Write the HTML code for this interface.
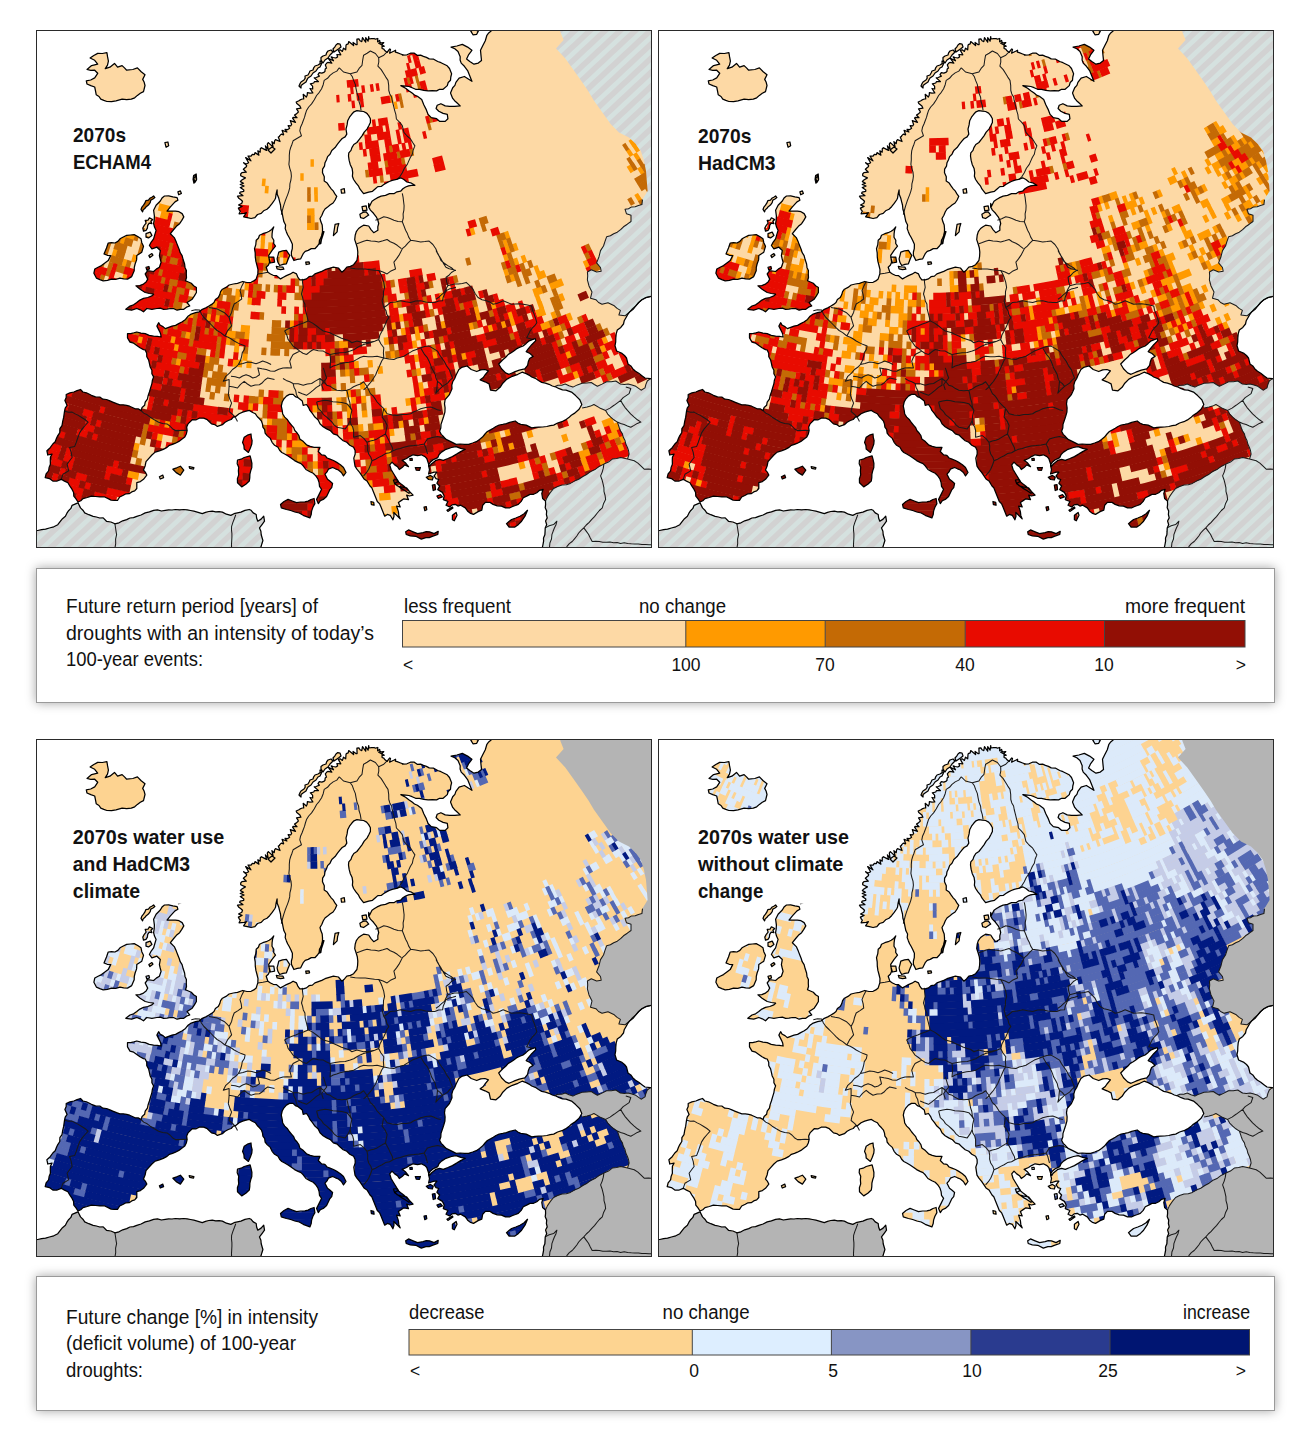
<!DOCTYPE html>
<html><head><meta charset="utf-8"><title>Drought maps</title>
<style>
html,body{margin:0;padding:0;background:#fff}
body{width:1310px;height:1435px;position:relative;overflow:hidden;font-family:"Liberation Sans",sans-serif;color:#111}
.map{position:absolute;display:block}
.lbl{font-family:"Liberation Sans",sans-serif;font-weight:bold;font-size:20.5px;fill:#111}
.legend{position:absolute;left:36px;width:1237px;background:#fff;border:1px solid #9a9a9a;box-shadow:0 0 10px rgba(0,0,0,.36)}
.legend svg{position:absolute;left:-1px;top:-1px;display:block}
.t{font-family:"Liberation Sans",sans-serif;font-size:20px;fill:#111}
.n{font-family:"Liberation Sans",sans-serif;font-size:17.5px;fill:#111}
</style></head><body>
<svg width="0" height="0" style="position:absolute"><defs>
<pattern id="hatch" width="10.3" height="10.3" patternUnits="userSpaceOnUse" patternTransform="rotate(-43)"><rect width="10.3" height="10.3" fill="#d2d2d2"/><rect y="0" width="10.3" height="4.7" fill="#d5e1df"/></pattern><clipPath id="frame"><rect x="0" y="0" width="615" height="517.5"/></clipPath><clipPath id="landclip"><path d="M505.8,519.9 506.5,517.0 507.1,514.0 507.6,511.1 507.5,508.0 508.9,504.8 509.1,501.4 509.2,497.9 510.7,494.7 509.6,491.0 511.2,487.9 510.4,484.5 510.7,481.0 509.2,477.8 509.6,474.4 509.5,471.1 506.6,468.5 505.8,463.5 507.1,459.3 503.6,460.3 500.8,462.7 497.6,464.3 494.0,464.4 490.7,466.1 487.3,467.7 485.2,471.4 482.3,474.4 479.5,475.5 476.6,476.5 473.9,477.8 469.5,477.9 465.5,476.1 461.2,475.8 457.1,474.4 454.0,472.4 449.4,472.4 446.7,475.2 445.8,480.2 442.1,481.6 437.5,484.4 434.6,483.4 432.0,481.6 429.3,477.9 424.7,475.2 421.9,476.1 419.2,474.3 416.1,474.9 413.7,477.0 410.0,475.2 411.9,471.5 407.3,469.7 408.2,466.0 406.4,462.4 401.8,459.6 403.6,456.0 400.9,453.2 402.7,449.5 400.0,448.6 398.1,445.9 400.9,442.2 398.1,442.2 392.6,444.0 393.5,439.5 392.6,435.8 392.6,434.0 390.8,428.5 389.0,426.6 385.3,424.8 381.6,425.7 377.1,424.8 373.4,426.6 370.6,428.5 366.1,430.3 369.7,433.1 372.5,436.7 368.8,434.9 366.1,437.6 363.3,439.5 361.5,436.7 358.7,434.9 356.0,432.1 353.7,434.9 355.1,439.5 357.8,444.0 360.6,448.6 362.4,451.4 358.7,453.2 361.5,456.0 365.1,456.9 370.6,457.8 373.4,461.5 377.1,465.1 373.4,466.0 370.6,465.1 372.5,469.7 367.9,468.8 365.1,470.6 362.4,472.4 364.2,477.0 360.6,476.1 362.4,481.6 362.8,485.4 364.2,488.9 360.6,485.3 357.8,482.5 358.0,486.3 356.9,489.8 354.2,485.3 351.4,484.4 348.7,486.2 346.8,481.6 345.0,477.0 343.7,473.9 341.3,471.5 339.5,466.9 337.7,462.4 335.8,457.8 334.0,456.0 331.0,450.9 328.0,448.9 326.0,445.9 323.6,442.4 320.9,439.2 319.0,436.1 318.4,432.4 317.8,428.1 319.2,424.0 319.1,420.5 317.6,417.3 313.8,415.3 310.8,412.3 307.2,410.7 304.1,408.1 301.3,405.2 297.4,403.9 294.5,400.8 290.7,398.9 287.1,396.7 284.0,393.8 282.2,389.9 278.9,387.1 276.5,383.7 273.9,380.4 272.5,377.3 270.5,374.5 267.2,375.3 266.3,371.1 262.1,367.8 259.3,366.6 257.1,364.4 253.5,364.4 250.4,366.1 248.0,368.8 246.2,372.0 245.3,376.2 246.2,380.4 246.7,384.0 248.7,387.1 251.5,389.8 253.7,393.0 255.7,395.3 257.7,397.6 258.8,400.5 261.1,403.0 262.9,405.7 263.8,408.9 267.4,411.6 270.5,414.8 274.2,416.3 278.1,417.3 284.0,417.3 282.3,421.5 285.6,424.9 288.9,425.4 291.1,428.0 294.0,429.1 297.5,430.5 300.8,432.4 304.4,434.7 307.5,437.5 310.0,442.5 307.5,445.9 305.4,442.5 302.4,440.0 299.5,438.8 296.6,437.5 292.4,439.2 291.0,441.9 289.0,444.2 291.5,449.2 294.1,451.3 296.6,453.4 295.7,457.6 293.7,459.9 292.4,462.7 290.6,466.6 287.3,469.4 284.2,470.8 282.3,473.6 280.6,469.4 283.1,464.4 285.6,459.3 283.5,456.3 283.1,452.6 281.9,449.0 279.8,445.9 277.2,443.2 273.9,441.7 269.9,439.5 267.2,435.8 265.0,433.6 262.1,432.4 258.6,430.6 255.4,428.2 252.1,426.0 248.7,424.0 245.8,422.5 243.6,420.2 242.0,417.3 238.6,415.3 236.1,412.3 234.3,408.4 231.1,405.6 229.1,403.0 228.7,399.7 226.9,397.2 226.5,394.1 225.5,391.2 223.5,388.8 221.2,386.5 219.3,383.7 216.2,382.3 213.4,380.4 210.1,381.2 206.7,382.1 203.1,383.7 200.0,386.3 197.3,387.2 195.2,389.5 192.3,390.5 189.1,392.2 186.4,394.7 181.4,396.4 178.7,394.6 175.5,393.9 171.3,389.7 167.7,388.2 163.7,388.0 160.2,389.8 156.2,389.7 152.0,393.9 150.7,397.1 151.1,400.6 150.3,404.0 148.8,407.0 146.1,409.0 142.9,411.4 139.4,413.2 136.5,414.4 133.4,415.3 131.0,417.4 127.3,419.4 123.4,420.8 119.2,422.1 115.9,425.0 112.9,428.3 110.0,431.7 109.1,436.0 107.5,440.1 109.5,442.4 110.8,445.1 107.5,449.3 104.4,451.6 100.8,452.7 100.8,458.5 98.7,460.9 95.7,461.9 93.2,463.7 90.0,463.8 87.3,465.3 83.7,467.0 81.5,470.3 78.3,470.4 75.1,470.1 72.2,468.6 68.2,466.8 63.8,466.9 59.6,466.5 55.4,466.1 51.3,467.5 47.0,468.6 44.8,470.7 42.0,472.0 40.0,468.9 37.8,466.1 37.6,462.6 36.1,459.4 33.9,456.1 31.9,452.7 28.5,451.1 25.2,449.3 21.2,451.0 16.8,451.0 13.4,448.6 9.2,447.6 10.1,443.9 12.6,440.9 13.1,437.6 14.4,434.3 14.3,430.8 14.4,427.3 16.0,424.1 11.8,425.0 10.9,420.8 14.2,417.7 16.8,414.0 19.2,411.7 20.4,408.6 21.8,405.6 23.8,402.5 23.9,398.6 26.0,395.6 26.7,391.3 27.7,387.2 28.5,381.3 29.2,378.1 31.1,375.4 28.9,370.4 30.2,367.6 30.2,364.5 33.9,362.9 37.8,362.0 41.1,360.6 44.5,359.5 46.9,362.0 50.4,362.8 55.4,365.3 59.5,366.9 63.8,367.0 66.8,369.2 70.5,369.5 73.9,370.9 77.3,372.3 80.6,373.7 83.9,374.8 87.3,374.8 90.7,375.4 93.6,376.2 96.4,377.5 99.1,378.8 102.2,378.9 105.0,380.5 106.1,377.5 108.6,375.3 109.2,372.1 111.4,369.1 112.2,365.4 113.4,362.0 114.6,357.8 115.9,353.6 116.4,350.2 117.6,346.9 115.9,343.7 115.9,340.2 114.2,337.0 113.4,333.4 112.6,329.9 110.8,326.7 110.7,323.2 109.2,320.0 107.5,319.6 104.0,317.8 100.8,315.4 97.7,313.2 94.0,312.1 91.5,307.9 91.5,303.7 94.7,303.6 97.8,302.9 100.8,302.0 104.9,303.1 109.2,303.7 113.2,305.4 117.6,306.2 121.4,306.3 125.1,307.0 124.7,304.0 123.4,301.1 120.9,296.1 122.6,292.7 124.3,295.3 127.0,296.6 129.3,298.6 132.7,297.3 136.0,296.1 139.6,295.4 142.7,293.6 146.3,291.8 149.5,289.4 151.7,286.6 154.5,284.4 159.5,282.7 163.3,281.8 166.3,279.3 169.8,277.9 173.0,276.0 175.6,274.4 178.0,272.6 179.4,269.5 182.2,267.6 183.7,264.8 184.6,261.7 186.4,259.2 190.0,257.4 193.1,255.0 197.3,254.0 201.5,253.3 206.7,251.5 210.9,252.5 215.1,252.3 217.8,250.9 220.2,248.9 221.8,243.9 222.0,239.6 221.0,235.5 219.9,231.4 219.3,227.1 219.2,222.9 218.5,218.7 219.8,214.6 220.2,210.3 222.4,208.2 223.5,205.3 226.8,203.7 230.2,202.7 233.2,201.3 235.7,199.4 237.8,196.9 236.6,200.1 236.1,203.6 236.0,207.2 237.8,210.3 237.7,213.5 239.5,216.2 236.1,220.4 234.4,222.9 232.7,225.4 233.1,228.8 233.6,232.1 232.5,235.0 230.2,237.2 231.9,242.2 234.5,244.0 237.2,245.3 240.3,245.6 244.5,248.9 247.4,247.2 250.4,245.6 253.9,244.2 257.1,242.2 260.5,243.9 261.8,247.1 263.8,249.8 267.2,249.8 270.5,248.9 273.0,246.7 276.4,246.1 278.9,243.9 282.4,242.6 285.8,241.4 289.0,239.7 293.2,238.3 297.4,237.2 302.4,238.0 305.8,242.2 308.5,239.9 310.8,237.2 314.4,236.4 317.6,234.7 320.9,230.5 321.6,226.3 321.8,222.1 321.3,217.8 320.1,213.7 318.7,209.6 319.2,205.3 320.3,201.6 322.6,198.5 325.0,196.8 327.6,195.2 332.7,196.0 335.0,199.6 337.7,202.7 341.9,200.2 341.8,196.8 342.7,193.5 341.8,190.0 340.2,186.8 337.5,183.3 334.4,180.1 332.6,176.9 332.7,173.4 333.5,176.3 336.0,171.3 338.5,169.6 341.1,167.9 345.1,166.2 349.5,165.4 353.5,163.7 357.9,163.7 361.0,161.8 364.6,161.2 366.9,158.8 369.6,157.0 372.6,155.8 375.7,155.3 378.9,155.3 374.7,152.8 370.9,152.0 367.9,149.5 364.6,147.8 360.5,149.3 356.2,150.3 353.3,151.5 350.5,152.9 347.8,154.5 345.2,156.4 341.8,156.6 339.4,158.7 336.5,161.3 332.7,162.1 327.6,163.7 325.8,161.3 323.9,158.9 322.6,156.2 319.9,152.9 317.6,149.5 316.4,146.2 316.7,142.7 316.1,138.4 314.2,134.4 313.1,130.2 312.5,126.0 312.8,122.8 315.0,120.4 315.9,117.6 317.8,114.5 320.9,112.5 323.5,109.2 326.0,105.8 328.2,102.2 331.0,99.1 332.8,95.8 334.4,92.4 334.4,88.8 332.7,85.6 330.6,83.1 327.6,81.5 324.3,81.2 320.9,80.6 318.0,81.8 315.9,84.0 313.5,87.2 311.7,90.7 311.1,94.9 310.0,99.1 310.8,104.1 309.1,106.9 306.2,108.5 304.1,110.8 301.5,114.1 299.1,117.6 295.8,120.4 294.0,124.3 291.6,126.6 290.5,129.8 289.0,132.7 288.5,136.1 286.6,139.2 286.5,142.7 288.3,146.8 288.2,151.1 291.2,153.1 293.2,156.2 295.2,158.8 297.4,161.2 298.9,163.9 300.8,166.3 299.1,170.0 297.1,173.0 294.0,175.0 291.6,177.1 289.0,179.0 287.3,181.8 285.9,185.2 284.0,188.5 284.9,191.8 286.2,195.1 286.5,198.5 286.5,202.8 285.6,206.9 283.5,210.0 283.1,213.7 281.2,216.3 278.9,218.7 275.3,218.6 272.2,220.4 269.2,221.4 267.2,223.7 264.7,228.8 261.3,229.4 257.9,230.5 255.4,225.4 255.4,222.0 256.3,218.7 256.4,214.3 254.6,210.3 253.2,207.5 251.6,204.8 250.4,201.9 249.2,198.6 249.6,195.0 247.9,191.8 247.0,187.6 246.2,183.4 244.9,179.3 244.5,175.0 243.6,171.7 242.8,168.3 241.2,164.3 241.1,159.9 240.1,164.1 239.5,168.3 238.6,170.0 236.2,173.4 233.6,176.7 231.0,179.3 227.6,180.8 225.2,183.4 221.5,184.5 218.9,187.7 215.1,188.5 211.4,187.6 207.6,186.8 210.4,182.7 208.2,183.3 203.1,183.8 204.4,181.1 203.4,180.1 202.4,178.1 206.1,176.4 202.5,175.0 205.8,173.3 206.5,171.3 204.9,169.8 202.5,167.9 201.5,166.2 206.9,165.6 203.6,163.3 204.1,162.2 207.7,161.4 207.8,160.1 204.3,157.6 208.1,156.0 204.2,154.5 207.5,153.2 204.4,151.6 205.5,150.2 209.4,147.9 204.7,145.7 204.7,144.0 205.9,142.7 210.3,142.2 207.4,139.2 209.3,137.5 210.4,136.7 210.7,135.6 207.6,132.7 210.2,134.0 212.6,132.7 209.7,127.6 214.9,130.8 212.0,126.0 215.1,126.0 216.3,124.4 218.4,124.6 219.0,122.6 222.9,125.1 221.8,120.9 224.2,122.1 224.3,118.7 225.4,117.7 228.0,119.1 230.5,120.4 229.4,115.9 232.1,119.1 231.3,114.0 232.3,112.6 237.1,117.0 235.9,111.7 238.2,113.7 238.6,110.8 239.5,109.7 244.0,111.5 242.3,107.1 243.4,106.5 243.8,105.6 245.3,104.1 247.6,104.8 246.1,100.3 250.9,102.0 249.1,99.3 251.4,99.7 253.6,98.2 252.1,95.7 254.7,95.8 255.6,94.5 254.3,90.6 259.5,92.3 256.6,88.2 257.1,87.3 261.0,87.6 258.5,85.1 260.1,84.1 262.2,82.2 262.2,81.3 260.5,78.9 264.9,78.2 263.9,76.1 260.8,73.5 260.2,72.0 263.5,70.5 264.1,69.8 266.4,69.0 267.7,68.9 267.2,64.3 270.3,67.0 271.2,65.2 271.4,62.6 274.0,63.2 276.8,62.9 274.0,58.5 276.7,59.0 276.6,56.2 274.4,53.8 277.7,53.0 278.4,51.7 282.5,51.6 278.2,47.8 280.2,47.5 283.4,46.2 282.0,44.6 283.3,42.7 285.8,43.2 287.8,42.4 288.9,41.6 289.2,39.0 290.5,38.1 289.3,34.8 290.8,33.1 291.8,32.4 295.8,33.1 292.3,28.4 297.5,30.8 295.2,26.9 297.2,27.5 299.8,28.0 301.6,26.9 300.9,24.5 304.8,24.8 302.5,20.6 304.1,19.8 306.4,21.4 307.5,18.2 309.7,19.8 310.0,15.5 310.3,14.6 312.2,13.9 312.7,11.6 317.6,15.6 317.1,12.4 319.9,14.5 321.1,14.5 320.9,9.2 322.9,8.9 324.0,10.8 325.8,11.6 326.5,7.7 329.7,12.2 329.7,7.7 332.1,11.2 332.7,6.7 333.0,9.0 335.3,8.6 338.1,8.5 339.4,9.2 341.8,8.5 341.6,11.8 343.6,10.4 344.2,12.9 345.5,15.0 347.8,12.6 342.7,13.2 348.3,16.2 346.0,16.6 346.1,18.5 347.8,19.1 348.7,20.5 351.2,22.4 353.5,19.0 354.5,19.3 353.6,23.2 357.6,21.3 359.6,20.2 359.4,22.1 361.2,22.7 364.6,24.0 367.9,25.2 366.4,25.1 370.9,24.8 375.0,23.0 378.3,23.2 381.2,25.3 384.6,25.1 387.4,26.4 390.4,27.4 393.2,28.9 397.7,29.2 401.7,31.5 405.0,32.7 408.1,34.2 411.2,35.8 413.5,38.5 415.6,43.8 414.8,47.0 414.5,50.2 412.2,52.5 411.3,55.6 407.1,59.3 403.6,59.3 400.6,60.9 396.4,60.7 392.1,60.9 387.8,60.3 383.5,59.3 379.6,59.3 376.1,57.7 372.9,56.5 369.6,56.1 364.8,55.6 369.6,58.2 372.8,60.7 376.1,63.1 378.5,65.0 381.4,66.3 385.7,69.5 387.8,74.8 390.0,79.1 392.1,84.4 395.3,87.6 400.6,88.7 403.8,91.4 409.2,91.4 411.9,88.7 411.3,84.4 407.1,83.4 402.8,81.2 400.1,78.5 401.2,75.3 404.9,73.7 409.2,75.9 413.5,76.4 418.8,76.4 424.2,75.9 420.9,72.7 418.6,70.7 416.7,68.4 414.5,63.1 416.7,57.7 418.9,55.4 419.9,52.4 423.1,48.1 428.4,46.5 432.7,49.2 435.9,51.3 433.8,46.0 431.6,40.6 428.4,36.3 425.2,33.1 424.1,30.0 424.2,26.7 422.0,21.4 418.8,18.7 415.1,17.1 420.9,16.0 426.3,14.4 431.6,17.1 435.9,20.3 432.7,24.6 430.6,28.9 433.8,31.5 438.0,34.2 442.3,33.1 445.5,30.5 445.0,25.6 444.5,20.3 446.6,16.0 449.3,10.7 450.9,5.3 452.7,2.9 455.1,1.1 456.2,-2.1 459.2,-2.7 462.3,-2.2 465.4,-1.8 468.4,-3.4 471.5,-2.6 474.5,-2.5 477.5,-3.7 480.6,-4.2 483.7,-3.3 486.8,-2.9 489.8,-3.0 492.8,-3.4 495.9,-4.2 498.9,-4.3 502.0,-4.2 505.1,-3.6 508.1,-5.0 511.1,-5.1 514.2,-4.6 517.3,-4.1 520.2,-5.8 523.3,-6.2 526.3,-6.2 529.4,-5.4 532.5,-5.5 535.5,-6.5 538.6,-6.6 541.6,-6.0 544.7,-6.0 547.8,-6.0 550.8,-6.1 553.8,-7.6 556.9,-6.9 560.0,-6.3 563.0,-6.2 566.0,-7.6 569.1,-6.7 572.2,-7.3 575.2,-6.9 578.2,-8.4 581.3,-7.6 584.4,-7.5 587.4,-8.3 590.4,-9.2 593.5,-9.2 596.5,-9.4 599.6,-9.7 602.6,-9.7 605.7,-8.9 608.7,-10.1 611.8,-8.9 614.9,-9.1 617.9,-9.1 621.0,-9.3 624.0,-10.0 624.0,530.0 621.0,529.6 617.9,529.2 614.9,529.1 611.9,529.7 608.8,529.1 605.8,530.8 602.8,530.8 599.8,530.9 596.7,530.6 593.7,530.3 590.7,530.1 587.6,529.6 584.6,529.5 581.6,530.8 578.5,530.2 575.5,529.9 572.5,530.2 569.4,530.8 566.4,529.8 563.4,530.3 560.4,529.6 557.3,530.0 554.3,529.1 551.3,529.1 548.2,530.9 545.2,529.5 542.2,529.6 539.1,530.4 536.1,530.8 533.1,530.0 530.0,530.3 527.0,529.5 524.0,529.2 521.0,530.2 517.9,530.4 514.9,530.0 511.9,529.6 508.8,529.4 505.8,530.0 506.0,526.6 505.4,523.3Z M54.1,28.0 57.8,25.5 61.7,23.4 66.3,23.5 70.9,22.7 71.6,26.9 72.4,31.1 71.5,35.1 69.3,38.7 73.9,37.2 78.5,33.4 81.6,37.2 86.1,35.6 88.5,37.9 90.7,40.2 96.8,39.5 101.4,37.9 105.2,41.8 109.0,44.8 106.7,49.4 108.2,52.3 109.0,55.5 107.5,61.6 104.3,63.3 101.4,65.4 98.7,67.8 95.3,69.2 90.7,69.6 86.1,69.2 80.0,70.8 75.5,71.7 70.9,71.5 67.8,70.4 64.8,69.2 63.0,66.5 60.2,64.7 59.5,60.8 58.7,57.0 54.8,55.6 51.0,54.0 50.3,50.9 54.7,50.0 58.7,47.9 61.7,43.3 58.7,40.2 54.8,40.4 51.0,39.5 55.6,35.6 61.7,34.1 58.7,30.3Z M98.2,204.6 101.7,206.5 105.0,208.8 105.8,212.7 107.5,216.3 105.8,222.2 100.8,225.6 100.6,229.9 99.1,234.0 98.3,237.3 98.2,240.7 95.7,246.6 91.5,249.1 87.7,248.9 84.0,248.2 79.8,249.3 75.6,249.1 71.4,250.3 67.2,250.8 63.8,249.6 60.5,248.2 57.9,243.2 58.8,239.0 62.1,237.2 65.5,235.6 68.9,233.1 72.2,230.6 74.7,225.6 71.2,225.3 68.0,223.9 70.5,218.0 72.2,213.0 75.6,212.6 78.9,213.0 81.9,211.4 84.0,208.8 87.3,207.0 90.7,205.4 94.5,205.0Z M128.5,166.0 132.7,165.9 136.9,166.8 141.1,167.6 141.9,170.2 139.0,171.9 136.7,174.4 134.4,176.9 131.0,181.1 135.2,181.1 139.4,181.1 143.0,181.7 146.1,183.6 147.8,186.9 145.8,190.4 143.6,193.7 140.4,196.3 137.7,199.5 134.4,203.7 138.5,207.9 140.3,212.1 141.9,216.3 143.2,219.5 144.2,222.7 146.1,225.6 147.2,229.8 148.6,234.0 149.0,237.4 150.4,240.6 150.3,244.0 150.5,247.5 149.5,250.8 155.3,253.3 157.6,255.7 160.4,257.5 160.4,262.5 158.4,265.9 156.2,269.2 151.1,272.6 153.7,276.0 150.5,277.2 147.8,279.3 144.4,279.3 141.1,280.2 137.9,278.7 134.4,278.5 131.0,279.1 127.6,279.3 124.4,278.2 120.9,278.5 115.9,279.3 110.8,278.5 107.5,281.8 104.3,279.8 100.8,278.5 95.7,280.2 89.8,279.3 94.0,276.0 97.6,274.8 100.8,272.6 103.9,270.1 107.5,268.4 111.8,267.5 115.9,265.9 117.6,264.2 113.3,263.5 109.2,262.5 104.1,259.2 99.9,255.8 103.8,255.6 107.5,254.1 110.1,252.0 111.7,249.1 109.2,244.0 111.7,240.7 117.6,241.5 120.3,239.1 123.4,237.3 125.1,232.3 124.2,229.0 123.4,225.6 124.3,220.5 120.9,217.2 115.9,218.9 113.4,215.5 115.2,212.0 117.6,208.8 118.8,204.6 120.1,200.4 118.5,197.1 117.6,193.7 118.2,189.9 118.4,186.1 117.6,180.2 120.1,175.2 124.3,171.0 126.0,168.1Z M208.2,407.3 211.4,405.2 215.0,404.0 215.3,407.3 216.1,410.6 215.8,414.0 214.3,418.3 212.4,422.4 208.2,419.1 207.9,415.6 206.6,412.4Z M201.5,430.0 205.1,429.2 208.2,427.5 214.1,425.8 215.1,429.7 215.9,433.5 215.8,437.6 214.7,440.8 213.9,444.2 213.8,447.6 213.3,451.0 209.8,454.3 205.7,456.9 201.5,452.7 201.4,448.7 202.7,444.9 202.4,440.9 202.7,437.2 201.2,433.7Z M244.5,474.4 248.0,471.5 252.1,469.4 256.3,471.0 260.5,472.7 264.6,472.0 268.9,471.9 272.1,471.1 275.0,469.5 278.1,468.5 278.9,473.6 276.9,477.2 275.6,481.1 275.2,484.6 273.9,487.9 270.5,486.6 267.2,485.3 263.2,483.0 258.8,482.0 254.7,480.5 250.4,479.5 245.3,477.8Z M369.7,501.8 372.5,499.9 377.1,501.8 381.6,503.6 387.1,502.7 390.3,501.6 393.5,501.8 398.1,503.6 402.2,501.3 401.8,504.5 396.3,506.3 393.2,507.6 389.9,507.7 385.3,509.1 379.8,506.3 374.3,505.9 370.2,504.5Z M357.4,450.0 360.6,449.5 362.7,452.0 365.1,454.1 368.0,456.3 370.6,458.7 374.3,462.4 372.9,463.3 368.8,460.5 366.0,458.9 363.3,456.9 358.7,453.7Z M373.8,428.5 376.1,428.3 376.3,430.3 374.1,430.5Z M379.3,437.6 384.4,437.5 383.5,440.4 380.3,440.2Z M390.3,447.3 394.5,445.4 397.2,447.3 396.3,450.0 392.6,449.5Z M396.3,455.0 399.0,454.6 399.5,459.6 397.2,460.5Z M400.9,466.0 404.5,464.7 406.4,466.9 402.2,468.3Z M388.0,477.0 390.3,476.6 390.8,479.8 388.8,480.7Z M416.4,485.3 420.1,482.5 421.0,485.3 418.3,490.8 416.4,489.8Z M410.9,480.2 416.4,477.0 416.9,478.1 411.9,481.4Z M334.9,471.5 337.7,472.4 338.1,475.2 335.4,474.7Z M470.5,493.7 473.0,491.6 475.6,489.5 479.8,488.0 484.0,486.2 488.1,483.8 491.5,480.3 489.0,486.2 485.6,491.2 482.5,494.4 478.9,497.1 473.1,497.1Z M136.9,439.2 140.7,437.8 144.4,436.2 147.8,440.1 144.4,445.1 140.2,442.6Z M123.4,446.8 126.8,445.1 127.6,447.6 124.3,449.0Z M153.2,436.7 157.9,437.6 157.5,439.2 153.7,438.4Z M242.8,222.1 246.5,220.9 250.4,220.4 253.7,225.4 252.0,229.6 250.4,233.8 246.9,234.3 243.7,235.5 241.9,232.3 241.1,228.8 242.0,225.4Z M232.7,227.1 237.8,227.1 238.6,232.1 234.4,233.0Z M240.3,236.3 243.6,237.0 247.0,237.2 247.9,239.2 244.5,239.7 241.1,238.9Z M299.1,194.4 302.8,193.5 301.6,197.6 301.1,201.9 297.4,205.6 297.9,201.8 298.5,198.1Z M286.5,201.9 288.0,201.6 286.8,205.6 285.5,209.5 284.8,213.7 283.6,214.0 284.0,209.8 285.5,205.9Z M269.7,232.1 273.1,231.8 273.6,233.8 270.2,234.5Z M323.9,184.3 326.8,182.4 330.2,181.8 332.7,185.1 327.6,188.5 324.6,187.6Z M326.0,176.7 330.2,175.9 331.0,180.1 326.8,180.9Z M434.8,1.1 438.0,-0.5 442.3,1.1 440.7,4.3 437.0,4.8Z M305.0,159.5 308.3,158.7 308.8,162.9 305.5,163.2Z M105.0,179.4 105.9,177.1 107.5,175.2 108.8,173.2 109.8,170.7 112.5,170.2 113.8,168.3 115.8,167.2 117.6,166.0 118.9,167.6 117.0,169.0 114.8,170.1 114.2,172.7 112.4,175.1 110.0,176.9 108.8,178.5 107.2,179.9 106.6,181.9Z M109.2,190.3 112.0,190.2 113.4,187.8 116.7,189.5 114.9,191.3 115.9,193.7 113.2,193.1 111.7,195.3 111.4,198.1 110.0,200.4 107.5,201.2 106.8,198.1 108.3,195.3 110.1,193.1Z M110.0,203.7 114.2,202.1 115.9,205.4 112.5,207.9 110.0,207.1Z M112.9,225.6 115.9,223.6 116.9,225.2 113.9,227.6Z M141.9,161.8 144.4,160.9 145.4,163.4 142.7,164.8Z M157.9,148.3 159.5,145.8 160.5,150.0 158.9,152.5Z M128.9,112.7 131.9,112.0 132.7,115.8 130.1,117.3Z M157.6,145.6 160.2,144.0 160.6,149.4 157.9,153.2 157.1,149.4Z M110.0,237.3 112.9,236.5 113.5,239.0 110.8,240.0Z M263.0,56.0 263.9,53.9 265.0,52.0 268.0,50.0 269.2,48.2 269.0,46.0 272.0,45.0 273.1,43.0 274.0,41.0 277.0,40.0 277.7,37.8 279.0,36.0 282.0,35.0 284.2,33.6 284.0,31.0 286.0,32.0 285.0,35.0 284.0,37.0 282.0,38.0 280.0,41.0 277.0,43.0 275.0,46.0 272.0,48.0 270.9,49.9 270.0,52.0 267.0,54.0 265.1,55.5 265.0,58.0Z M285.0,30.0 285.0,27.5 287.0,26.0 290.0,25.0 290.6,22.8 292.0,21.0 295.0,20.0 297.0,22.0 295.5,23.5 294.0,25.0 292.0,28.0 289.0,30.0 287.0,33.0Z M297.0,19.0 298.7,17.1 300.0,15.0 301.8,13.6 304.0,14.0 305.0,17.0 303.1,18.6 301.0,20.0 298.0,22.0Z M232.0,120.0 236.0,117.0 239.0,119.0 235.0,123.0Z"/></clipPath><path id="coast" d="M505.8,519.9 506.5,517.0 507.1,514.0 507.6,511.1 507.5,508.0 508.9,504.8 509.1,501.4 509.2,497.9 510.7,494.7 509.6,491.0 511.2,487.9 510.4,484.5 510.7,481.0 509.2,477.8 509.6,474.4 509.5,471.1 506.6,468.5 505.8,463.5 507.1,459.3 503.6,460.3 500.8,462.7 497.6,464.3 494.0,464.4 490.7,466.1 487.3,467.7 485.2,471.4 482.3,474.4 479.5,475.5 476.6,476.5 473.9,477.8 469.5,477.9 465.5,476.1 461.2,475.8 457.1,474.4 454.0,472.4 449.4,472.4 446.7,475.2 445.8,480.2 442.1,481.6 437.5,484.4 434.6,483.4 432.0,481.6 429.3,477.9 424.7,475.2 421.9,476.1 419.2,474.3 416.1,474.9 413.7,477.0 410.0,475.2 411.9,471.5 407.3,469.7 408.2,466.0 406.4,462.4 401.8,459.6 403.6,456.0 400.9,453.2 402.7,449.5 400.0,448.6 398.1,445.9 400.9,442.2 398.1,442.2 392.6,444.0 393.5,439.5 392.6,435.8 392.6,434.0 390.8,428.5 389.0,426.6 385.3,424.8 381.6,425.7 377.1,424.8 373.4,426.6 370.6,428.5 366.1,430.3 369.7,433.1 372.5,436.7 368.8,434.9 366.1,437.6 363.3,439.5 361.5,436.7 358.7,434.9 356.0,432.1 353.7,434.9 355.1,439.5 357.8,444.0 360.6,448.6 362.4,451.4 358.7,453.2 361.5,456.0 365.1,456.9 370.6,457.8 373.4,461.5 377.1,465.1 373.4,466.0 370.6,465.1 372.5,469.7 367.9,468.8 365.1,470.6 362.4,472.4 364.2,477.0 360.6,476.1 362.4,481.6 362.8,485.4 364.2,488.9 360.6,485.3 357.8,482.5 358.0,486.3 356.9,489.8 354.2,485.3 351.4,484.4 348.7,486.2 346.8,481.6 345.0,477.0 343.7,473.9 341.3,471.5 339.5,466.9 337.7,462.4 335.8,457.8 334.0,456.0 331.0,450.9 328.0,448.9 326.0,445.9 323.6,442.4 320.9,439.2 319.0,436.1 318.4,432.4 317.8,428.1 319.2,424.0 319.1,420.5 317.6,417.3 313.8,415.3 310.8,412.3 307.2,410.7 304.1,408.1 301.3,405.2 297.4,403.9 294.5,400.8 290.7,398.9 287.1,396.7 284.0,393.8 282.2,389.9 278.9,387.1 276.5,383.7 273.9,380.4 272.5,377.3 270.5,374.5 267.2,375.3 266.3,371.1 262.1,367.8 259.3,366.6 257.1,364.4 253.5,364.4 250.4,366.1 248.0,368.8 246.2,372.0 245.3,376.2 246.2,380.4 246.7,384.0 248.7,387.1 251.5,389.8 253.7,393.0 255.7,395.3 257.7,397.6 258.8,400.5 261.1,403.0 262.9,405.7 263.8,408.9 267.4,411.6 270.5,414.8 274.2,416.3 278.1,417.3 284.0,417.3 282.3,421.5 285.6,424.9 288.9,425.4 291.1,428.0 294.0,429.1 297.5,430.5 300.8,432.4 304.4,434.7 307.5,437.5 310.0,442.5 307.5,445.9 305.4,442.5 302.4,440.0 299.5,438.8 296.6,437.5 292.4,439.2 291.0,441.9 289.0,444.2 291.5,449.2 294.1,451.3 296.6,453.4 295.7,457.6 293.7,459.9 292.4,462.7 290.6,466.6 287.3,469.4 284.2,470.8 282.3,473.6 280.6,469.4 283.1,464.4 285.6,459.3 283.5,456.3 283.1,452.6 281.9,449.0 279.8,445.9 277.2,443.2 273.9,441.7 269.9,439.5 267.2,435.8 265.0,433.6 262.1,432.4 258.6,430.6 255.4,428.2 252.1,426.0 248.7,424.0 245.8,422.5 243.6,420.2 242.0,417.3 238.6,415.3 236.1,412.3 234.3,408.4 231.1,405.6 229.1,403.0 228.7,399.7 226.9,397.2 226.5,394.1 225.5,391.2 223.5,388.8 221.2,386.5 219.3,383.7 216.2,382.3 213.4,380.4 210.1,381.2 206.7,382.1 203.1,383.7 200.0,386.3 197.3,387.2 195.2,389.5 192.3,390.5 189.1,392.2 186.4,394.7 181.4,396.4 178.7,394.6 175.5,393.9 171.3,389.7 167.7,388.2 163.7,388.0 160.2,389.8 156.2,389.7 152.0,393.9 150.7,397.1 151.1,400.6 150.3,404.0 148.8,407.0 146.1,409.0 142.9,411.4 139.4,413.2 136.5,414.4 133.4,415.3 131.0,417.4 127.3,419.4 123.4,420.8 119.2,422.1 115.9,425.0 112.9,428.3 110.0,431.7 109.1,436.0 107.5,440.1 109.5,442.4 110.8,445.1 107.5,449.3 104.4,451.6 100.8,452.7 100.8,458.5 98.7,460.9 95.7,461.9 93.2,463.7 90.0,463.8 87.3,465.3 83.7,467.0 81.5,470.3 78.3,470.4 75.1,470.1 72.2,468.6 68.2,466.8 63.8,466.9 59.6,466.5 55.4,466.1 51.3,467.5 47.0,468.6 44.8,470.7 42.0,472.0 40.0,468.9 37.8,466.1 37.6,462.6 36.1,459.4 33.9,456.1 31.9,452.7 28.5,451.1 25.2,449.3 21.2,451.0 16.8,451.0 13.4,448.6 9.2,447.6 10.1,443.9 12.6,440.9 13.1,437.6 14.4,434.3 14.3,430.8 14.4,427.3 16.0,424.1 11.8,425.0 10.9,420.8 14.2,417.7 16.8,414.0 19.2,411.7 20.4,408.6 21.8,405.6 23.8,402.5 23.9,398.6 26.0,395.6 26.7,391.3 27.7,387.2 28.5,381.3 29.2,378.1 31.1,375.4 28.9,370.4 30.2,367.6 30.2,364.5 33.9,362.9 37.8,362.0 41.1,360.6 44.5,359.5 46.9,362.0 50.4,362.8 55.4,365.3 59.5,366.9 63.8,367.0 66.8,369.2 70.5,369.5 73.9,370.9 77.3,372.3 80.6,373.7 83.9,374.8 87.3,374.8 90.7,375.4 93.6,376.2 96.4,377.5 99.1,378.8 102.2,378.9 105.0,380.5 106.1,377.5 108.6,375.3 109.2,372.1 111.4,369.1 112.2,365.4 113.4,362.0 114.6,357.8 115.9,353.6 116.4,350.2 117.6,346.9 115.9,343.7 115.9,340.2 114.2,337.0 113.4,333.4 112.6,329.9 110.8,326.7 110.7,323.2 109.2,320.0 107.5,319.6 104.0,317.8 100.8,315.4 97.7,313.2 94.0,312.1 91.5,307.9 91.5,303.7 94.7,303.6 97.8,302.9 100.8,302.0 104.9,303.1 109.2,303.7 113.2,305.4 117.6,306.2 121.4,306.3 125.1,307.0 124.7,304.0 123.4,301.1 120.9,296.1 122.6,292.7 124.3,295.3 127.0,296.6 129.3,298.6 132.7,297.3 136.0,296.1 139.6,295.4 142.7,293.6 146.3,291.8 149.5,289.4 151.7,286.6 154.5,284.4 159.5,282.7 163.3,281.8 166.3,279.3 169.8,277.9 173.0,276.0 175.6,274.4 178.0,272.6 179.4,269.5 182.2,267.6 183.7,264.8 184.6,261.7 186.4,259.2 190.0,257.4 193.1,255.0 197.3,254.0 201.5,253.3 206.7,251.5 210.9,252.5 215.1,252.3 217.8,250.9 220.2,248.9 221.8,243.9 222.0,239.6 221.0,235.5 219.9,231.4 219.3,227.1 219.2,222.9 218.5,218.7 219.8,214.6 220.2,210.3 222.4,208.2 223.5,205.3 226.8,203.7 230.2,202.7 233.2,201.3 235.7,199.4 237.8,196.9 236.6,200.1 236.1,203.6 236.0,207.2 237.8,210.3 237.7,213.5 239.5,216.2 236.1,220.4 234.4,222.9 232.7,225.4 233.1,228.8 233.6,232.1 232.5,235.0 230.2,237.2 231.9,242.2 234.5,244.0 237.2,245.3 240.3,245.6 244.5,248.9 247.4,247.2 250.4,245.6 253.9,244.2 257.1,242.2 260.5,243.9 261.8,247.1 263.8,249.8 267.2,249.8 270.5,248.9 273.0,246.7 276.4,246.1 278.9,243.9 282.4,242.6 285.8,241.4 289.0,239.7 293.2,238.3 297.4,237.2 302.4,238.0 305.8,242.2 308.5,239.9 310.8,237.2 314.4,236.4 317.6,234.7 320.9,230.5 321.6,226.3 321.8,222.1 321.3,217.8 320.1,213.7 318.7,209.6 319.2,205.3 320.3,201.6 322.6,198.5 325.0,196.8 327.6,195.2 332.7,196.0 335.0,199.6 337.7,202.7 341.9,200.2 341.8,196.8 342.7,193.5 341.8,190.0 340.2,186.8 337.5,183.3 334.4,180.1 332.6,176.9 332.7,173.4 333.5,176.3 336.0,171.3 338.5,169.6 341.1,167.9 345.1,166.2 349.5,165.4 353.5,163.7 357.9,163.7 361.0,161.8 364.6,161.2 366.9,158.8 369.6,157.0 372.6,155.8 375.7,155.3 378.9,155.3 374.7,152.8 370.9,152.0 367.9,149.5 364.6,147.8 360.5,149.3 356.2,150.3 353.3,151.5 350.5,152.9 347.8,154.5 345.2,156.4 341.8,156.6 339.4,158.7 336.5,161.3 332.7,162.1 327.6,163.7 325.8,161.3 323.9,158.9 322.6,156.2 319.9,152.9 317.6,149.5 316.4,146.2 316.7,142.7 316.1,138.4 314.2,134.4 313.1,130.2 312.5,126.0 312.8,122.8 315.0,120.4 315.9,117.6 317.8,114.5 320.9,112.5 323.5,109.2 326.0,105.8 328.2,102.2 331.0,99.1 332.8,95.8 334.4,92.4 334.4,88.8 332.7,85.6 330.6,83.1 327.6,81.5 324.3,81.2 320.9,80.6 318.0,81.8 315.9,84.0 313.5,87.2 311.7,90.7 311.1,94.9 310.0,99.1 310.8,104.1 309.1,106.9 306.2,108.5 304.1,110.8 301.5,114.1 299.1,117.6 295.8,120.4 294.0,124.3 291.6,126.6 290.5,129.8 289.0,132.7 288.5,136.1 286.6,139.2 286.5,142.7 288.3,146.8 288.2,151.1 291.2,153.1 293.2,156.2 295.2,158.8 297.4,161.2 298.9,163.9 300.8,166.3 299.1,170.0 297.1,173.0 294.0,175.0 291.6,177.1 289.0,179.0 287.3,181.8 285.9,185.2 284.0,188.5 284.9,191.8 286.2,195.1 286.5,198.5 286.5,202.8 285.6,206.9 283.5,210.0 283.1,213.7 281.2,216.3 278.9,218.7 275.3,218.6 272.2,220.4 269.2,221.4 267.2,223.7 264.7,228.8 261.3,229.4 257.9,230.5 255.4,225.4 255.4,222.0 256.3,218.7 256.4,214.3 254.6,210.3 253.2,207.5 251.6,204.8 250.4,201.9 249.2,198.6 249.6,195.0 247.9,191.8 247.0,187.6 246.2,183.4 244.9,179.3 244.5,175.0 243.6,171.7 242.8,168.3 241.2,164.3 241.1,159.9 240.1,164.1 239.5,168.3 238.6,170.0 236.2,173.4 233.6,176.7 231.0,179.3 227.6,180.8 225.2,183.4 221.5,184.5 218.9,187.7 215.1,188.5 211.4,187.6 207.6,186.8 210.4,182.7 208.2,183.3 203.1,183.8 204.4,181.1 203.4,180.1 202.4,178.1 206.1,176.4 202.5,175.0 205.8,173.3 206.5,171.3 204.9,169.8 202.5,167.9 201.5,166.2 206.9,165.6 203.6,163.3 204.1,162.2 207.7,161.4 207.8,160.1 204.3,157.6 208.1,156.0 204.2,154.5 207.5,153.2 204.4,151.6 205.5,150.2 209.4,147.9 204.7,145.7 204.7,144.0 205.9,142.7 210.3,142.2 207.4,139.2 209.3,137.5 210.4,136.7 210.7,135.6 207.6,132.7 210.2,134.0 212.6,132.7 209.7,127.6 214.9,130.8 212.0,126.0 215.1,126.0 216.3,124.4 218.4,124.6 219.0,122.6 222.9,125.1 221.8,120.9 224.2,122.1 224.3,118.7 225.4,117.7 228.0,119.1 230.5,120.4 229.4,115.9 232.1,119.1 231.3,114.0 232.3,112.6 237.1,117.0 235.9,111.7 238.2,113.7 238.6,110.8 239.5,109.7 244.0,111.5 242.3,107.1 243.4,106.5 243.8,105.6 245.3,104.1 247.6,104.8 246.1,100.3 250.9,102.0 249.1,99.3 251.4,99.7 253.6,98.2 252.1,95.7 254.7,95.8 255.6,94.5 254.3,90.6 259.5,92.3 256.6,88.2 257.1,87.3 261.0,87.6 258.5,85.1 260.1,84.1 262.2,82.2 262.2,81.3 260.5,78.9 264.9,78.2 263.9,76.1 260.8,73.5 260.2,72.0 263.5,70.5 264.1,69.8 266.4,69.0 267.7,68.9 267.2,64.3 270.3,67.0 271.2,65.2 271.4,62.6 274.0,63.2 276.8,62.9 274.0,58.5 276.7,59.0 276.6,56.2 274.4,53.8 277.7,53.0 278.4,51.7 282.5,51.6 278.2,47.8 280.2,47.5 283.4,46.2 282.0,44.6 283.3,42.7 285.8,43.2 287.8,42.4 288.9,41.6 289.2,39.0 290.5,38.1 289.3,34.8 290.8,33.1 291.8,32.4 295.8,33.1 292.3,28.4 297.5,30.8 295.2,26.9 297.2,27.5 299.8,28.0 301.6,26.9 300.9,24.5 304.8,24.8 302.5,20.6 304.1,19.8 306.4,21.4 307.5,18.2 309.7,19.8 310.0,15.5 310.3,14.6 312.2,13.9 312.7,11.6 317.6,15.6 317.1,12.4 319.9,14.5 321.1,14.5 320.9,9.2 322.9,8.9 324.0,10.8 325.8,11.6 326.5,7.7 329.7,12.2 329.7,7.7 332.1,11.2 332.7,6.7 333.0,9.0 335.3,8.6 338.1,8.5 339.4,9.2 341.8,8.5 341.6,11.8 343.6,10.4 344.2,12.9 345.5,15.0 347.8,12.6 342.7,13.2 348.3,16.2 346.0,16.6 346.1,18.5 347.8,19.1 348.7,20.5 351.2,22.4 353.5,19.0 354.5,19.3 353.6,23.2 357.6,21.3 359.6,20.2 359.4,22.1 361.2,22.7 364.6,24.0 367.9,25.2 366.4,25.1 370.9,24.8 375.0,23.0 378.3,23.2 381.2,25.3 384.6,25.1 387.4,26.4 390.4,27.4 393.2,28.9 397.7,29.2 401.7,31.5 405.0,32.7 408.1,34.2 411.2,35.8 413.5,38.5 415.6,43.8 414.8,47.0 414.5,50.2 412.2,52.5 411.3,55.6 407.1,59.3 403.6,59.3 400.6,60.9 396.4,60.7 392.1,60.9 387.8,60.3 383.5,59.3 379.6,59.3 376.1,57.7 372.9,56.5 369.6,56.1 364.8,55.6 369.6,58.2 372.8,60.7 376.1,63.1 378.5,65.0 381.4,66.3 385.7,69.5 387.8,74.8 390.0,79.1 392.1,84.4 395.3,87.6 400.6,88.7 403.8,91.4 409.2,91.4 411.9,88.7 411.3,84.4 407.1,83.4 402.8,81.2 400.1,78.5 401.2,75.3 404.9,73.7 409.2,75.9 413.5,76.4 418.8,76.4 424.2,75.9 420.9,72.7 418.6,70.7 416.7,68.4 414.5,63.1 416.7,57.7 418.9,55.4 419.9,52.4 423.1,48.1 428.4,46.5 432.7,49.2 435.9,51.3 433.8,46.0 431.6,40.6 428.4,36.3 425.2,33.1 424.1,30.0 424.2,26.7 422.0,21.4 418.8,18.7 415.1,17.1 420.9,16.0 426.3,14.4 431.6,17.1 435.9,20.3 432.7,24.6 430.6,28.9 433.8,31.5 438.0,34.2 442.3,33.1 445.5,30.5 445.0,25.6 444.5,20.3 446.6,16.0 449.3,10.7 450.9,5.3 452.7,2.9 455.1,1.1 456.2,-2.1 459.2,-2.7 462.3,-2.2 465.4,-1.8 468.4,-3.4 471.5,-2.6 474.5,-2.5 477.5,-3.7 480.6,-4.2 483.7,-3.3 486.8,-2.9 489.8,-3.0 492.8,-3.4 495.9,-4.2 498.9,-4.3 502.0,-4.2 505.1,-3.6 508.1,-5.0 511.1,-5.1 514.2,-4.6 517.3,-4.1 520.2,-5.8 523.3,-6.2 526.3,-6.2 529.4,-5.4 532.5,-5.5 535.5,-6.5 538.6,-6.6 541.6,-6.0 544.7,-6.0 547.8,-6.0 550.8,-6.1 553.8,-7.6 556.9,-6.9 560.0,-6.3 563.0,-6.2 566.0,-7.6 569.1,-6.7 572.2,-7.3 575.2,-6.9 578.2,-8.4 581.3,-7.6 584.4,-7.5 587.4,-8.3 590.4,-9.2 593.5,-9.2 596.5,-9.4 599.6,-9.7 602.6,-9.7 605.7,-8.9 608.7,-10.1 611.8,-8.9 614.9,-9.1 617.9,-9.1 621.0,-9.3 624.0,-10.0 624.0,530.0 621.0,529.6 617.9,529.2 614.9,529.1 611.9,529.7 608.8,529.1 605.8,530.8 602.8,530.8 599.8,530.9 596.7,530.6 593.7,530.3 590.7,530.1 587.6,529.6 584.6,529.5 581.6,530.8 578.5,530.2 575.5,529.9 572.5,530.2 569.4,530.8 566.4,529.8 563.4,530.3 560.4,529.6 557.3,530.0 554.3,529.1 551.3,529.1 548.2,530.9 545.2,529.5 542.2,529.6 539.1,530.4 536.1,530.8 533.1,530.0 530.0,530.3 527.0,529.5 524.0,529.2 521.0,530.2 517.9,530.4 514.9,530.0 511.9,529.6 508.8,529.4 505.8,530.0 506.0,526.6 505.4,523.3Z M54.1,28.0 57.8,25.5 61.7,23.4 66.3,23.5 70.9,22.7 71.6,26.9 72.4,31.1 71.5,35.1 69.3,38.7 73.9,37.2 78.5,33.4 81.6,37.2 86.1,35.6 88.5,37.9 90.7,40.2 96.8,39.5 101.4,37.9 105.2,41.8 109.0,44.8 106.7,49.4 108.2,52.3 109.0,55.5 107.5,61.6 104.3,63.3 101.4,65.4 98.7,67.8 95.3,69.2 90.7,69.6 86.1,69.2 80.0,70.8 75.5,71.7 70.9,71.5 67.8,70.4 64.8,69.2 63.0,66.5 60.2,64.7 59.5,60.8 58.7,57.0 54.8,55.6 51.0,54.0 50.3,50.9 54.7,50.0 58.7,47.9 61.7,43.3 58.7,40.2 54.8,40.4 51.0,39.5 55.6,35.6 61.7,34.1 58.7,30.3Z M98.2,204.6 101.7,206.5 105.0,208.8 105.8,212.7 107.5,216.3 105.8,222.2 100.8,225.6 100.6,229.9 99.1,234.0 98.3,237.3 98.2,240.7 95.7,246.6 91.5,249.1 87.7,248.9 84.0,248.2 79.8,249.3 75.6,249.1 71.4,250.3 67.2,250.8 63.8,249.6 60.5,248.2 57.9,243.2 58.8,239.0 62.1,237.2 65.5,235.6 68.9,233.1 72.2,230.6 74.7,225.6 71.2,225.3 68.0,223.9 70.5,218.0 72.2,213.0 75.6,212.6 78.9,213.0 81.9,211.4 84.0,208.8 87.3,207.0 90.7,205.4 94.5,205.0Z M128.5,166.0 132.7,165.9 136.9,166.8 141.1,167.6 141.9,170.2 139.0,171.9 136.7,174.4 134.4,176.9 131.0,181.1 135.2,181.1 139.4,181.1 143.0,181.7 146.1,183.6 147.8,186.9 145.8,190.4 143.6,193.7 140.4,196.3 137.7,199.5 134.4,203.7 138.5,207.9 140.3,212.1 141.9,216.3 143.2,219.5 144.2,222.7 146.1,225.6 147.2,229.8 148.6,234.0 149.0,237.4 150.4,240.6 150.3,244.0 150.5,247.5 149.5,250.8 155.3,253.3 157.6,255.7 160.4,257.5 160.4,262.5 158.4,265.9 156.2,269.2 151.1,272.6 153.7,276.0 150.5,277.2 147.8,279.3 144.4,279.3 141.1,280.2 137.9,278.7 134.4,278.5 131.0,279.1 127.6,279.3 124.4,278.2 120.9,278.5 115.9,279.3 110.8,278.5 107.5,281.8 104.3,279.8 100.8,278.5 95.7,280.2 89.8,279.3 94.0,276.0 97.6,274.8 100.8,272.6 103.9,270.1 107.5,268.4 111.8,267.5 115.9,265.9 117.6,264.2 113.3,263.5 109.2,262.5 104.1,259.2 99.9,255.8 103.8,255.6 107.5,254.1 110.1,252.0 111.7,249.1 109.2,244.0 111.7,240.7 117.6,241.5 120.3,239.1 123.4,237.3 125.1,232.3 124.2,229.0 123.4,225.6 124.3,220.5 120.9,217.2 115.9,218.9 113.4,215.5 115.2,212.0 117.6,208.8 118.8,204.6 120.1,200.4 118.5,197.1 117.6,193.7 118.2,189.9 118.4,186.1 117.6,180.2 120.1,175.2 124.3,171.0 126.0,168.1Z M208.2,407.3 211.4,405.2 215.0,404.0 215.3,407.3 216.1,410.6 215.8,414.0 214.3,418.3 212.4,422.4 208.2,419.1 207.9,415.6 206.6,412.4Z M201.5,430.0 205.1,429.2 208.2,427.5 214.1,425.8 215.1,429.7 215.9,433.5 215.8,437.6 214.7,440.8 213.9,444.2 213.8,447.6 213.3,451.0 209.8,454.3 205.7,456.9 201.5,452.7 201.4,448.7 202.7,444.9 202.4,440.9 202.7,437.2 201.2,433.7Z M244.5,474.4 248.0,471.5 252.1,469.4 256.3,471.0 260.5,472.7 264.6,472.0 268.9,471.9 272.1,471.1 275.0,469.5 278.1,468.5 278.9,473.6 276.9,477.2 275.6,481.1 275.2,484.6 273.9,487.9 270.5,486.6 267.2,485.3 263.2,483.0 258.8,482.0 254.7,480.5 250.4,479.5 245.3,477.8Z M369.7,501.8 372.5,499.9 377.1,501.8 381.6,503.6 387.1,502.7 390.3,501.6 393.5,501.8 398.1,503.6 402.2,501.3 401.8,504.5 396.3,506.3 393.2,507.6 389.9,507.7 385.3,509.1 379.8,506.3 374.3,505.9 370.2,504.5Z M357.4,450.0 360.6,449.5 362.7,452.0 365.1,454.1 368.0,456.3 370.6,458.7 374.3,462.4 372.9,463.3 368.8,460.5 366.0,458.9 363.3,456.9 358.7,453.7Z M373.8,428.5 376.1,428.3 376.3,430.3 374.1,430.5Z M379.3,437.6 384.4,437.5 383.5,440.4 380.3,440.2Z M390.3,447.3 394.5,445.4 397.2,447.3 396.3,450.0 392.6,449.5Z M396.3,455.0 399.0,454.6 399.5,459.6 397.2,460.5Z M400.9,466.0 404.5,464.7 406.4,466.9 402.2,468.3Z M388.0,477.0 390.3,476.6 390.8,479.8 388.8,480.7Z M416.4,485.3 420.1,482.5 421.0,485.3 418.3,490.8 416.4,489.8Z M410.9,480.2 416.4,477.0 416.9,478.1 411.9,481.4Z M334.9,471.5 337.7,472.4 338.1,475.2 335.4,474.7Z M470.5,493.7 473.0,491.6 475.6,489.5 479.8,488.0 484.0,486.2 488.1,483.8 491.5,480.3 489.0,486.2 485.6,491.2 482.5,494.4 478.9,497.1 473.1,497.1Z M136.9,439.2 140.7,437.8 144.4,436.2 147.8,440.1 144.4,445.1 140.2,442.6Z M123.4,446.8 126.8,445.1 127.6,447.6 124.3,449.0Z M153.2,436.7 157.9,437.6 157.5,439.2 153.7,438.4Z M242.8,222.1 246.5,220.9 250.4,220.4 253.7,225.4 252.0,229.6 250.4,233.8 246.9,234.3 243.7,235.5 241.9,232.3 241.1,228.8 242.0,225.4Z M232.7,227.1 237.8,227.1 238.6,232.1 234.4,233.0Z M240.3,236.3 243.6,237.0 247.0,237.2 247.9,239.2 244.5,239.7 241.1,238.9Z M299.1,194.4 302.8,193.5 301.6,197.6 301.1,201.9 297.4,205.6 297.9,201.8 298.5,198.1Z M286.5,201.9 288.0,201.6 286.8,205.6 285.5,209.5 284.8,213.7 283.6,214.0 284.0,209.8 285.5,205.9Z M269.7,232.1 273.1,231.8 273.6,233.8 270.2,234.5Z M323.9,184.3 326.8,182.4 330.2,181.8 332.7,185.1 327.6,188.5 324.6,187.6Z M326.0,176.7 330.2,175.9 331.0,180.1 326.8,180.9Z M434.8,1.1 438.0,-0.5 442.3,1.1 440.7,4.3 437.0,4.8Z M305.0,159.5 308.3,158.7 308.8,162.9 305.5,163.2Z M105.0,179.4 105.9,177.1 107.5,175.2 108.8,173.2 109.8,170.7 112.5,170.2 113.8,168.3 115.8,167.2 117.6,166.0 118.9,167.6 117.0,169.0 114.8,170.1 114.2,172.7 112.4,175.1 110.0,176.9 108.8,178.5 107.2,179.9 106.6,181.9Z M109.2,190.3 112.0,190.2 113.4,187.8 116.7,189.5 114.9,191.3 115.9,193.7 113.2,193.1 111.7,195.3 111.4,198.1 110.0,200.4 107.5,201.2 106.8,198.1 108.3,195.3 110.1,193.1Z M110.0,203.7 114.2,202.1 115.9,205.4 112.5,207.9 110.0,207.1Z M112.9,225.6 115.9,223.6 116.9,225.2 113.9,227.6Z M141.9,161.8 144.4,160.9 145.4,163.4 142.7,164.8Z M157.9,148.3 159.5,145.8 160.5,150.0 158.9,152.5Z M128.9,112.7 131.9,112.0 132.7,115.8 130.1,117.3Z M157.6,145.6 160.2,144.0 160.6,149.4 157.9,153.2 157.1,149.4Z M110.0,237.3 112.9,236.5 113.5,239.0 110.8,240.0Z M263.0,56.0 263.9,53.9 265.0,52.0 268.0,50.0 269.2,48.2 269.0,46.0 272.0,45.0 273.1,43.0 274.0,41.0 277.0,40.0 277.7,37.8 279.0,36.0 282.0,35.0 284.2,33.6 284.0,31.0 286.0,32.0 285.0,35.0 284.0,37.0 282.0,38.0 280.0,41.0 277.0,43.0 275.0,46.0 272.0,48.0 270.9,49.9 270.0,52.0 267.0,54.0 265.1,55.5 265.0,58.0Z M285.0,30.0 285.0,27.5 287.0,26.0 290.0,25.0 290.6,22.8 292.0,21.0 295.0,20.0 297.0,22.0 295.5,23.5 294.0,25.0 292.0,28.0 289.0,30.0 287.0,33.0Z M297.0,19.0 298.7,17.1 300.0,15.0 301.8,13.6 304.0,14.0 305.0,17.0 303.1,18.6 301.0,20.0 298.0,22.0Z M232.0,120.0 236.0,117.0 239.0,119.0 235.0,123.0Z M-3.4,501.0 1.7,500.5 5.6,499.6 9.6,499.2 13.4,498.0 17.8,496.8 21.8,494.7 24.1,491.7 26.5,488.7 29.4,486.3 30.8,483.4 32.6,480.7 34.9,478.4 36.1,475.3 42.0,472.8 44.5,477.9 46.9,480.2 48.7,482.9 52.8,484.7 57.1,486.3 60.4,487.0 63.7,488.0 67.2,487.9 70.5,491.3 74.9,492.0 78.9,493.8 83.0,492.8 86.7,490.8 90.7,489.6 93.9,488.0 97.5,487.6 100.8,486.3 105.1,485.0 109.2,482.9 113.4,481.8 117.6,480.4 121.5,479.8 125.4,481.0 129.3,480.4 132.7,479.9 136.0,480.0 139.4,479.5 143.6,479.9 147.8,479.5 151.2,479.8 154.5,480.5 157.9,481.2 162.1,482.3 166.3,483.7 169.5,482.4 172.8,481.5 176.3,481.2 179.7,481.8 183.1,481.7 186.4,482.1 190.4,484.2 194.8,485.4 198.0,483.7 201.4,482.9 204.9,482.1 209.0,480.4 213.3,479.5 215.1,480.3 217.2,482.9 220.2,484.5 220.6,488.0 221.8,491.2 225.1,489.1 227.7,486.2 228.5,491.2 226.0,494.6 223.5,497.9 224.9,501.2 225.2,504.7 226.9,510.5 225.9,513.7 225.0,516.9 223.5,519.9 224.2,523.8 223.4,527.7 223.5,531.5 -16.0,540.0 -15.2,536.7 -14.4,533.3 -12.8,530.3 -11.2,527.2 -10.1,524.0 -9.7,520.5 -9.2,517.1 -7.2,514.1 -7.0,510.6 -5.4,507.5 -5.0,504.1Z"/><path id="seas" d="M425.6,337.4 431.1,336.0 435.2,339.5 440.7,341.5 444.7,339.9 449.0,339.5 452.4,340.8 449.0,345.0 447.0,347.8 444.2,349.8 449.0,351.8 453.1,353.9 454.5,360.1 460.0,360.8 464.1,357.3 466.8,353.2 470.9,349.1 476.4,346.3 481.9,344.3 486.1,342.2 490.2,343.6 493.0,345.1 495.7,347.0 499.3,348.3 502.5,350.5 505.7,352.4 509.4,353.2 513.0,354.3 516.3,356.0 519.8,357.0 523.2,358.7 526.5,359.8 530.0,360.1 535.5,362.1 539.6,365.6 543.8,369.7 545.8,374.5 543.1,379.3 538.3,383.4 535.3,385.2 532.8,387.6 529.5,389.9 525.9,391.7 521.6,393.0 517.7,395.1 514.2,395.6 510.8,396.5 506.7,397.0 502.5,397.2 499.1,397.3 495.7,397.9 490.2,395.1 484.7,394.4 481.8,393.0 479.2,391.0 473.7,392.4 470.4,393.7 466.8,394.4 463.2,395.0 460.0,396.5 457.3,398.3 454.5,399.9 451.4,401.5 449.0,404.0 446.5,407.1 443.5,409.5 440.3,411.7 436.6,413.0 432.6,414.3 428.4,414.4 424.2,414.0 420.1,414.4 416.7,412.6 413.2,410.9 410.1,409.4 407.7,406.8 405.2,404.4 403.6,401.3 404.8,398.0 405.0,394.4 406.4,390.3 407.7,386.2 408.9,382.1 409.1,377.9 408.5,373.8 409.1,369.7 413.2,364.9 414.7,361.8 416.0,358.7 415.8,355.2 416.7,351.8 418.7,348.5 420.1,345.0 422.9,339.5Z M462.7,334.0 466.8,329.8 469.7,327.2 472.3,324.4 475.2,322.8 477.8,320.9 480.4,318.9 483.3,317.5 487.1,316.0 490.2,313.4 492.6,311.2 495.7,309.9 499.1,308.5 499.8,310.6 495.7,314.7 492.2,318.9 490.2,321.6 494.0,323.5 497.1,326.4 493.6,328.5 492.3,331.8 491.6,335.3 488.8,338.8 483.3,340.2 477.8,342.2 473.0,344.3 469.6,342.9 465.5,338.8Z M392.6,434.9 394.5,432.0 397.2,429.8 401.8,427.6 403.1,424.5 405.5,422.1 410.0,419.3 415.5,417.5 420.1,416.6 424.7,418.4 429.3,419.3 424.7,421.6 421.0,423.9 416.4,426.6 411.9,428.5 407.3,430.3 403.6,429.4 400.0,430.3 395.4,434.0 393.5,436.3Z M626.0,264.0 622.1,264.9 618.2,265.5 614.3,266.6 609.9,267.6 605.9,269.7 602.6,272.5 599.8,275.8 597.1,279.3 593.6,282.0 591.5,284.9 589.8,288.0 588.2,290.8 587.5,294.0 584.8,297.4 581.3,300.0 580.2,303.9 579.8,308.0 579.7,311.9 579.0,315.7 580.6,321.0 586.0,323.4 588.5,325.5 590.5,328.0 592.0,334.0 594.8,335.9 596.7,338.7 599.5,341.3 602.8,343.3 605.9,345.7 609.0,348.0 614.3,348.7 618.2,349.4 622.1,348.9 626.0,349.0 625.5,345.7 625.6,342.5 625.7,339.2 626.6,335.9 625.6,332.7 625.4,329.4 625.8,326.1 625.4,322.8 625.9,319.6 626.2,316.3 626.2,313.0 625.5,309.8 625.5,306.5 626.0,303.2 626.3,300.0 625.9,296.7 626.1,293.4 626.6,290.2 625.5,286.9 625.7,283.6 626.0,280.3 626.1,277.1 626.6,273.8 626.1,270.5 626.2,267.3Z"/><path id="grayp" d="M524.3,-5.0 524.3,1.7 527.6,10.0 520.0,18.5 529.3,28.5 537.7,40.3 546.0,52.0 552.8,62.0 557.8,70.5 566.0,82.0 574.6,94.0 583.0,102.4 593.0,107.5 599.8,114.0 604.9,121.0 608.0,131.0 610.0,141.0 611.6,161.0 606.5,169.6 605.9,174.6 589.0,179.2 590.5,183.8 595.0,185.3 595.0,191.5 587.5,196.8 581.3,202.2 570.6,206.8 569.0,211.4 567.5,216.0 564.5,220.6 563.0,226.7 560.6,232.9 564.5,237.5 565.2,241.3 560.6,242.0 555.3,239.8 551.4,242.0 551.4,249.8 553.0,255.9 556.0,262.0 554.5,268.2 559.9,269.7 566.0,274.3 572.0,272.8 578.3,275.8 584.4,280.4 582.9,285.0 589.0,285.8 593.6,282.0 599.8,275.8 605.9,269.7 614.3,266.6 626.0,264.0 626.0,-5.0Z M518.5,356.8 529.2,354.0 536.9,357.1 546.1,353.3 555.3,352.5 561.4,356.3 570.6,351.7 579.8,351.0 584.4,354.0 592.1,354.0 599.8,356.3 605.1,360.2 609.0,357.9 611.3,351.0 614.3,348.7 627.4,348.7 626.0,530.0 505.8,531.5 505.8,519.9 507.5,508.0 509.2,497.9 511.2,487.9 509.2,477.8 509.5,471.1 514.2,462.7 517.6,458.5 526.0,455.1 534.4,453.4 542.7,449.2 551.1,444.2 559.5,439.2 567.9,434.1 576.3,429.1 584.7,427.4 591.5,429.1 593.1,424.0 589.8,414.0 586.4,403.9 583.1,397.2 581.4,392.1 574.7,387.1 569.6,380.4 563.7,377.9 557.9,374.5 551.1,377.0 546.1,377.9 544.4,371.1 539.4,366.1 532.7,361.9 524.3,357.7Z M-3.4,501.0 1.7,500.5 13.4,498.0 21.8,494.7 29.4,486.3 36.1,475.3 42.0,472.8 44.5,477.9 48.7,482.9 57.1,486.3 67.2,487.9 70.5,491.3 78.9,493.8 90.7,489.6 100.8,486.3 109.2,482.9 117.6,480.4 129.3,480.4 139.4,479.5 147.8,479.5 157.9,481.2 166.3,483.7 176.3,481.2 186.4,482.1 194.8,485.4 204.9,482.1 213.3,479.5 215.1,480.3 220.2,484.5 221.8,491.2 227.7,486.2 228.5,491.2 223.5,497.9 225.2,504.7 226.9,510.5 223.5,519.9 223.5,531.5 -16.0,540.0Z"/><path id="borders" d="M28.9,381.3 32.4,382.3 36.1,382.1 39.2,383.9 42.3,385.4 45.3,387.2 48.9,389.5 52.1,392.2 49.1,395.5 46.2,398.9 43.6,402.9 42.0,407.3 40.4,412.0 38.6,416.6 33.6,417.4 35.2,422.4 36.1,427.5 33.6,430.8 31.1,434.2 32.7,440.9 26.9,444.3 25.2,449.3 M105.0,380.5 107.7,383.1 111.2,384.8 114.2,387.2 118.3,389.8 122.6,392.2 126.7,393.5 131.0,393.9 133.9,396.0 136.4,398.7 139.4,400.6 143.3,400.6 147.2,400.2 151.1,400.6 M155.3,280.8 159.5,279.8 163.7,279.9 165.4,284.0 167.9,287.5 170.5,290.0 173.0,292.5 175.5,295.0 178.0,297.6 181.1,300.5 184.7,302.6 188.9,306.0 M173.0,277.4 177.2,278.3 181.4,279.1 184.7,280.8 188.1,282.4 190.8,284.8 193.1,287.5 M208.2,251.4 205.9,255.9 204.0,260.6 205.2,264.8 205.7,269.0 202.0,271.6 198.2,274.0 196.6,278.2 195.6,282.4 193.1,287.5 194.3,291.7 195.6,295.9 191.5,300.9 188.9,306.0 M188.9,306.0 192.2,307.2 195.3,309.0 198.2,311.0 201.7,312.9 205.3,314.6 209.1,316.0 208.4,319.5 206.3,322.6 205.7,326.1 204.5,330.5 202.4,334.5 199.7,337.3 196.5,339.5 193.5,343.2 189.8,346.3 187.3,351.3 193.1,349.6 193.1,356.3 192.8,360.5 192.3,364.7 193.8,369.0 195.6,373.1 194.0,377.2 193.1,381.5 196.8,384.6 199.8,388.2 201.5,391.6 M202.4,334.5 207.0,333.5 211.6,332.0 215.9,332.4 220.0,333.7 223.4,332.5 226.7,331.1 231.0,332.5 235.1,334.5 M193.1,356.3 197.4,357.0 201.5,358.0 204.5,354.3 208.2,351.3 211.4,354.0 215.0,356.3 219.1,355.1 223.4,354.7 226.4,352.7 228.8,350.0 231.8,347.9 238.5,349.6 M221.8,243.9 226.9,243.2 231.9,242.2 M266.3,248.9 266.6,253.1 267.2,257.3 265.5,264.0 266.6,267.4 267.3,270.9 268.9,274.1 269.2,279.2 270.5,284.2 272.2,290.9 268.1,292.8 263.8,294.3 259.7,296.1 255.4,297.6 251.9,298.9 248.7,301.0 250.8,305.0 252.1,309.4 254.7,312.7 257.1,316.1 260.5,318.5 263.8,321.1 266.9,323.3 270.5,324.5 M272.2,290.9 276.6,293.1 280.6,296.0 283.9,298.6 287.3,301.0 294.0,302.7 297.3,304.6 300.8,306.0 304.9,308.0 309.2,309.4 312.8,310.5 315.9,312.7 320.9,311.1 327.6,312.7 334.4,311.9 338.7,311.2 342.7,309.4 M270.5,324.5 273.8,321.8 277.3,319.5 282.2,320.7 287.3,321.1 290.6,323.0 294.0,324.5 299.1,323.6 304.1,322.8 309.2,322.4 314.2,321.1 317.7,319.7 320.9,317.8 324.2,315.9 327.6,314.4 334.4,312.7 338.7,311.3 342.7,309.4 M263.8,321.1 260.5,322.8 257.1,324.5 255.2,327.7 253.7,331.2 255.4,337.9 251.2,337.8 247.0,337.9 242.7,339.3 238.6,341.3 234.3,340.9 230.2,339.6 226.0,338.8 221.8,337.9 223.5,344.7 220.4,346.9 216.8,348.0 213.6,346.0 210.1,344.7 206.6,346.0 203.4,348.0 199.2,346.8 195.0,346.3 M342.7,309.4 343.9,305.0 346.1,301.0 347.8,297.7 349.4,294.3 350.7,290.7 352.8,287.6 350.8,284.4 350.0,280.6 347.8,277.5 346.1,270.8 347.4,266.4 347.5,261.7 348.6,257.3 347.7,252.2 346.1,247.3 344.6,243.8 342.7,240.5 338.5,240.3 334.4,239.7 329.3,239.1 324.3,238.9 319.2,238.8 314.2,238.0 M342.7,240.5 347.0,242.0 351.1,243.9 355.0,240.9 359.5,238.9 357.9,232.1 360.5,228.9 362.9,225.4 364.7,222.1 366.3,218.7 369.3,216.1 371.9,213.1 374.7,210.3 M320.9,213.7 324.3,212.5 327.6,211.2 331.0,210.3 334.9,211.1 338.9,211.3 342.7,212.0 347.0,210.8 351.1,209.5 354.3,211.7 357.9,213.3 361.2,215.3 365.4,218.7 M339.4,190.2 343.7,188.7 347.8,186.8 351.3,187.4 354.6,188.8 357.9,190.2 362.0,191.4 366.3,191.8 M366.3,163.3 367.1,167.4 367.6,171.6 368.1,175.8 367.9,180.1 367.1,183.9 367.3,188.0 366.3,191.8 368.0,196.0 369.6,200.2 371.4,203.6 372.7,207.1 374.7,210.3 379.7,211.1 384.7,212.0 388.9,211.6 393.1,211.1 396.9,214.5 399.8,218.7 401.2,222.2 402.9,225.6 404.9,228.8 407.3,233.1 409.9,237.2 413.2,238.7 416.6,239.5 420.0,240.5 M347.8,277.5 351.3,275.2 354.5,272.4 359.6,272.0 364.6,270.8 369.6,271.7 374.7,272.4 379.6,271.0 384.7,270.8 389.7,272.1 394.8,272.4 398.8,272.5 402.6,271.0 406.6,270.8 407.2,267.2 408.6,264.0 409.9,260.7 413.1,259.1 416.6,258.3 420.0,257.3 M294.0,324.5 294.5,329.0 294.4,333.5 294.0,337.9 297.2,336.0 300.7,335.1 304.1,333.7 308.6,332.7 313.1,332.3 317.6,331.2 320.9,329.4 324.1,327.5 327.6,326.2 332.1,326.7 336.6,326.7 341.1,326.2 347.8,327.9 352.8,328.9 357.9,329.5 361.1,328.1 364.5,327.2 367.9,326.2 372.1,323.6 376.3,321.1 380.5,319.4 384.7,317.8 388.8,316.4 393.1,316.1 397.4,318.6 401.5,321.1 403.5,324.7 405.8,328.0 408.2,331.2 410.4,335.6 413.3,339.6 414.8,343.9 416.6,348.0 413.9,350.3 411.6,353.1 406.6,356.4 404.4,353.6 401.5,351.4 M342.7,309.4 344.8,313.8 347.8,317.8 347.4,322.8 347.8,327.9 M287.3,337.9 288.5,341.3 289.4,344.7 290.7,348.0 288.0,351.3 285.6,354.7 287.3,359.8 M347.8,327.9 345.7,331.0 344.2,334.5 342.7,337.9 341.1,341.3 339.7,344.8 337.7,348.0 335.4,351.5 332.7,354.7 330.4,357.5 327.6,359.8 M384.7,317.8 386.6,321.3 388.7,324.7 391.3,327.7 393.1,331.2 394.5,334.6 395.6,338.1 397.5,341.2 399.2,344.5 400.0,348.1 401.5,351.4 401.1,355.3 400.8,359.3 399.8,363.1 403.0,359.6 406.6,356.4 M257.1,353.5 262.2,353.8 267.2,355.2 271.3,353.9 275.6,353.5 279.7,350.9 284.0,348.5 287.7,351.5 290.7,355.2 294.3,356.3 297.4,358.6 300.8,360.2 305.8,360.8 310.8,360.2 314.4,358.9 317.5,356.7 320.9,355.2 324.5,354.0 327.6,351.8 330.3,355.5 332.5,359.5 334.4,363.6 337.1,366.0 339.2,368.9 341.1,372.0 344.3,375.4 347.8,378.7 M247.0,348.5 250.2,350.4 253.8,351.8 257.1,353.5 258.0,357.2 259.7,360.6 260.4,364.4 262.1,367.8 M262.1,361.9 266.3,363.7 270.5,365.3 273.9,362.8 277.3,360.2 280.4,357.4 284.0,355.2 284.0,348.5 M280.6,372.0 284.8,371.1 289.0,370.3 292.9,370.8 296.8,371.8 300.8,372.0 305.9,372.5 310.8,373.7 313.6,376.9 315.9,380.4 314.7,385.4 314.2,390.5 312.1,394.9 309.2,398.9 305.0,398.0 300.8,397.2 298.0,394.9 295.9,392.0 293.3,389.5 290.7,387.1 287.5,384.6 285.3,381.3 282.3,378.7 280.6,372.0 M310.8,360.2 311.8,364.4 312.5,368.6 313.8,372.5 314.3,376.6 315.9,380.4 M347.8,378.7 351.1,383.7 356.1,384.9 361.2,385.4 365.7,384.6 370.2,384.5 374.7,383.7 377.8,381.7 381.4,380.4 384.7,378.7 389.7,377.4 394.8,377.0 398.1,378.3 401.4,379.7 404.9,380.4 M347.8,378.7 346.8,382.9 346.1,387.1 349.1,391.0 351.1,395.5 350.3,399.7 349.5,403.9 351.2,407.2 352.9,410.6 354.5,414.0 356.2,417.2 357.0,420.7 360.6,419.3 364.3,418.4 367.9,417.3 372.9,416.0 378.0,415.6 383.1,415.0 388.1,414.0 391.5,408.9 396.4,407.4 401.5,406.4 405.8,407.4 409.9,408.9 M388.1,414.0 389.7,417.2 390.6,420.6 391.5,424.0 M314.2,390.5 314.8,394.0 316.7,397.1 317.6,400.5 317.6,407.3 324.3,405.6 328.0,408.6 331.0,412.3 331.7,416.2 331.6,420.2 332.7,424.0 334.8,427.2 336.0,430.8 334.5,435.0 332.7,439.2 330.4,442.7 327.6,445.9 M336.0,430.8 339.5,429.3 342.7,427.4 346.1,425.7 349.5,423.6 353.6,422.8 357.0,420.7 M331.0,412.3 334.3,411.0 337.8,410.3 341.1,408.9 345.2,406.4 349.5,403.9 M303.3,37.8 300.8,41.1 297.2,42.9 294.0,45.3 291.5,48.3 288.2,50.4 287.2,54.7 285.6,58.8 283.3,62.3 280.6,65.5 278.3,69.8 275.6,73.9 272.7,77.0 270.5,80.6 269.4,84.0 268.5,87.4 267.2,90.7 266.0,94.0 264.5,97.3 263.8,100.8 265.5,105.8 261.3,108.2 257.1,110.8 256.0,114.2 254.7,117.5 253.7,120.9 253.3,125.4 253.3,129.9 252.9,134.4 253.8,138.3 255.0,142.1 255.4,146.1 254.9,150.0 253.9,153.9 253.7,157.9 252.8,161.3 251.7,164.6 250.4,167.9 249.1,171.3 248.0,174.6 247.0,178.0 245.3,184.7 M303.3,37.8 307.5,42.0 314.2,43.7 320.9,42.0 323.1,38.4 326.0,35.3 326.7,30.2 327.6,25.2 331.1,23.3 334.4,21.0 339.4,23.5 342.7,27.7 347.8,25.2 352.0,21.0 M314.2,43.7 316.4,46.8 317.6,50.4 319.3,54.4 320.1,58.8 321.0,63.1 322.6,67.2 323.0,71.5 324.3,75.6 325.1,80.6 M342.7,27.7 342.8,32.0 341.9,36.1 345.2,39.6 347.8,43.7 349.8,47.1 352.0,50.4 352.7,55.4 352.8,60.5 353.8,63.9 355.6,67.0 356.2,70.5 357.5,75.6 358.7,80.6 359.9,84.7 360.4,89.0 363.5,92.2 366.3,95.7 367.9,102.4 371.1,106.0 374.7,109.2 376.7,112.5 378.9,115.9 377.2,120.0 376.3,124.3 374.3,127.5 372.8,130.9 371.3,134.4 368.4,138.3 366.3,142.7 364.1,146.3 361.2,149.5 M400.0,220.5 401.7,223.8 403.6,227.1 405.0,230.5 408.3,233.2 411.8,235.6 415.4,237.7 418.5,240.6 415.4,242.5 413.0,245.2 410.1,247.3 410.6,251.6 411.8,255.7 418.5,254.0 422.5,254.0 426.4,253.4 430.2,252.4 433.7,255.6 436.9,259.1 439.1,263.5 442.0,267.5 446.0,269.7 450.4,270.8 453.9,272.1 457.1,274.2 460.6,273.4 463.9,272.2 467.2,270.8 471.4,272.5 475.6,274.2 479.5,273.9 483.4,273.8 487.3,274.2 491.5,274.9 495.7,275.9 496.5,280.2 498.2,284.3 499.6,288.4 500.8,292.7 498.8,295.7 496.2,298.2 494.0,301.1 492.4,304.5 490.7,307.8 497.4,309.5 M411.8,255.7 410.0,259.0 408.4,262.4 405.6,264.7 403.0,267.1 400.0,269.2 M518.5,356.8 521.9,355.3 525.7,355.3 529.2,354.0 533.0,355.8 536.9,357.1 541.4,354.9 546.1,353.3 550.7,352.9 555.3,352.5 558.3,354.5 561.4,356.3 566.0,354.1 570.6,351.7 575.3,351.8 579.8,351.0 584.4,354.0 588.3,354.4 592.1,354.0 596.0,355.0 599.8,356.3 605.1,360.2 609.0,357.9 609.9,354.4 611.3,351.0 614.3,348.7 M606.5,169.6 605.9,174.6 602.5,175.4 599.2,176.8 595.6,176.9 592.5,178.8 589.0,179.2 590.5,183.8 595.0,185.3 595.0,191.5 591.3,194.2 587.5,196.8 584.6,199.7 581.3,202.2 577.7,203.7 574.4,205.8 570.6,206.8 569.0,211.4 567.5,216.0 564.5,220.6 563.0,226.7 560.6,232.9 564.5,237.5 565.2,241.3 560.6,242.0 555.3,239.8 551.4,242.0 551.7,245.9 551.4,249.8 553.0,255.9 556.0,262.0 554.5,268.2 559.9,269.7 562.6,272.5 566.0,274.3 572.0,272.8 578.3,275.8 581.1,278.4 584.4,280.4 582.9,285.0 589.0,285.8 593.6,282.0 596.5,278.7 599.8,275.8 602.8,272.7 605.9,269.7 609.9,267.6 614.3,266.6 M509.5,471.1 511.5,466.6 514.2,462.7 517.6,458.5 521.6,456.5 526.0,455.1 530.3,454.8 534.4,453.4 538.4,451.1 542.7,449.2 546.8,446.5 551.1,444.2 555.1,441.2 559.5,439.2 563.5,436.2 567.9,434.1 572.4,432.1 576.3,429.1 580.6,428.5 584.7,427.4 591.5,429.1 593.1,424.0 592.5,420.5 591.3,417.2 589.8,414.0 589.0,410.5 587.3,407.3 586.4,403.9 584.4,400.7 583.1,397.2 581.4,392.1 577.8,389.8 574.7,387.1 571.7,384.1 569.6,380.4 563.7,377.9 557.9,374.5 554.6,376.1 551.1,377.0 546.1,377.9 M569.6,380.4 574.0,378.1 578.0,375.3 581.4,372.8 584.7,370.3 587.2,367.6 590.2,365.6 593.1,363.6 594.8,358.5 589.8,356.9 M584.7,370.3 586.6,373.9 588.9,377.3 591.5,380.4 594.6,383.9 598.2,387.1 601.4,389.8 604.9,392.1 601.3,393.4 598.1,395.4 594.8,397.2 591.4,396.0 588.1,394.6 584.6,393.6 581.4,392.1 M591.5,429.1 598.2,430.8 601.9,433.1 605.1,436.1 608.2,439.2 612.4,439.1 616.6,439.2 M567.9,434.1 567.3,438.2 566.2,442.1 564.6,445.9 566.0,449.7 567.0,453.7 567.9,457.6 568.0,461.6 569.1,465.5 569.6,469.4 567.6,473.4 566.3,477.8 563.4,480.5 560.9,483.5 558.5,486.6 555.8,489.4 553.2,492.3 550.3,495.0 547.8,497.9 545.1,500.3 542.7,503.0 540.8,506.0 538.5,508.8 536.2,511.5 533.3,513.7 531.0,516.4 529.3,521.5 M547.8,497.9 550.2,501.1 552.5,504.3 554.3,507.9 556.2,511.4 559.8,511.2 563.3,511.4 566.8,512.2 570.4,512.3 574.0,512.1 577.5,512.8 581.1,512.4 584.6,513.5 588.2,512.7 591.7,513.5 595.3,513.8 598.8,514.0 602.4,513.9 605.9,514.6 609.5,514.5 613.1,514.8 616.6,514.7 M509.2,497.9 513.2,495.8 517.6,494.6 520.9,491.2 520.0,494.7 518.4,498.0 517.1,501.3 515.9,504.7 515.5,509.0 513.9,513.0 513.5,517.3 512.5,521.5 M78.9,493.8 79.5,497.5 80.0,501.1 80.6,504.7 79.6,509.2 79.7,513.7 78.9,518.2 M199.8,484.6 198.4,488.5 196.9,492.4 195.6,496.3 195.5,500.0 195.9,503.6 195.9,507.3 195.7,510.9 195.5,514.5 195.6,518.2"/>
</defs></svg>
<svg class="map" style="left:36px;top:30px" width="616" height="518" viewBox="0 0 616 518"><g clip-path="url(#frame)"><rect width="616" height="518" fill="#fff"/><use href="#coast" fill="#fdd9a5"/><g clip-path="url(#landclip)"><g fill="none" stroke-width="7.52"><g stroke="#ff9a00"><path d="M345.0,488.0A872.9,872.9 0 0 0 350.7,487.5" stroke-dasharray="5.9 999"/><path d="M355.6,480.0A865.9,865.9 0 0 0 568.9,431.2" stroke-dasharray="5.8 22.1 6 162.7 6.1 10.8 6 999"/><path d="M332.7,474.9A858.9,858.9 0 0 0 587.3,416.7" stroke-dasharray="5.8 33 6 172.6 5.9 33.1 6 999"/><path d="M343.2,467.0A851.8,851.8 0 0 0 589.9,408.1" stroke-dasharray="11.3 193.2 11.5 32.8 5.9 999"/><path d="M91.7,443.9A844.8,844.8 0 0 0 582.1,403.6" stroke-dasharray="11.2 383.7 5.9 87.4 11.3 999"/><path d="M135.9,445.1A837.8,837.8 0 0 0 584.6,395.1" stroke-dasharray="11.1 184.6 5.8 244.5 11.3 999"/><path d="M526.2,408.8A830.8,830.8 0 0 0 577.0,390.6" stroke-dasharray="5.6 37.4 11.2 999"/><path d="M462.2,419.5A823.8,823.8 0 0 0 477.8,415.6" stroke-dasharray="5.6 4.9 5.8 999"/><path d="M97.6,416.4A816.7,816.7 0 0 0 496.5,403.2" stroke-dasharray="5.5 174.7 5.7 169.3 5.7 4.9 5.7 26.1 5.8 999"/><path d="M260.8,427.9A809.7,809.7 0 0 0 474.3,402.0" stroke-dasharray="5.5 83.7 5.7 104.7 5.7 4.9 5.6 999"/><path d="M121.1,406.8A802.7,802.7 0 0 0 452.3,400.2" stroke-dasharray="5.4 114.3 5.6 4.8 5.6 192.5 5.7 999"/><path d="M255.9,413.8A795.7,795.7 0 0 0 348.7,410.1" stroke-dasharray="15.7 61.6 5.6 4.8 5.5 999"/><path d="M113.6,391.1A788.6,788.6 0 0 0 358.2,402.0" stroke-dasharray="5.3 9.9 5.5 91.8 5.5 20.1 5.5 96.9 5.6 999"/><path d="M311.9,398.8A781.6,781.6 0 0 0 392.7,390.3" stroke-dasharray="5.3 4.7 5.4 9.8 10.5 14.9 5.4 19.9 5.5 999"/><path d="M231.1,391.8A774.6,774.6 0 0 0 542.2,343.8" stroke-dasharray="5.2 65 5.5 236 5.5 999"/><path d="M246.4,385.4A767.6,767.6 0 0 0 351.0,381.6" stroke-dasharray="5.2 59.4 5.4 9.6 5.4 14.5 5.4 999"/><path d="M212.1,376.5A760.5,760.5 0 0 0 569.3,317.8" stroke-dasharray="5.1 58.9 5.4 29.2 5.3 54 5.3 4.6 5.3 24.3 5.3 157.7 5.3 999"/><path d="M222.4,370.2A753.5,753.5 0 0 0 571.1,309.4" stroke-dasharray="5.1 73 5.3 9.4 5.3 4.5 5.3 53.4 5.3 146.4 5.3 33.9 5.3 999"/><path d="M310.1,363.7A746.5,746.5 0 0 0 387.2,355.6" stroke-dasharray="5 67.5 5.3 999"/><path d="M324.1,355.8A739.5,739.5 0 0 0 328.9,355.4" stroke-dasharray="5 999"/><path d="M380.3,342.5A732.5,732.5 0 0 0 385.0,341.8" stroke-dasharray="5 999"/><path d="M140.1,331.8A725.4,725.4 0 0 0 524.9,297.7" stroke-dasharray="4.9 164.5 5.1 27.9 5.1 79.7 5.1 89.1 9.9 999"/><path d="M169.0,329.4A718.4,718.4 0 0 0 535.6,286.1" stroke-dasharray="4.9 22.9 9.7 4.3 5.1 102.2 5.1 8.9 5.1 41.6 5 13.6 5.1 13.6 5.1 88.2 9.8 18.2 5.1 999"/><path d="M102.0,309.3A711.4,711.4 0 0 0 520.0,284.6" stroke-dasharray="4.8 32 5 64.3 5 92 5 45.8 5 161.4 5 999"/><path d="M94.8,300.3A704.4,704.4 0 0 0 509.0,281.1" stroke-dasharray="4.8 36.2 4.9 59.1 5 173.4 5 72.8 5 8.7 5 4.2 5 22.4 9.6 999"/><path d="M149.6,305.0A697.3,697.3 0 0 0 527.8,266.5" stroke-dasharray="4.7 35.9 4.9 4.1 5 99.2 9.5 35.8 4.9 26.8 4.9 49.4 5 35.8 4.9 26.8 4.9 17.8 4.9 999"/><path d="M190.8,303.9A690.3,690.3 0 0 0 504.2,267.9" stroke-dasharray="9.2 8.5 4.9 152.1 4.8 8.6 4.9 22 4.9 31 4.9 57.9 4.8 999"/><path d="M204.8,298.4A683.3,683.3 0 0 0 526.7,251.8" stroke-dasharray="9.1 141.6 4.8 79.5 4.9 12.9 4.8 39.5 9.3 8.5 13.7 999"/><path d="M153.3,284.2A676.3,676.3 0 0 0 552.3,233.2" stroke-dasharray="4.6 12.8 4.8 4 4.7 69.9 4.8 105 4.8 188.5 4.8 999"/><path d="M501.2,246.6A669.3,669.3 0 0 0 509.3,243.6" stroke-dasharray="8.9 999"/><path d="M177.0,273.8A662.2,662.2 0 0 0 502.8,238.5" stroke-dasharray="4.5 175.9 4.8 42.6 4.7 68.4 4.7 21.1 4.7 999"/><path d="M86.5,247.0A655.2,655.2 0 0 0 472.2,241.7" stroke-dasharray="4.5 110.2 4.7 8.1 4.6 255 4.6 999"/><path d="M183.1,260.5A648.2,648.2 0 0 0 490.0,228.3" stroke-dasharray="4.4 12.2 4.6 277.5 4.6 3.8 4.6 999"/><path d="M86.5,232.3A641.2,641.2 0 0 0 603.9,166.1" stroke-dasharray="4.4 120.3 4.6 257.8 4.5 141.2 4.6 999"/><path d="M76.7,221.9A634.1,634.1 0 0 0 481.4,216.4" stroke-dasharray="4.3 16.1 4.5 114.9 4.6 254.9 4.5 3.8 4.5 999"/><path d="M467.5,213.7A627.1,627.1 0 0 0 471.3,212.5" stroke-dasharray="4.3 999"/><path d="M84.9,209.8A620.1,620.1 0 0 0 606.6,139.6" stroke-dasharray="4.2 144.6 4.4 237.3 4.4 144.6 4.4 999"/><path d="M90.8,204.3A613.1,613.1 0 0 0 596.1,137.9" stroke-dasharray="8.2 119 4.4 3.6 12.3 11.6 4.4 357.9 4.4 999"/><path d="M231.9,223.0A606.0,606.0 0 0 0 615.4,116.8" stroke-dasharray="4.1 7.5 4.3 3.6 4.3 180.7 4.3 176.8 4.3 7.5 8.2 999"/><path d="M224.6,215.5A599.0,599.0 0 0 0 614.6,108.8" stroke-dasharray="4.1 3.5 4.3 373.1 4.3 3.5 4.2 11.3 4.3 999"/><path d="M217.5,207.8A592.0,592.0 0 0 0 601.0,109.6" stroke-dasharray="4 3.5 4.2 384.1 8.1 999"/><path d="M124.6,184.7A585.0,585.0 0 0 0 290.2,202.9" stroke-dasharray="7.8 155.4 4.2 999"/><path d="M122.7,176.9A578.0,578.0 0 0 0 278.7,196.2" stroke-dasharray="15.2 134.8 7.9 999"/><path d="M121.0,169.2A570.9,570.9 0 0 0 278.6,189.1" stroke-dasharray="3.9 14.4 4.1 133.1 4.2 999"/><path d="M271.2,182.2A563.9,563.9 0 0 0 278.5,182.1" stroke-dasharray="7.5 999"/><path d="M278.3,168.1A549.9,549.9 0 0 0 281.9,168.0" stroke-dasharray="3.8 999"/><path d="M228.9,159.5A542.8,542.8 0 0 0 281.8,161.0" stroke-dasharray="3.7 45.5 3.9 999"/><path d="M226.0,152.2A535.8,535.8 0 0 0 229.5,152.5" stroke-dasharray="3.7 999"/><path d="M264.3,147.0A528.8,528.8 0 0 0 267.7,147.0" stroke-dasharray="3.6 999"/><path d="M274.5,133.0A514.8,514.8 0 0 0 277.9,133.0" stroke-dasharray="3.5 999"/><path d="M358.3,75.6A465.6,465.6 0 0 0 361.3,75.0" stroke-dasharray="3.2 999"/><path d="M354.1,69.2A458.6,458.6 0 0 0 357.0,68.7" stroke-dasharray="3.2 999"/></g><g stroke="#c46a05"><path d="M362.0,486.4A872.9,872.9 0 0 0 484.7,464.6" stroke-dasharray="5.9 107.3 11.7 999"/><path d="M450.1,465.4A865.9,865.9 0 0 0 531.6,443.9" stroke-dasharray="5.8 27.7 6.1 38.9 6.1 999"/><path d="M508.1,443.7A858.9,858.9 0 0 0 566.5,424.6" stroke-dasharray="5.8 49.8 6 999"/><path d="M506.2,436.9A851.8,851.8 0 0 0 584.7,410.2" stroke-dasharray="5.7 60.5 5.9 5.2 5.9 999"/><path d="M499.0,431.7A844.8,844.8 0 0 0 551.3,415.2" stroke-dasharray="5.7 10.6 5.8 27.1 5.9 999"/><path d="M352.9,452.0A837.8,837.8 0 0 0 396.1,446.6" stroke-dasharray="5.6 32.3 5.8 999"/><path d="M99.9,431.3A830.8,830.8 0 0 0 357.6,444.5" stroke-dasharray="5.6 32 11.2 177.6 5.8 15.8 11.2 999"/><path d="M96.2,423.3A823.8,823.8 0 0 0 462.2,419.5" stroke-dasharray="5.6 170.8 5.7 5 5.7 15.7 5.7 21 11.1 117.3 5.8 999"/><path d="M260.8,434.9A816.7,816.7 0 0 0 356.1,430.5" stroke-dasharray="5.5 4.9 5.7 26.1 5.7 20.9 5.7 15.5 5.7 999"/><path d="M104.3,410.6A809.7,809.7 0 0 0 459.0,405.8" stroke-dasharray="5.5 94.2 5.7 46.9 5.7 4.8 5.7 173.1 16.2 999"/><path d="M105.7,403.8A802.7,802.7 0 0 0 447.2,401.3" stroke-dasharray="5.4 25.7 5.6 114.3 10.8 67.4 5.6 103.9 5.6 999"/><path d="M107.2,396.9A795.7,795.7 0 0 0 379.5,406.5" stroke-dasharray="5.4 30.6 5.5 82.3 5.6 77.1 5.6 56.4 5.6 999"/><path d="M118.6,392.1A788.6,788.6 0 0 0 575.7,345.6" stroke-dasharray="5.3 117.4 10.7 9.8 5.5 56 10.6 245.5 5.5 999"/><path d="M140.0,388.8A781.6,781.6 0 0 0 568.3,341.1" stroke-dasharray="5.3 80.8 5.5 9.7 10.6 65.6 5.5 9.7 5.5 233.1 5.5 999"/><path d="M221.1,391.2A774.6,774.6 0 0 0 301.5,392.2" stroke-dasharray="5.2 9.7 15.5 44.9 5.4 999"/><path d="M226.5,384.5A767.6,767.6 0 0 0 567.5,326.2" stroke-dasharray="5.2 64.4 5.4 233.9 5.4 24.5 10.4 999"/><path d="M226.9,377.5A760.5,760.5 0 0 0 330.5,376.5" stroke-dasharray="5.1 49 5.4 19.3 5.4 14.4 5.3 999"/><path d="M173.7,365.5A753.5,753.5 0 0 0 557.6,315.1" stroke-dasharray="5.1 9.4 5.3 19.2 10.1 14.3 15.1 53.4 5.3 249.2 5.3 999"/><path d="M169.8,357.9A746.5,746.5 0 0 0 572.7,301.0" stroke-dasharray="5 4.5 5.2 38.4 5.3 14.1 5.3 72.3 5.3 4.4 10.1 208.1 5.2 23.9 5.2 999"/><path d="M170.8,350.9A739.5,739.5 0 0 0 565.5,296.5" stroke-dasharray="19.4 105.3 5.2 4.4 5.2 215.7 5.2 38 5.2 999"/><path d="M143.5,339.6A732.5,732.5 0 0 0 527.4,304.3" stroke-dasharray="5 18.6 5.1 4.4 14.7 123.3 5.1 13.9 5.1 37.7 5.2 147 5.2 999"/><path d="M135.5,330.9A725.4,725.4 0 0 0 546.9,289.1" stroke-dasharray="4.9 27.9 9.8 4.3 5.1 117.4 5.1 4.3 5.2 4.3 9.8 197.5 5.1 13.7 5.1 999"/><path d="M95.8,315.0A718.4,718.4 0 0 0 518.1,292.8" stroke-dasharray="4.9 41.6 9.7 22.9 9.8 116.2 5.1 4.2 5.1 162.9 5.1 36.9 5.1 999"/><path d="M160.9,321.1A711.4,711.4 0 0 0 524.4,282.9" stroke-dasharray="9.4 8.9 5 115.1 5 45.8 5.1 4.2 5 31.9 5.1 124.3 5 999"/><path d="M99.2,301.4A704.4,704.4 0 0 0 526.1,274.7" stroke-dasharray="4.8 49.9 5 22.4 5 22.5 5 13.3 5 4.1 9.6 4.2 4.9 40.8 5 54.5 5 45.3 5 114 9.5 999"/><path d="M127.4,300.7A697.3,697.3 0 0 0 523.6,268.2" stroke-dasharray="4.7 13.2 4.9 4.2 4.9 22.3 4.9 8.6 5 35.8 23 40.4 4.9 135.5 4.9 76.6 9.5 999"/><path d="M137.6,295.6A690.3,690.3 0 0 0 521.0,261.6" stroke-dasharray="4.7 13 4.9 8.6 4.9 4.1 4.8 17.6 9.3 22.1 18.3 138.6 4.9 62.3 4.9 62.4 4.9 999"/><path d="M108.6,282.0A683.3,683.3 0 0 0 563.3,235.8" stroke-dasharray="4.6 35.1 4.9 4 4.9 12.9 4.8 12.9 4.9 39.5 18.2 114.9 4.9 137.2 4.8 48.4 9.3 999"/><path d="M131.7,280.1A676.3,676.3 0 0 0 520.0,246.9" stroke-dasharray="13.4 12.8 4.7 74.3 9.2 21.6 4.8 122.5 4.8 26 4.8 8.4 4.8 61.1 4.7 8.4 9.2 999"/><path d="M137.4,274.1A669.3,669.3 0 0 0 553.4,224.9" stroke-dasharray="8.9 25.7 4.7 4 9.1 3.9 4.8 25.6 4.8 30 4.8 3.9 4.8 212.5 4.8 3.9 4.8 60.4 4.8 999"/><path d="M64.0,247.4A662.2,662.2 0 0 0 554.3,216.8" stroke-dasharray="4.5 72.7 4.7 8.2 9 12.5 4.7 16.8 9 158.8 4.7 21.1 4.7 81.3 4.7 3.9 4.7 3.9 9 59.8 4.7 999"/><path d="M70.3,242.0A655.2,655.2 0 0 0 496.4,233.4" stroke-dasharray="4.5 59.1 4.7 3.8 9 33.6 4.7 3.8 8.9 148.6 4.6 16.6 4.7 101.7 8.9 3.9 4.7 3.8 4.7 999"/><path d="M64.4,232.7A648.2,648.2 0 0 0 614.7,167.7" stroke-dasharray="4.4 3.8 4.6 3.8 8.9 37.4 4.7 3.8 8.8 8 8.8 29.1 8.8 8 4.6 8.1 4.6 37.5 8.8 125.9 4.6 20.6 4.7 45.9 4.6 3.8 4.6 138.5 4.6 3.8 4.7 999"/><path d="M66.7,226.0A641.2,641.2 0 0 0 614.5,159.5" stroke-dasharray="4.4 3.7 12.9 3.8 4.6 28.7 4.6 91.2 8.7 3.8 4.5 3.8 4.6 3.7 4.6 12.1 4.6 78.7 4.5 3.8 4.6 116.2 4.5 128.7 4.6 16.2 4.6 999"/><path d="M68.9,219.4A634.1,634.1 0 0 0 614.2,151.4" stroke-dasharray="4.3 7.9 8.6 172.6 4.5 168.5 4.5 40.8 4.5 139.6 12.8 999"/><path d="M71.1,212.7A627.1,627.1 0 0 0 613.8,143.3" stroke-dasharray="4.3 3.6 12.7 11.8 4.5 19.9 4.5 3.7 8.5 81.1 4.5 239.9 4.4 3.7 4.5 138.1 16.7 999"/><path d="M81.0,208.6A620.1,620.1 0 0 0 613.4,135.2" stroke-dasharray="4.2 3.7 8.4 7.7 4.4 23.8 4.4 92.2 4.4 233.2 8.5 152.6 8.5 999"/><path d="M98.4,206.6A613.1,613.1 0 0 0 606.2,131.5" stroke-dasharray="4.2 3.6 8.3 19.5 4.4 83.2 4.4 15.5 4.4 369.9 4.4 3.6 4.4 999"/><path d="M104.2,200.9A606.0,606.0 0 0 0 595.7,129.9" stroke-dasharray="4.1 342.1 4.3 157.1 4.3 999"/><path d="M113.6,196.3A599.0,599.0 0 0 0 611.4,111.1" stroke-dasharray="4.1 330.3 8.2 174.7 4.2 999"/><path d="M108.0,187.4A592.0,592.0 0 0 0 591.4,116.0" stroke-dasharray="4 3.5 4.2 18.9 8.1 461 4.2 999"/><path d="M102.7,178.5A585.0,585.0 0 0 0 109.9,180.7" stroke-dasharray="7.8 999"/><path d="M108.3,172.9A578.0,578.0 0 0 0 282.5,196.1" stroke-dasharray="7.7 164.8 4.1 999"/><path d="M113.8,167.2A570.9,570.9 0 0 0 274.9,189.2" stroke-dasharray="3.9 155.4 4.1 999"/><path d="M271.2,168.1A549.9,549.9 0 0 0 274.8,168.1" stroke-dasharray="3.8 999"/><path d="M271.2,161.1A542.8,542.8 0 0 0 274.7,161.1" stroke-dasharray="3.7 999"/><path d="M344.0,149.0A535.8,535.8 0 0 0 347.5,148.6" stroke-dasharray="3.7 999"/><path d="M329.4,143.8A528.8,528.8 0 0 0 332.9,143.4" stroke-dasharray="3.6 999"/><path d="M348.8,134.2A521.8,521.8 0 0 0 368.9,130.7" stroke-dasharray="3.6 13.1 3.8 999"/><path d="M361.0,125.1A514.8,514.8 0 0 0 377.4,121.9" stroke-dasharray="3.5 9.7 3.7 999"/><path d="M353.2,119.2A507.7,507.7 0 0 0 356.5,118.7" stroke-dasharray="3.5 999"/><path d="M391.8,96.9A493.7,493.7 0 0 0 394.9,96.1" stroke-dasharray="3.4 999"/><path d="M324.8,101.9A486.7,486.7 0 0 0 396.2,88.5" stroke-dasharray="3.4 65.9 3.6 999"/><path d="M364.2,74.4A465.6,465.6 0 0 0 367.2,73.8" stroke-dasharray="3.2 999"/><path d="M362.8,67.5A458.6,458.6 0 0 0 365.8,66.9" stroke-dasharray="3.2 999"/><path d="M381.4,56.0A451.5,451.5 0 0 0 384.3,55.3" stroke-dasharray="3.1 999"/><path d="M371.3,51.3A444.5,444.5 0 0 0 382.5,48.5" stroke-dasharray="3.1 5.4 3.2 999"/></g><g stroke="#e80b00"><path d="M474.5,495.9A901.0,901.0 0 0 0 480.2,494.6" stroke-dasharray="6.1 999"/><path d="M478.5,487.8A894.0,894.0 0 0 0 512.3,479.0" stroke-dasharray="6 22.8 6.2 999"/><path d="M369.1,499.7A887.0,887.0 0 0 0 420.5,492.5" stroke-dasharray="6 39.9 6.1 999"/><path d="M39.8,467.3A879.9,879.9 0 0 0 491.9,470.0" stroke-dasharray="5.9 371.1 6.1 51.1 6.1 5.3 11.8 999"/><path d="M14.4,452.7A872.9,872.9 0 0 0 571.3,437.8" stroke-dasharray="5.9 10.9 17.4 11 23 373.8 6.1 62 11.7 5.3 6 5.3 6.1 5.2 17.5 999"/><path d="M16.5,445.9A865.9,865.9 0 0 0 595.1,421.1" stroke-dasharray="5.8 10.9 11.6 5.2 6.1 16.4 22.9 174 6 140.2 11.6 33.4 11.6 55.9 6 16.5 6 5.2 11.7 5.2 28.5 999"/><path d="M23.9,440.9A858.9,858.9 0 0 0 592.5,414.6" stroke-dasharray="5.8 10.7 11.6 222.7 6 122.3 17.2 38.6 6 5.2 17.1 16.3 6 10.8 5.9 10.8 6 16.3 11.6 5.2 17.1 5.2 5.9 999"/><path d="M15.4,430.9A851.8,851.8 0 0 0 579.6,412.2" stroke-dasharray="11.3 5.1 5.9 32.8 6 16.2 5.9 182.2 5.9 126.9 5.9 82.6 11.4 16.2 6 38.3 5.9 5.2 5.9 999"/><path d="M12.2,422.5A844.8,844.8 0 0 0 587.2,401.6" stroke-dasharray="11.2 5.1 11.3 32.6 16.8 197.2 11.3 54.5 11.4 10.5 5.9 16.1 5.9 49 5.9 43.5 5.8 5.1 5.9 10.6 11.4 21.5 5.9 10.6 5.9 10.5 5.9 999"/><path d="M14.4,415.8A837.8,837.8 0 0 0 574.5,399.1" stroke-dasharray="11.1 5 5.9 43.1 5.8 124.8 5.8 70.4 16.7 37.7 16.7 130.2 11.3 70.3 5.9 5 5.9 999"/><path d="M201.3,446.1A830.8,830.8 0 0 0 458.6,427.5" stroke-dasharray="5.6 69.7 22 32 16.6 10.4 5.8 37.3 5.8 42.8 11.2 999"/><path d="M23.8,404.1A823.8,823.8 0 0 0 559.4,389.8" stroke-dasharray="5.6 176.1 16.5 69.1 5.8 4.9 5.8 21 5.7 10.3 11.1 37.1 5.7 5 11.1 4.9 5.8 21 5.7 5 5.7 95.9 11.1 999"/><path d="M41.1,402.0A816.7,816.7 0 0 0 531.9,392.1" stroke-dasharray="10.8 4.9 5.7 142.8 5.7 58 5.7 10.2 5.7 4.9 11 15.5 5.8 10.2 16.3 4.9 5.7 20.8 21.6 126.9 5.7 999"/><path d="M48.1,396.7A809.7,809.7 0 0 0 438.4,410.4" stroke-dasharray="10.7 62.7 5.7 4.8 5.7 73.2 10.9 31.2 5.7 15.3 5.7 4.9 16.1 25.9 26.7 47 10.9 25.9 5.6 999"/><path d="M50.1,390.0A802.7,802.7 0 0 0 390.8,411.9" stroke-dasharray="5.4 4.8 5.6 51.8 5.6 20.4 5.7 56.9 16 46.6 5.6 10 5.6 25.7 16 10.1 10.8 30.9 10.8 999"/><path d="M27.3,375.7A795.7,795.7 0 0 0 405.1,402.5" stroke-dasharray="5.4 15.1 10.7 56.5 26.2 9.9 5.6 51.3 15.9 20.2 5.6 4.8 5.6 15.1 5.5 30.6 5.6 4.8 15.9 4.7 5.6 4.8 5.5 30.6 10.8 4.8 5.5 999"/><path d="M63.8,379.2A788.6,788.6 0 0 0 599.1,335.3" stroke-dasharray="5.3 56 5.5 4.7 15.8 55.9 10.7 14.9 10.7 14.9 5.6 35.4 5.5 4.8 10.6 15 20.9 219.8 5.5 4.8 15.7 4.8 5.5 999"/><path d="M31.6,362.3A781.6,781.6 0 0 0 591.6,331.0" stroke-dasharray="5.3 101.1 5.5 9.7 10.6 14.8 5.5 4.7 5.5 40.2 10.5 9.8 5.4 40.3 5.4 4.7 5.5 40.2 5.5 25 5.4 177.3 5.5 4.7 10.5 9.8 5.5 999"/><path d="M111.5,376.3A774.6,774.6 0 0 0 588.7,324.6" stroke-dasharray="5.2 24.8 5.4 4.6 5.5 4.6 40.7 49.9 5.4 29.8 10.4 39.9 10.5 4.6 5.4 9.7 10.4 9.7 5.4 135.5 15.5 4.6 5.4 4.7 5.4 4.6 10.5 14.7 5.4 999"/><path d="M112.9,369.4A767.6,767.6 0 0 0 581.2,320.3" stroke-dasharray="5.2 9.6 5.3 24.6 25.3 9.6 5.4 9.5 10.4 14.5 10.4 44.5 5.4 9.5 5.4 9.6 5.4 34.5 5.4 14.5 5.4 9.6 5.4 109.2 5.4 14.6 5.4 9.5 10.4 24.5 5.4 4.6 5.4 999"/><path d="M143.5,368.1A760.5,760.5 0 0 0 582.9,311.8" stroke-dasharray="5.1 54 10.3 4.5 5.3 9.5 15.2 24.3 5.4 14.4 5.3 19.4 5.3 14.5 10.2 29.3 5.3 4.5 5.4 4.5 15.2 4.6 5.3 83.6 5.3 19.4 10.3 24.3 5.3 9.5 15.2 999"/><path d="M111.0,354.6A753.5,753.5 0 0 0 580.0,305.4" stroke-dasharray="14.9 19.2 5.3 48.5 5.3 4.5 5.3 14.3 10.1 33.9 15.1 33.8 5.3 9.4 10.2 33.9 5.3 4.5 10.2 4.4 5.3 4.5 10.2 38.8 5.3 4.5 5.3 48.5 10.2 4.5 5.3 24 5.3 9.4 5.3 999"/><path d="M126.8,350.7A746.5,746.5 0 0 0 550.4,310.4" stroke-dasharray="5 4.5 10.1 86.9 10.1 72.3 5.2 57.8 5.3 9.3 14.9 4.5 10.1 23.8 5.3 72.3 5.2 4.5 10.1 9.3 5.2 999"/><path d="M114.0,340.9A739.5,739.5 0 0 0 552.2,302.1" stroke-dasharray="14.6 4.4 10 143.7 10 81.3 5.2 14 5.2 9.2 5.2 105.2 5.3 9.2 10 4.4 10 999"/><path d="M110.9,333.0A732.5,732.5 0 0 0 549.5,295.6" stroke-dasharray="5 4.3 24.2 4.4 5.1 137.6 9.9 28.1 5.2 37.7 5.1 13.9 5.1 4.4 19.4 13.9 5.2 70.9 5.2 9.1 5.1 13.9 14.7 999"/><path d="M107.8,325.1A725.4,725.4 0 0 0 551.2,287.3" stroke-dasharray="14.3 4.3 9.9 9 19.2 155.1 5.1 51.5 5.1 4.3 14.5 9 5.2 4.3 5.1 9 9.8 42 5.1 27.9 5.1 13.8 5.1 13.7 5.1 999"/><path d="M100.3,316.1A718.4,718.4 0 0 0 531.2,287.8" stroke-dasharray="9.5 4.3 5.1 4.2 19.1 8.9 9.8 32.2 5.1 97.6 5 13.6 5.1 50.9 9.8 4.2 14.4 4.3 5.1 41.6 14.4 18.2 5.1 13.6 9.7 18.3 9.7 999"/><path d="M88.5,305.9A711.4,711.4 0 0 0 507.0,289.3" stroke-dasharray="14.1 4.2 5 4.2 23.5 4.2 18.9 13.5 5 4.2 5.1 8.8 5 105.9 9.6 45.8 9.7 8.8 14.3 4.2 5 8.9 5 22.7 9.6 22.7 5 13.5 18.9 999"/><path d="M103.6,302.5A704.4,704.4 0 0 0 500.3,284.2" stroke-dasharray="32.2 4.2 14.1 4.2 23.3 4.1 5 100.3 4.9 8.8 5 8.7 14.1 36.2 9.6 8.7 5 17.9 5 36.2 5 4.1 5 17.9 9.6 8.7 5 999"/><path d="M118.5,298.8A697.3,697.3 0 0 0 493.8,279.0" stroke-dasharray="9.3 4.1 14 17.7 18.5 4.1 5 13.2 9.4 54 4.9 4.1 5 4.1 14 58.4 5 8.6 5 17.7 4.9 13.2 4.9 26.8 4.9 13.2 5 4.1 4.9 4.1 5 8.6 5 999"/><path d="M120.1,291.9A690.3,690.3 0 0 0 487.3,273.8" stroke-dasharray="9.2 4.1 4.8 4.1 13.9 8.5 4.9 4.1 4.9 4.1 9.3 66.9 4.9 8.5 4.9 4.1 9.4 62.3 4.9 13.1 4.9 8.5 4.9 71.4 4.8 8.6 9.4 4.1 4.8 999"/><path d="M95.7,278.7A683.3,683.3 0 0 0 555.3,239.5" stroke-dasharray="13.5 35.1 4.9 4 4.8 4.1 9.2 8.5 13.7 66.2 4.8 8.5 9.3 8.5 4.8 79.5 4.8 52.9 4.8 26.3 9.2 88.4 4.8 999"/><path d="M97.5,271.9A676.3,676.3 0 0 0 560.3,229.4" stroke-dasharray="35.3 30.4 4.8 8.4 4.8 3.9 13.6 61.1 4.8 91.9 9.1 4 9.2 12.8 4.8 8.4 4.8 12.7 4.8 4 9.2 21.6 4.8 96.2 9.2 999"/><path d="M103.5,266.3A669.3,669.3 0 0 0 557.3,223.1" stroke-dasharray="26.3 3.9 4.8 25.7 9 4 4.7 8.3 4.8 21.3 9.1 38.7 4.8 86.5 9.1 17 4.7 4 4.7 4 13.4 8.3 4.8 21.3 4.7 112.7 4.7 999"/><path d="M55.9,244.6A662.2,662.2 0 0 0 550.4,218.6" stroke-dasharray="8.8 8.2 9 16.8 4.7 3.9 4.7 8.2 21.9 3.9 9 29.7 13.3 51.3 4.7 8.2 4.7 3.9 4.7 81.3 4.7 8.2 9 8.2 4.7 3.9 4.7 3.9 4.7 3.9 9 8.2 4.7 124.3 4.7 999"/><path d="M58.2,238.0A655.2,655.2 0 0 0 484.3,237.7" stroke-dasharray="13 3.8 4.7 12.3 4.7 8.1 25.9 8.2 4.6 8.1 4.7 25.1 4.7 33.6 8.9 16.6 4.7 106 8.9 20.9 4.6 29.4 4.7 63.4 4.7 999"/><path d="M76.4,236.6A648.2,648.2 0 0 0 474.1,233.8" stroke-dasharray="4.4 8 13.1 12.2 13 3.8 4.6 8.1 8.8 8 4.6 50.1 4.6 3.8 8.9 12.2 8.8 16.5 8.8 71.1 8.9 8 8.8 8 8.8 24.9 4.6 54.3 4.7 999"/><path d="M118.6,241.1A641.2,641.2 0 0 0 399.5,246.4" stroke-dasharray="4.4 3.7 17.1 45.4 4.6 20.4 4.5 24.6 4.6 3.8 8.7 7.9 17.1 66.2 4.6 7.9 8.7 8 4.5 7.9 8.8 999"/><path d="M120.3,234.3A634.1,634.1 0 0 0 469.7,220.4" stroke-dasharray="29 61.4 4.5 3.7 4.6 32.5 4.5 7.9 8.6 3.7 8.7 57.2 4.5 24.4 12.7 82 4.5 999"/><path d="M129.9,229.3A627.1,627.1 0 0 0 344.4,241.0" stroke-dasharray="4.3 7.7 4.5 72.9 4.5 15.9 4.4 28.2 4.4 3.7 12.6 36.3 4.5 7.7 4.5 999"/><path d="M111.9,217.6A620.1,620.1 0 0 0 343.6,234.1" stroke-dasharray="8.3 3.6 8.4 3.7 12.4 72.1 8.5 56 8.4 35.9 16.5 999"/><path d="M113.7,210.9A613.1,613.1 0 0 0 463.1,200.4" stroke-dasharray="20.1 3.6 8.4 91.1 4.4 11.6 8.3 59.4 4.3 135 8.4 999"/><path d="M115.5,204.1A606.0,606.0 0 0 0 434.5,201.8" stroke-dasharray="27.8 74.3 16.2 15.3 4.4 180.6 4.4 999"/><path d="M117.3,197.3A599.0,599.0 0 0 0 440.1,192.9" stroke-dasharray="19.7 100.7 4.3 194.1 8.2 999"/><path d="M119.1,190.5A592.0,592.0 0 0 0 134.1,194.2" stroke-dasharray="15.6 999"/><path d="M132.0,186.5A585.0,585.0 0 0 0 229.5,201.8" stroke-dasharray="4 90.8 4.2 999"/><path d="M204.6,185.3A570.9,570.9 0 0 0 212.0,186.1" stroke-dasharray="7.6 999"/><path d="M201.8,177.9A563.9,563.9 0 0 0 212.7,179.2" stroke-dasharray="11.2 999"/><path d="M199.1,170.5A556.9,556.9 0 0 0 202.7,170.9" stroke-dasharray="3.8 999"/><path d="M348.5,155.5A542.8,542.8 0 0 0 372.8,151.4" stroke-dasharray="7.3 10.1 7.5 999"/><path d="M337.1,150.0A535.8,535.8 0 0 0 408.8,136.0" stroke-dasharray="3.7 13.5 28.2 17 10.9 999"/><path d="M332.9,143.4A528.8,528.8 0 0 0 407.0,129.2" stroke-dasharray="13.9 3.1 21 27.1 10.7 999"/><path d="M332.0,136.4A521.8,521.8 0 0 0 365.5,131.4" stroke-dasharray="10.4 9.7 14 999"/><path d="M334.5,129.0A514.8,514.8 0 0 0 374.1,122.5" stroke-dasharray="10.2 3 13.7 3 10.4 999"/><path d="M327.1,122.9A507.7,507.7 0 0 0 375.9,115.0" stroke-dasharray="3.5 2.9 10.3 6.2 3.7 2.9 7 2.9 3.7 2.9 3.7 999"/><path d="M323.1,116.2A500.7,500.7 0 0 0 390.3,104.5" stroke-dasharray="3.5 2.8 13.4 6.1 6.9 6.1 3.7 2.8 6.9 12.6 3.7 999"/><path d="M328.7,108.5A493.7,493.7 0 0 0 373.0,101.2" stroke-dasharray="6.6 6 13.3 6 3.6 2.8 6.8 999"/><path d="M331.1,101.2A486.7,486.7 0 0 0 402.3,86.8" stroke-dasharray="16 2.8 3.5 9.1 3.6 24.9 3.5 2.8 6.7 999"/><path d="M302.3,96.9A479.6,479.6 0 0 0 394.4,81.7" stroke-dasharray="6.4 27.7 3.5 2.7 9.7 40.1 3.6 999"/><path d="M329.3,87.2A472.6,472.6 0 0 0 332.4,86.8" stroke-dasharray="3.3 999"/><path d="M315.7,74.6A458.6,458.6 0 0 0 391.8,60.6" stroke-dasharray="3.2 5.5 3.4 17.5 9.3 5.6 3.4 14.4 3.4 2.6 9.3 999"/><path d="M300.4,68.8A451.5,451.5 0 0 0 390.0,53.8" stroke-dasharray="3.1 8.4 3.4 5.4 6.3 43.6 6.3 8.4 6.2 999"/><path d="M314.4,60.6A444.5,444.5 0 0 0 376.9,49.9" stroke-dasharray="3.1 8.2 3.3 5.4 3.3 2.5 3.3 25.6 3.2 2.5 3.3 999"/><path d="M310.9,53.9A437.5,437.5 0 0 0 389.0,39.5" stroke-dasharray="11.6 47.9 11.7 2.5 6.1 999"/><path d="M370.9,37.0A430.5,430.5 0 0 0 384.4,33.5" stroke-dasharray="3 5.2 6 999"/><path d="M371.9,29.5A423.5,423.5 0 0 0 382.5,26.7" stroke-dasharray="3 2.3 5.9 999"/><path d="M372.8,22.0A416.4,416.4 0 0 0 378.1,20.6" stroke-dasharray="5.6 999"/></g><g stroke="#920f05"><path d="M382.3,512.3A901.0,901.0 0 0 0 491.5,491.8" stroke-dasharray="6.1 81.5 6.2 5.5 12.1 999"/><path d="M369.9,506.7A894.0,894.0 0 0 0 495.4,483.6" stroke-dasharray="35 63.5 12 5.4 12 999"/><path d="M374.9,499.1A887.0,887.0 0 0 0 510.4,472.3" stroke-dasharray="6 126.3 6.2 999"/><path d="M34.3,465.8A879.9,879.9 0 0 0 514.0,463.9" stroke-dasharray="5.9 5.3 6.1 382.6 6.1 5.3 6.1 11 11.9 5.3 6.1 22.5 11.8 999"/><path d="M9.0,451.0A872.9,872.9 0 0 0 555.3,443.5" stroke-dasharray="5.9 33.6 11.7 356.8 40.1 5.3 17.4 10.9 34.4 11 6 5.3 6.1 5.2 6.1 999"/><path d="M5.8,442.6A865.9,865.9 0 0 0 542.3,440.5" stroke-dasharray="11.4 5.3 11.6 10.9 6 5.2 17.3 185.2 11.6 5.2 6.1 112.1 6 10.8 6 10.9 28.5 16.5 17.3 5.2 34.1 10.9 11.6 999"/><path d="M13.2,437.6A858.9,858.9 0 0 0 545.4,432.0" stroke-dasharray="11.4 5.1 11.6 10.7 45.1 150.2 28.3 5.2 5.9 133.5 39.5 5.1 6 38.7 5.9 16.4 6 5.1 11.6 999"/><path d="M10.1,429.2A851.8,851.8 0 0 0 564.0,418.0" stroke-dasharray="5.7 10.7 5.9 5.2 33.6 5.1 17 154.5 33.6 5.1 11.5 99.2 17 5.1 50.2 66 17 10.7 11.4 999"/><path d="M7.0,420.8A844.8,844.8 0 0 0 566.8,409.5" stroke-dasharray="5.7 10.6 5.8 10.6 33.3 16.1 5.9 202.6 5.9 65.4 5.9 27.1 49.8 5 11.4 70.9 5.9 21.6 11.4 999"/><path d="M24.8,419.1A837.8,837.8 0 0 0 559.2,404.9" stroke-dasharray="5.6 5.1 43.9 5.1 33 86.7 5.8 5.1 5.8 141.1 11.3 32.2 82 10.5 11.3 54 5.8 999"/><path d="M16.5,409.1A830.8,830.8 0 0 0 556.8,398.3" stroke-dasharray="81.1 113 11.1 161.5 5.8 5 5.8 10.4 43.6 10.4 32.7 5 5.8 53.6 5.8 999"/><path d="M18.7,402.5A823.8,823.8 0 0 0 549.3,393.5" stroke-dasharray="5.6 4.9 70 256.4 21.8 4.9 5.8 10.3 5.7 10.3 5.8 4.9 21.8 5 5.7 15.7 5.7 5 11.1 58.4 5.8 999"/><path d="M20.8,395.8A816.7,816.7 0 0 0 526.9,393.8" stroke-dasharray="21.4 10.2 5.7 4.9 37.6 20.8 11 79.2 11 68.5 5.7 68.6 21.6 20.8 42.9 10.2 5.7 4.9 21.6 36.7 5.8 999"/><path d="M23.0,389.1A809.7,809.7 0 0 0 504.6,393.5" stroke-dasharray="26.5 10.1 42.5 15.4 5.6 15.4 5.7 215.2 42.5 10.1 26.7 4.8 5.7 31.1 32 999"/><path d="M25.1,382.4A802.7,802.7 0 0 0 609.7,345.9" stroke-dasharray="26.3 4.8 5.6 4.8 42.1 4.8 5.6 213.4 5.6 15.2 31.7 10.1 52.5 10 36.9 119.5 10.8 999"/><path d="M32.2,377.3A795.7,795.7 0 0 0 602.0,341.7" stroke-dasharray="15.7 9.9 52.1 30.6 5.6 227 5.5 4.8 5.6 9.9 5.6 190.8 21.1 999"/><path d="M29.4,369.0A788.6,788.6 0 0 0 594.4,337.4" stroke-dasharray="36.1 4.7 46.5 35.4 5.6 163.5 5.5 45.7 15.8 4.7 15.7 194.3 5.5 999"/><path d="M26.7,360.8A781.6,781.6 0 0 0 558.8,344.9" stroke-dasharray="5.3 4.7 101.9 9.7 5.5 19.9 5.5 111.3 10.5 50.4 5.5 4.7 5.4 4.7 5.5 4.7 5.4 9.8 10.5 146.9 15.6 999"/><path d="M38.5,357.2A774.6,774.6 0 0 0 560.9,336.5" stroke-dasharray="35.4 44.9 25.6 4.6 5.4 4.6 5.5 150.5 10.5 24.7 5.5 4.6 10.4 9.7 10.5 4.6 15.5 145.5 5.4 4.7 5.4 999"/><path d="M117.8,370.4A767.6,767.6 0 0 0 558.3,330.0" stroke-dasharray="10.2 4.6 25.3 24.5 10.4 89.3 5.4 4.6 5.4 39.5 10.3 49.5 10.4 59.4 5.4 39.4 15.4 24.5 15.4 999"/><path d="M109.6,361.5A760.5,760.5 0 0 0 564.8,319.7" stroke-dasharray="34.8 4.5 20.2 118.1 5.4 98.4 5.3 53.9 25.1 14.5 15.2 4.5 20.2 9.5 25.1 4.5 5.3 999"/><path d="M125.4,357.6A753.5,753.5 0 0 0 562.1,313.2" stroke-dasharray="19.8 4.5 15.1 121.9 10.2 102.4 5.3 4.5 5.3 33.8 15.1 4.5 5.3 4.5 5.3 9.4 34.6 19.2 15.1 4.5 5.3 999"/><path d="M112.5,347.8A746.5,746.5 0 0 0 568.3,302.9" stroke-dasharray="14.7 4.5 5.2 9.3 19.8 242.1 5.2 38.4 19.8 23.8 29.5 4.5 5.2 9.3 5.3 9.3 19.8 999"/><path d="M128.1,343.8A739.5,739.5 0 0 0 561.1,298.4" stroke-dasharray="5 9.2 24.4 220.6 10 4.4 10 4.4 5.2 23.6 10 4.4 10 23.6 29.2 38.1 10 999"/><path d="M115.5,334.0A732.5,732.5 0 0 0 558.3,291.9" stroke-dasharray="5 32.9 14.6 118.6 5.1 104.3 5.1 23.4 9.9 4.4 14.7 13.8 5.2 4.4 14.6 4.4 14.7 4.3 9.9 13.9 5.2 13.8 9.9 999"/><path d="M121.6,328.2A725.4,725.4 0 0 0 511.7,302.5" stroke-dasharray="4.9 37.3 5.1 117.4 14.5 98.6 9.8 4.3 5.1 4.3 5.2 13.7 9.8 4.3 28.7 4.3 19.3 4.3 5.1 999"/><path d="M91.3,313.9A718.4,718.4 0 0 0 522.5,291.1" stroke-dasharray="4.9 13.6 5 4.3 5.1 36.9 9.7 116.3 9.7 8.9 5.1 97.6 9.7 4.3 28.4 13.6 14.4 8.9 14.4 22.9 5.1 999"/><path d="M111.0,311.4A711.4,711.4 0 0 0 489.5,295.2" stroke-dasharray="4.8 179.8 5 110.5 5.1 4.2 23.5 8.8 23.5 8.9 9.6 999"/><path d="M298.7,322.1A704.4,704.4 0 0 0 551.5,264.3" stroke-dasharray="4.8 4.1 5 49.9 5 31.6 5 8.8 23.2 27.1 5 4.1 5 13.3 5 54.5 9.6 999"/><path d="M158.6,306.5A697.3,697.3 0 0 0 498.1,277.5" stroke-dasharray="4.7 94.7 9.5 4.1 5 4.1 4.9 26.8 14 4.1 4.9 17.8 4.9 4.1 9.5 17.7 4.9 4.1 14 4.2 18.5 17.7 9.5 4.1 4.9 13.2 9.5 4.1 4.9 999"/><path d="M159.7,299.6A690.3,690.3 0 0 0 470.2,279.2" stroke-dasharray="4.7 89.3 4.8 4.1 9.4 4.1 4.9 8.5 9.4 8.6 36.2 13.1 4.9 13 4.9 22 4.9 4.1 31.8 4.1 9.3 8.6 9.4 999"/><path d="M91.5,277.6A683.3,683.3 0 0 0 455.4,276.2" stroke-dasharray="4.6 75.1 4.8 79.5 4.8 4.1 9.3 8.4 9.3 4 53.7 4 4.9 4 4.9 12.9 9.2 13 4.8 4 22.6 4.1 4.8 12.9 4.9 999"/><path d="M166.3,286.4A676.3,676.3 0 0 0 457.7,268.2" stroke-dasharray="4.6 78.7 4.7 8.4 4.8 4 83.9 21.5 13.6 17.2 13.6 30.3 9.2 999"/><path d="M128.9,272.3A669.3,669.3 0 0 0 451.6,262.6" stroke-dasharray="4.5 138.7 78.7 21.3 9.1 30 9.1 4 17.8 8.3 4.7 999"/><path d="M101.1,258.4A662.2,662.2 0 0 0 437.2,259.2" stroke-dasharray="4.5 3.9 9 154.4 77.9 25.4 9 34 9 3.9 9 999"/><path d="M127.7,257.6A655.2,655.2 0 0 0 410.6,258.4" stroke-dasharray="4.5 135.7 81.3 25.1 8.9 3.9 4.6 16.7 4.6 999"/><path d="M108.8,245.9A648.2,648.2 0 0 0 413.2,250.6" stroke-dasharray="4.4 163.8 72 24.8 8.8 8.1 4.6 12.2 8.8 999"/><path d="M110.6,239.1A641.2,641.2 0 0 0 387.2,248.8" stroke-dasharray="8.5 24.6 8.7 132.9 62.9 24.6 8.7 3.7 4.6 999"/><path d="M148.5,240.5A634.1,634.1 0 0 0 345.2,248.0" stroke-dasharray="4.3 123.2 4.5 7.8 58.1 999"/><path d="M122.0,227.4A627.1,627.1 0 0 0 340.3,241.5" stroke-dasharray="4.3 19.9 4.5 125.9 4.5 11.8 37 3.7 8.5 999"/><path d="M119.7,219.7A620.1,620.1 0 0 0 327.5,235.7" stroke-dasharray="4.2 168.8 4.4 3.6 28.6 999"/></g></g></g><use href="#grayp" fill="url(#hatch)"/><use href="#seas" fill="#fff"/><use href="#borders" fill="none" stroke="#1a1a1a" stroke-width="1.05" stroke-linejoin="round"/><use href="#coast" fill="none" stroke="#000" stroke-width="1.25" stroke-linejoin="round"/><use href="#seas" fill="none" stroke="#000" stroke-width="1.25" stroke-linejoin="round"/></g><rect x="0.5" y="0.5" width="615" height="517" fill="none" stroke="#2a2a2a" stroke-width="1"/><rect x="35" y="95" width="82" height="50.4" fill="#fff"/><text class="lbl" x="37" y="112" textLength="53" lengthAdjust="spacingAndGlyphs">2070s</text><text class="lbl" x="37" y="139.4" textLength="78" lengthAdjust="spacingAndGlyphs">ECHAM4</text></svg>
<svg class="map" style="left:658px;top:30px" width="616" height="518" viewBox="0 0 616 518"><g clip-path="url(#frame)"><rect width="616" height="518" fill="#fff"/><use href="#coast" fill="#fdd9a5"/><g clip-path="url(#landclip)"><g fill="none" stroke-width="7.52"><g stroke="#ff9a00"><path d="M38.1,452.3A865.9,865.9 0 0 0 43.5,453.8" stroke-dasharray="5.8 999"/><path d="M25.9,434.1A851.8,851.8 0 0 0 511.5,435.4" stroke-dasharray="5.7 481 5.9 999"/><path d="M502.3,423.4A837.8,837.8 0 0 0 543.8,410.3" stroke-dasharray="5.6 32.3 5.8 999"/><path d="M515.9,412.1A830.8,830.8 0 0 0 531.3,407.1" stroke-dasharray="5.6 5 5.8 999"/><path d="M455.4,413.8A816.7,816.7 0 0 0 542.0,388.7" stroke-dasharray="5.5 36.7 5.7 36.8 5.7 999"/><path d="M443.6,409.3A809.7,809.7 0 0 0 459.0,405.8" stroke-dasharray="5.5 4.8 5.7 999"/><path d="M317.0,398.5A781.6,781.6 0 0 0 327.1,397.8" stroke-dasharray="10.4 999"/><path d="M162.0,378.1A767.6,767.6 0 0 0 167.0,378.8" stroke-dasharray="5.2 999"/><path d="M178.6,366.1A753.5,753.5 0 0 0 183.4,366.7" stroke-dasharray="5.1 999"/><path d="M189.1,360.3A746.5,746.5 0 0 0 358.4,359.6" stroke-dasharray="5 159.6 5.3 999"/><path d="M170.8,350.9A739.5,739.5 0 0 0 569.9,294.6" stroke-dasharray="14.6 23.6 5.2 14 5.2 340.6 5.2 999"/><path d="M195.3,346.8A732.5,732.5 0 0 0 571.4,286.2" stroke-dasharray="5 4.3 9.9 4.4 9.9 337.4 5.1 4.4 5.1 999"/><path d="M186.7,338.8A725.4,725.4 0 0 0 529.4,296.1" stroke-dasharray="9.6 4.3 5.1 70.3 5.1 239.9 5.1 4.4 5.1 999"/><path d="M215.4,334.5A718.4,718.4 0 0 0 569.9,271.5" stroke-dasharray="4.9 27.6 9.7 13.6 5.1 237.5 5.1 4.3 5 9 5 18.3 5.1 8.9 5.1 999"/><path d="M183.7,324.3A711.4,711.4 0 0 0 545.8,274.4" stroke-dasharray="9.4 18.1 5 8.9 5 318.4 5 999"/><path d="M189.1,317.9A704.4,704.4 0 0 0 538.9,269.6" stroke-dasharray="9.3 178.1 4.9 4.2 5 4.2 4.9 104.9 4.9 8.8 9.5 4.2 5 4.2 4.9 999"/><path d="M172.0,308.6A697.3,697.3 0 0 0 557.0,254.2" stroke-dasharray="4.7 8.7 18.5 176.2 5 13.2 4.9 117.4 4.9 4.1 4.9 4.2 4.9 8.7 4.9 4.1 4.9 999"/><path d="M195.2,304.4A690.3,690.3 0 0 0 562.3,244.0" stroke-dasharray="9.2 17.5 9.4 71.3 4.9 71.3 4.9 71.4 4.8 13.1 9.4 4 4.9 13.1 9.3 17.6 9.3 22.1 9.3 999"/><path d="M200.4,297.9A683.3,683.3 0 0 0 563.3,235.8" stroke-dasharray="4.6 26.3 9.2 21.8 4.9 123.8 4.9 66.1 4.9 4 4.9 21.7 4.9 12.9 4.8 39.6 13.7 999"/><path d="M179.3,288.3A676.3,676.3 0 0 0 552.3,233.2" stroke-dasharray="9 21.5 9.2 8.4 4.8 8.4 4.8 127 4.8 21.5 9.2 4 13.6 4 4.8 8.3 4.8 39.2 4.8 17.1 13.6 4 13.6 17.1 4.8 999"/><path d="M201.8,283.9A669.3,669.3 0 0 0 565.1,219.3" stroke-dasharray="8.9 3.9 4.8 21.3 9.1 121.3 4.8 51.7 4.8 8.3 4.7 30 4.8 8.3 4.7 25.7 4.8 25.6 4.8 8.3 4.7 4 4.7 999"/><path d="M185.5,275.0A662.2,662.2 0 0 0 611.2,186.3" stroke-dasharray="4.5 8.2 4.7 3.9 9 16.8 13.3 133 4.7 29.7 4.7 51.2 4.7 16.8 4.7 21.1 4.7 16.8 4.7 8.2 4.7 16.8 9 42.6 4.7 999"/><path d="M78.4,244.6A655.2,655.2 0 0 0 607.6,180.3" stroke-dasharray="4.5 8.1 4.6 89 4.6 12.4 4.7 8.1 8.9 16.6 8.9 3.9 8.9 3.8 4.7 246.4 8.9 16.7 4.6 63.4 9 3.8 4.7 999"/><path d="M88.5,240.3A648.2,648.2 0 0 0 607.6,172.1" stroke-dasharray="4.4 92.2 4.6 20.7 4.6 8 4.6 3.8 4.6 3.9 4.6 3.8 4.6 193.2 4.7 20.6 4.6 8 4.6 20.7 4.6 16.4 4.7 16.4 13 3.8 4.6 20.7 4.6 3.8 4.6 3.8 8.9 3.8 4.6 999"/><path d="M66.7,226.0A641.2,641.2 0 0 0 611.0,161.7" stroke-dasharray="8.5 3.8 8.7 3.8 4.6 3.7 4.6 12.1 4.5 16.3 4.6 3.7 4.6 53.7 4.6 28.7 4.6 7.9 12.9 32.9 8.8 7.9 4.6 99.5 8.7 78.8 4.5 28.8 8.7 37.1 4.5 16.3 8.7 16.3 4.5 999"/><path d="M132.3,237.1A634.1,634.1 0 0 0 593.2,164.3" stroke-dasharray="12.6 3.7 4.5 139.6 4.5 119.1 4.5 57.3 4.5 3.7 8.6 36.7 4.5 20.2 4.5 3.8 4.5 11.9 4.6 20.2 4.5 999"/><path d="M75.0,214.0A627.1,627.1 0 0 0 610.4,145.5" stroke-dasharray="4.3 11.8 4.5 48.4 4.5 146.2 4.5 11.8 4.5 3.7 4.5 125.8 8.6 60.7 4.4 40.4 4.4 11.9 8.5 15.9 4.5 11.8 4.5 3.6 4.5 999"/><path d="M92.6,212.2A620.1,620.1 0 0 0 613.4,135.2" stroke-dasharray="4.2 15.7 4.5 19.7 4.4 176.8 4.5 132.5 4.4 35.9 4.4 56 8.4 27.8 4.4 31.9 8.4 999"/><path d="M87.0,203.1A613.1,613.1 0 0 0 602.8,133.7" stroke-dasharray="4.2 3.6 4.3 23.5 4.4 7.6 4.4 3.5 4.4 75.3 4.4 27.4 4.4 222.6 8.4 7.5 4.4 11.6 4.3 7.6 8.4 47.4 4.3 3.6 8.4 3.6 4.3 15.6 4.4 999"/><path d="M107.9,202.0A606.0,606.0 0 0 0 608.9,121.3" stroke-dasharray="4.1 3.6 4.3 7.5 4.3 3.6 8.2 78.4 4.3 23.2 8.3 235.8 4.3 3.5 4.4 42.9 4.3 3.5 4.4 19.3 4.3 7.5 4.3 3.5 8.3 3.5 4.4 11.4 4.3 999"/><path d="M128.6,200.2A599.0,599.0 0 0 0 605.0,115.4" stroke-dasharray="4.1 96.9 4.2 221.4 4.3 19.1 4.3 89 4.3 3.5 4.3 7.4 8.2 22.9 4.3 999"/><path d="M229.0,208.8A592.0,592.0 0 0 0 607.4,105.3" stroke-dasharray="4 238 12 3.4 4.3 14.9 4.3 22.7 4.2 22.7 4.2 3.5 8.1 34.2 4.2 3.5 4.2 3.4 4.3 999"/><path d="M132.0,186.5A585.0,585.0 0 0 0 606.5,97.3" stroke-dasharray="4 90.8 4.2 212.4 4.2 3.4 4.2 14.8 4.1 3.4 4.2 37.6 8 7.2 4.2 22.4 4.2 7.2 8 3.4 4.2 3.4 8 3.4 4.2 7.2 4.2 7.2 4.2 999"/><path d="M122.7,176.9A578.0,578.0 0 0 0 599.4,93.7" stroke-dasharray="11.5 311.1 4.2 7.1 7.9 59.7 4.1 63.4 4.2 10.8 4.2 7.1 4.2 999"/><path d="M121.0,169.2A570.9,570.9 0 0 0 561.1,109.9" stroke-dasharray="3.9 444.6 7.8 999"/><path d="M560.6,102.0A563.9,563.9 0 0 0 566.9,98.2" stroke-dasharray="7.5 999"/><path d="M547.7,101.5A556.9,556.9 0 0 0 560.1,94.1" stroke-dasharray="3.8 6.9 4 999"/><path d="M267.6,168.1A549.9,549.9 0 0 0 271.2,168.1" stroke-dasharray="3.8 999"/><path d="M267.7,161.1A542.8,542.8 0 0 0 271.2,161.1" stroke-dasharray="3.7 999"/></g><g stroke="#c46a05"><path d="M480.2,494.6A901.0,901.0 0 0 0 485.9,493.2" stroke-dasharray="6.1 999"/><path d="M478.5,487.8A894.0,894.0 0 0 0 495.4,483.6" stroke-dasharray="6 5.4 6.2 999"/><path d="M502.8,445.2A858.9,858.9 0 0 0 508.1,443.7" stroke-dasharray="5.8 999"/><path d="M504.3,430.2A844.8,844.8 0 0 0 509.5,428.7" stroke-dasharray="5.7 999"/><path d="M561.8,396.4A830.8,830.8 0 0 0 566.9,394.5" stroke-dasharray="5.6 999"/><path d="M445.1,416.2A816.7,816.7 0 0 0 450.3,415.0" stroke-dasharray="5.5 999"/><path d="M572.9,339.1A781.6,781.6 0 0 0 577.6,337.1" stroke-dasharray="5.3 999"/><path d="M166.0,385.7A774.6,774.6 0 0 0 326.6,390.8" stroke-dasharray="5.2 150.6 5.4 999"/><path d="M142.3,375.0A767.6,767.6 0 0 0 157.1,377.3" stroke-dasharray="5.2 4.6 5.4 999"/><path d="M133.8,366.3A760.5,760.5 0 0 0 167.9,371.8" stroke-dasharray="5.1 24.3 5.4 999"/><path d="M120.6,356.7A753.5,753.5 0 0 0 571.1,309.4" stroke-dasharray="5.1 63.2 5.3 156.2 5.3 175.8 5.3 33.9 10.1 999"/><path d="M122.0,349.8A746.5,746.5 0 0 0 189.1,360.3" stroke-dasharray="5 43.3 5.2 9.3 5.3 999"/><path d="M114.0,340.9A739.5,739.5 0 0 0 507.2,318.9" stroke-dasharray="5 4.4 14.8 47.6 10 4.5 5.2 14 5.2 23.6 5.2 239.7 10 4.4 5.2 999"/><path d="M167.0,343.3A732.5,732.5 0 0 0 531.9,302.6" stroke-dasharray="5 9.1 5.1 13.9 5.2 37.6 5.2 99.5 5.1 71 5.2 4.3 5.2 4.3 5.2 66.2 5.1 13.9 5.2 999"/><path d="M112.4,326.2A725.4,725.4 0 0 0 538.1,292.6" stroke-dasharray="4.9 122.1 5.1 4.3 9.9 178.6 5.1 37.3 5.1 23.2 5.1 4.3 5.1 18.5 5.1 999"/><path d="M100.3,316.1A718.4,718.4 0 0 0 509.3,295.9" stroke-dasharray="4.9 139.5 5.1 13.6 5.1 69.6 5 9 5 32.3 5.1 4.2 5.1 106.9 5.1 999"/><path d="M97.5,308.2A711.4,711.4 0 0 0 541.5,276.1" stroke-dasharray="14.1 8.8 9.6 13.5 5 13.5 5 32 5 41.2 5 68.9 5 73.5 5.1 119.7 5 4.2 5 4.3 9.6 999"/><path d="M112.5,304.6A704.4,704.4 0 0 0 547.3,266.1" stroke-dasharray="4.8 8.7 23.3 27 5 27.1 9.5 27.1 4.9 40.8 5 4.2 9.5 22.5 5 95.6 14.2 63.6 9.6 8.7 5 13.3 9.6 999"/><path d="M167.5,307.9A697.3,697.3 0 0 0 540.4,261.4" stroke-dasharray="4.7 4.2 4.9 40.4 4.9 4.1 14 4.1 5 35.8 4.9 90.2 9.5 76.6 13.9 17.8 4.9 8.7 4.9 4.1 4.9 13.2 5 999"/><path d="M124.4,292.9A690.3,690.3 0 0 0 525.2,260.0" stroke-dasharray="4.7 102.7 4.9 4.1 4.9 66.8 4.9 66.9 4.8 8.6 4.9 35.5 4.8 40 4.9 4.1 4.8 17.6 4.9 8.5 4.9 999"/><path d="M104.3,281.0A683.3,683.3 0 0 0 522.6,253.5" stroke-dasharray="4.6 39.6 4.8 4.1 9.2 4.1 9.2 26.3 9.3 30.6 4.9 172.6 9.3 8.5 4.8 12.9 4.9 12.9 4.8 26.3 4.8 12.9 4.8 999"/><path d="M123.1,278.2A676.3,676.3 0 0 0 564.3,227.6" stroke-dasharray="13.4 30.3 4.8 34.8 4.7 34.8 4.8 144.5 4.8 26 4.8 91.8 4.8 26 4.7 12.8 4.8 999"/><path d="M128.9,272.3A669.3,669.3 0 0 0 553.4,224.9" stroke-dasharray="4.5 43.1 4.8 38.7 4.7 4 4.7 17 4.8 8.3 4.7 86.5 9.1 60.5 4.7 21.4 4.7 4 9 17 4.8 21.3 4.8 43 4.8 999"/><path d="M126.2,264.5A662.2,662.2 0 0 0 614.8,184.1" stroke-dasharray="4.5 3.9 4.7 16.8 4.7 34 4.7 25.4 9 16.8 4.7 55.6 4.7 16.8 4.7 29.7 4.7 34 4.7 34 4.7 46.9 4.7 12.5 4.7 25.4 4.7 12.5 4.7 55.5 4.7 3.9 4.7 999"/><path d="M62.2,239.3A655.2,655.2 0 0 0 603.9,182.5" stroke-dasharray="4.5 3.8 8.9 8.1 4.7 12.4 4.6 33.7 13.1 3.9 4.6 33.7 4.6 3.9 4.6 20.9 4.7 25.1 4.7 135.7 9 42.1 8.9 8.1 8.9 20.9 4.7 3.8 8.9 42.2 4.7 3.8 4.7 3.8 4.7 25.1 4.7 8.1 4.6 999"/><path d="M92.6,241.4A648.2,648.2 0 0 0 593.0,180.7" stroke-dasharray="8.6 29.1 21.4 8.1 4.6 33.2 4.7 3.8 4.6 50.1 4.6 92.2 4.6 75.4 8.8 3.8 4.7 37.4 8.9 33.2 4.7 3.8 4.6 24.8 4.6 29.1 4.6 999"/><path d="M86.5,232.3A641.2,641.2 0 0 0 614.5,159.5" stroke-dasharray="4.4 3.7 4.6 32.9 4.6 3.7 4.6 3.8 4.5 53.8 4.5 112.1 4.5 95.4 4.6 28.7 4.6 12.1 8.7 12.1 8.7 8 4.5 74.6 4.5 3.8 4.6 12.1 4.5 12.1 4.6 999"/><path d="M96.4,227.9A634.1,634.1 0 0 0 610.8,153.6" stroke-dasharray="4.3 28.4 4.6 73.7 4.5 69.6 4.6 119 4.5 3.7 4.6 3.7 4.5 24.3 4.5 20.2 4.5 3.8 4.5 16.1 4.5 90.2 4.5 24.3 4.5 999"/><path d="M71.1,212.7A627.1,627.1 0 0 0 607.0,147.7" stroke-dasharray="4.3 3.6 4.5 44.4 8.6 162.5 4.5 158.4 4.5 15.9 4.5 3.6 4.5 3.7 4.5 11.8 4.4 15.9 4.5 48.5 16.7 3.7 4.4 11.8 4.5 999"/><path d="M81.0,208.6A620.1,620.1 0 0 0 603.2,141.7" stroke-dasharray="4.2 11.7 4.4 3.7 4.4 7.6 12.5 3.7 4.4 184.9 4.4 132.5 4.4 11.7 4.4 7.7 4.4 23.8 4.4 3.6 4.5 3.6 4.4 52 4.4 3.6 4.4 19.8 4.4 999"/><path d="M102.2,207.7A613.1,613.1 0 0 0 612.8,127.1" stroke-dasharray="4.2 3.6 12.3 3.6 4.4 7.5 4.4 95.2 4.4 206.6 8.4 31.4 8.4 19.5 4.4 27.5 4.4 43.4 4.3 3.6 8.4 3.6 4.3 3.6 12.4 999"/><path d="M123.2,206.0A606.0,606.0 0 0 0 615.4,116.8" stroke-dasharray="4.1 314.5 4.4 11.4 4.3 7.5 4.3 35.1 4.3 23.2 4.3 3.6 4.3 3.6 4.3 27.1 4.4 19.3 4.3 3.5 8.3 7.5 8.3 999"/><path d="M220.7,215.2A599.0,599.0 0 0 0 614.6,108.8" stroke-dasharray="8 236.9 8.2 11.3 4.3 50.1 8.2 34.6 4.3 19.1 15.9 7.4 8.2 999"/><path d="M438.1,186.1A592.0,592.0 0 0 0 613.7,100.9" stroke-dasharray="4 57.3 4.3 22.6 4.3 3.4 4.3 34.2 15.8 7.2 12 3.4 4.3 3.4 4.3 7.3 4.2 999"/><path d="M457.9,172.5A585.0,585.0 0 0 0 609.6,95.1" stroke-dasharray="4 14.8 4.2 56.6 4.2 33.8 4.2 14.8 4.2 3.4 8 3.4 8 3.4 4.2 999"/><path d="M444.9,169.4A578.0,578.0 0 0 0 596.3,95.9" stroke-dasharray="7.7 104.7 15.4 7.1 7.9 10.9 4.2 3.3 7.9 999"/><path d="M204.6,185.3A570.9,570.9 0 0 0 567.4,106.1" stroke-dasharray="7.6 366.7 4.1 999"/><path d="M212.7,179.2A563.9,563.9 0 0 0 560.6,102.0" stroke-dasharray="3.9 347.5 11.4 999"/><path d="M550.8,99.7A556.9,556.9 0 0 0 557.0,96.0" stroke-dasharray="7.4 999"/><path d="M264.1,168.1A549.9,549.9 0 0 0 267.6,168.1" stroke-dasharray="3.8 999"/><path d="M391.9,140.2A535.8,535.8 0 0 0 408.8,136.0" stroke-dasharray="3.7 10 3.9 999"/><path d="M388.8,112.1A507.7,507.7 0 0 0 411.1,106.2" stroke-dasharray="3.5 16.1 3.7 999"/><path d="M361.3,75.0A465.6,465.6 0 0 0 364.2,74.4" stroke-dasharray="3.2 999"/><path d="M345.3,70.7A458.6,458.6 0 0 0 442.6,43.5" stroke-dasharray="3.2 29.4 3.3 53.3 3.3 5.6 3.4 999"/><path d="M429.0,41.2A451.5,451.5 0 0 0 434.5,39.1" stroke-dasharray="6.1 999"/><path d="M429.3,33.6A444.5,444.5 0 0 0 437.3,30.4" stroke-dasharray="3.1 2.5 3.3 999"/><path d="M429.4,26.0A437.5,437.5 0 0 0 445.2,19.5" stroke-dasharray="3 11 3.2 999"/><path d="M384.4,33.5A430.5,430.5 0 0 0 432.1,17.4" stroke-dasharray="3 38.7 8.8 999"/><path d="M421.7,13.9A423.5,423.5 0 0 0 426.9,11.9" stroke-dasharray="5.7 999"/><path d="M370.2,22.7A416.4,416.4 0 0 0 372.8,22.0" stroke-dasharray="2.9 999"/></g><g stroke="#e80b00"><path d="M430.5,483.6A879.9,879.9 0 0 0 491.9,470.0" stroke-dasharray="5.9 51.1 6.1 999"/><path d="M74.7,468.8A872.9,872.9 0 0 0 517.5,455.6" stroke-dasharray="5.9 334.1 11.7 56.3 11.7 22.3 6.1 999"/><path d="M21.9,447.6A865.9,865.9 0 0 0 595.1,421.1" stroke-dasharray="5.8 5.2 6.1 5.2 6 359.6 6 10.8 6 89.6 6.1 72.7 6 999"/><path d="M13.2,437.6A858.9,858.9 0 0 0 556.0,428.4" stroke-dasharray="5.8 5.2 11.5 5.2 6 356.6 6 5.1 17.2 10.7 6 72.1 17.2 21.9 6 999"/><path d="M10.1,429.2A851.8,851.8 0 0 0 579.6,412.2" stroke-dasharray="16.8 10.7 11.4 32.8 6 414.5 5.9 43.9 5.9 10.7 11.5 5.1 5.9 999"/><path d="M12.2,422.5A844.8,844.8 0 0 0 571.9,407.6" stroke-dasharray="33.1 389.2 5.9 65.4 5.9 43.5 5.9 16.1 5.9 999"/><path d="M19.6,417.5A837.8,837.8 0 0 0 569.4,401.0" stroke-dasharray="27.4 37.7 5.8 16 11.2 315.3 5.8 81.2 5.9 48.5 5.9 999"/><path d="M21.7,410.8A830.8,830.8 0 0 0 561.8,396.4" stroke-dasharray="5.6 5 16.6 280.2 5.8 183 5.8 42.8 5.8 999"/><path d="M23.8,404.1A823.8,823.8 0 0 0 569.4,386.0" stroke-dasharray="5.6 4.9 11.1 42.4 5.8 15.6 5.8 342 5.7 101.3 5.7 5 5.7 999"/><path d="M30.9,399.0A816.7,816.7 0 0 0 610.8,360.9" stroke-dasharray="10.8 58 5.7 349.7 5.7 15.5 5.7 84.5 5.7 4.9 5.7 36.7 5.7 999"/><path d="M38.0,393.8A809.7,809.7 0 0 0 554.5,376.7" stroke-dasharray="5.5 25.9 5.6 10.1 5.7 15.4 5.6 362.5 5.7 78.4 5.7 999"/><path d="M50.1,390.0A802.7,802.7 0 0 0 614.4,343.7" stroke-dasharray="10.6 10.1 5.6 10 10.8 41.3 5.6 312.4 10.9 145.5 5.7 4.8 5.6 999"/><path d="M71.9,388.7A795.7,795.7 0 0 0 611.4,337.3" stroke-dasharray="5.4 61.6 10.7 165 10.7 30.6 5.6 216.6 5.6 30.6 10.8 999"/><path d="M133.8,394.9A788.6,788.6 0 0 0 613.0,328.8" stroke-dasharray="5.3 4.7 10.7 76.4 5.5 86.7 5.5 225 10.7 4.7 5.5 9.9 5.5 30.3 5.5 999"/><path d="M130.0,387.1A781.6,781.6 0 0 0 591.6,331.0" stroke-dasharray="15.4 4.7 5.5 14.8 5.5 60.5 5.5 101.1 5.5 197.6 5.5 4.6 5.5 14.8 5.5 4.7 5.5 4.6 5.5 999"/><path d="M126.3,379.2A774.6,774.6 0 0 0 556.3,338.3" stroke-dasharray="30.4 14.7 10.4 110.3 5.5 44.8 5.5 190.7 5.5 14.7 5.4 999"/><path d="M112.9,369.4A767.6,767.6 0 0 0 576.7,322.3" stroke-dasharray="20.1 4.6 5.4 4.6 5.4 4.6 5.4 9.5 5.4 54.4 10.4 69.4 5.4 24.5 5.4 44.5 5.4 104.3 5.3 49.5 5.4 4.6 5.4 9.5 5.4 999"/><path d="M124.1,364.5A760.5,760.5 0 0 0 573.9,315.8" stroke-dasharray="10.1 4.5 5.4 4.5 15.2 73.7 5.4 29.2 5.3 58.9 5.3 152.8 20.1 19.4 20.2 24.3 5.3 999"/><path d="M115.8,355.7A753.5,753.5 0 0 0 575.6,307.4" stroke-dasharray="5.1 9.4 10.2 9.4 19.9 146.5 5.3 38.7 10.2 19.2 5.3 97.4 5.3 9.4 5.3 14.3 5.3 29 10.2 9.3 5.3 999"/><path d="M117.3,348.8A746.5,746.5 0 0 0 563.8,304.9" stroke-dasharray="5 9.3 5.3 4.4 5.3 4.4 5.3 4.4 10.1 4.5 5.2 19 10.1 140.2 5.3 33.5 5.3 96.5 5.3 9.3 5.2 4.5 14.9 9.3 5.3 4.4 5.3 14.1 5.3 999"/><path d="M137.6,345.6A739.5,739.5 0 0 0 565.5,296.5" stroke-dasharray="5 4.4 10 4.4 5.2 57.3 5.2 9.2 5.2 9.2 5.2 52.4 5.2 33.2 19.6 18.9 10 105.2 5.2 9.2 19.6 9.2 5.3 4.4 10 4.4 5.2 999"/><path d="M110.9,333.0A732.5,732.5 0 0 0 549.5,295.6" stroke-dasharray="43 4.4 9.9 9.1 5.2 47.1 9.9 9.2 14.6 42.4 5.2 4.4 5.1 32.9 5.2 28.1 5.2 47.2 5.1 4.4 5.1 4.4 9.9 9.1 9.9 4.4 5.1 4.4 5.2 18.6 5.1 13.9 5.2 4.3 5.2 999"/><path d="M107.8,325.1A725.4,725.4 0 0 0 551.2,287.3" stroke-dasharray="4.9 4.3 33.4 13.7 5.2 4.3 5.1 46.7 5.1 4.3 5.1 32.6 5.1 4.3 5.1 27.9 9.8 13.8 5.1 4.3 5.1 4.3 9.8 32.6 5.1 18.5 5.1 4.3 5.1 32.6 9.8 13.8 9.8 23.1 5.2 4.3 5.1 4.3 14.5 999"/><path d="M91.3,313.9A718.4,718.4 0 0 0 544.2,282.6" stroke-dasharray="9.5 4.3 9.7 4.3 51.7 9 5 50.9 5.1 18.3 5 4.3 5.1 36.9 14.4 46.3 19 37 5 4.3 9.7 4.3 5.1 8.9 9.7 4.3 9.7 4.3 9.7 18.3 5 4.3 5.1 8.9 9.7 999"/><path d="M88.5,305.9A711.4,711.4 0 0 0 533.0,279.6" stroke-dasharray="4.8 18.1 9.6 8.9 9.6 18.1 5 4.2 9.7 27.3 5 22.7 5.1 13.4 5 4.3 14.2 13.5 9.6 27.3 5.1 18 28.2 4.2 9.6 59.7 5 8.9 5 8.8 9.7 8.8 9.6 4.3 5 13.4 5.1 4.2 5 999"/><path d="M94.8,300.3A704.4,704.4 0 0 0 534.6,271.4" stroke-dasharray="18.5 4.2 4.9 40.8 5 54.5 5 8.7 9.6 8.7 5 8.7 5 8.8 9.5 4.2 5 17.9 14.1 13.3 9.6 8.7 9.6 8.7 5 4.2 4.9 50 9.5 22.5 9.5 13.4 4.9 31.7 4.9 999"/><path d="M118.5,298.8A697.3,697.3 0 0 0 532.0,264.8" stroke-dasharray="9.3 4.1 9.4 17.8 9.4 90.2 4.9 8.7 4.9 8.7 4.9 4.1 9.5 13.2 9.4 4.2 4.9 17.7 4.9 8.7 14 26.8 4.9 13.2 9.4 4.2 4.9 22.3 4.9 13.2 4.9 4.1 5 8.6 9.5 17.7 4.9 999"/><path d="M120.1,291.9A690.3,690.3 0 0 0 521.0,261.6" stroke-dasharray="4.7 8.6 27.3 4 4.9 89.3 13.8 4.1 4.9 4.1 4.9 4.1 9.3 35.5 4.9 8.5 4.9 8.6 13.9 8.5 9.4 4.1 4.9 22 4.9 17.5 4.9 4.1 13.8 22 4.9 17.5 9.4 999"/><path d="M91.5,277.6A683.3,683.3 0 0 0 510.2,258.3" stroke-dasharray="13.5 4.1 4.8 30.7 4.8 4 4.9 8.4 4.9 12.9 9.3 57.3 4.8 4 4.9 4 4.9 4 9.3 21.8 9.2 21.8 4.9 12.9 35.9 4 4.9 12.9 4.8 12.9 9.3 4 9.3 12.9 4.9 8.4 4.9 17.3 4.9 4 4.8 999"/><path d="M97.5,271.9A676.3,676.3 0 0 0 503.6,253.2" stroke-dasharray="26.6 25.9 9.2 4 4.8 8.4 4.8 69.8 22.4 8.4 9.2 8.4 9.1 8.4 4.8 12.8 4.8 4 4.8 8.4 9.1 4 4.8 4 18 39.1 4.8 12.8 4.8 4 17.9 21.6 9.2 999"/><path d="M103.5,266.3A669.3,669.3 0 0 0 569.0,217.4" stroke-dasharray="4.5 4 17.8 3.9 22.2 3.9 13.4 8.3 4.8 69.1 4.8 17 4.7 4 13.4 4 4.7 3.9 9.1 8.3 9.1 4 4.7 4 4.7 8.3 9.1 3.9 26.5 4 4.7 4 4.7 12.7 4.7 34.4 4.7 17 17.8 3.9 4.8 47.4 4.8 3.9 4.7 999"/><path d="M55.9,244.6A662.2,662.2 0 0 0 562.0,213.0" stroke-dasharray="21.7 21.1 30.5 12.5 9 111.5 4.7 8.2 21.9 3.9 4.7 3.9 4.7 3.9 9 16.8 4.7 8.2 9 21.1 21.9 3.9 4.7 12.5 13.3 8.2 4.7 8.2 9 29.7 13.3 51.2 9 999"/><path d="M58.2,238.0A655.2,655.2 0 0 0 500.3,231.9" stroke-dasharray="4.5 3.8 4.7 37.9 21.6 25.2 4.6 114.5 17.5 3.8 17.4 42.2 8.9 3.9 13.1 3.9 17.4 25.1 8.9 25.2 8.9 33.6 4.7 999"/><path d="M64.4,232.7A648.2,648.2 0 0 0 501.8,223.9" stroke-dasharray="17 29.1 21.5 20.6 8.8 96.5 4.6 16.4 13 3.8 4.7 3.8 13 3.8 4.6 37.5 13 3.8 38.3 3.8 8.9 3.8 4.6 16.4 4.6 41.7 8.9 999"/><path d="M110.6,239.1A641.2,641.2 0 0 0 467.9,228.4" stroke-dasharray="4.4 3.7 12.9 270.3 12.9 12.1 17 3.8 4.6 16.2 4.6 999"/><path d="M120.3,234.3A634.1,634.1 0 0 0 469.7,220.4" stroke-dasharray="4.3 275.6 4.5 3.7 4.5 12 12.7 16.1 4.5 12 4.5 999"/><path d="M467.5,213.7A627.1,627.1 0 0 0 524.4,191.8" stroke-dasharray="4.3 7.7 4.5 40.3 4.5 999"/><path d="M127.6,221.6A620.1,620.1 0 0 0 514.2,188.6" stroke-dasharray="4.2 309.7 8.5 11.7 12.5 43.9 4.4 999"/><path d="M98.4,206.6A613.1,613.1 0 0 0 466.8,199.1" stroke-dasharray="4.2 3.6 4.3 326.2 8.3 15.6 12.3 999"/><path d="M104.2,200.9A606.0,606.0 0 0 0 582.3,138.1" stroke-dasharray="4.1 11.4 4.4 322.4 4.3 145.2 4.4 999"/><path d="M109.8,195.2A599.0,599.0 0 0 0 608.2,113.3" stroke-dasharray="19.7 306.9 12.1 89.1 4.3 46.3 4.2 7.4 8.2 19.1 4.2 999"/><path d="M108.0,187.4A592.0,592.0 0 0 0 610.6,103.1" stroke-dasharray="4 3.5 19.6 303.4 4.2 22.7 8.1 118.8 8.1 30.3 4.3 999"/><path d="M120.9,183.7A585.0,585.0 0 0 0 574.7,118.1" stroke-dasharray="11.6 303.6 8 143.9 4.2 999"/><path d="M434.1,172.7A578.0,578.0 0 0 0 567.9,114.0" stroke-dasharray="7.7 131 7.9 999"/><path d="M561.1,109.9A570.9,570.9 0 0 0 564.2,108.0" stroke-dasharray="3.9 999"/><path d="M431.6,151.4A556.9,556.9 0 0 0 438.6,149.3" stroke-dasharray="7.4 999"/><path d="M360.1,160.8A549.9,549.9 0 0 0 439.8,141.5" stroke-dasharray="28.8 24.6 3.9 3.2 11.1 6.8 3.9 999"/><path d="M345.0,156.0A542.8,542.8 0 0 0 410.6,142.8" stroke-dasharray="3.7 24.3 18 6.7 3.9 6.7 3.9 999"/><path d="M326.8,151.1A535.8,535.8 0 0 0 438.8,127.1" stroke-dasharray="3.7 20.5 7.3 13.5 3.9 3.1 14.3 17 7.4 17 7.3 999"/><path d="M329.4,143.8A528.8,528.8 0 0 0 407.0,129.2" stroke-dasharray="3.6 9.9 3.9 9.9 7.2 20.3 3.8 16.8 3.8 999"/><path d="M247.5,139.5A521.8,521.8 0 0 0 408.5,121.5" stroke-dasharray="7 94.5 3.8 2.9 3.8 30.1 3.8 9.8 7.2 999"/><path d="M341.2,128.2A514.8,514.8 0 0 0 432.2,107.0" stroke-dasharray="3.5 6.3 10.5 23 3.7 6.3 3.7 6.3 3.8 23 3.7 999"/><path d="M277.8,125.9A507.7,507.7 0 0 0 407.9,107.1" stroke-dasharray="10.1 6.2 3.7 35.9 3.7 9.5 3.6 16.1 3.7 2.9 3.7 9.5 3.7 2.9 7 6.2 3.7 999"/><path d="M271.2,119.0A500.7,500.7 0 0 0 374.5,108.1" stroke-dasharray="6.7 2.9 6.9 48.3 3.7 2.8 10.2 19.1 3.7 999"/><path d="M271.2,111.9A493.7,493.7 0 0 0 407.2,92.7" stroke-dasharray="19.4 41.3 6.8 9.3 6.8 12.4 6.8 12.4 10.1 2.8 10 999"/><path d="M331.1,101.2A486.7,486.7 0 0 0 408.3,85.1" stroke-dasharray="3.4 2.7 3.6 5.9 6.7 12.3 3.5 15.4 13.1 9.1 3.5 999"/><path d="M330.2,94.2A479.6,479.6 0 0 0 351.8,91.0" stroke-dasharray="3.3 5.8 6.7 2.7 3.5 999"/><path d="M349.4,77.2A465.6,465.6 0 0 0 379.0,71.1" stroke-dasharray="9.3 5.6 9.5 2.6 3.4 999"/><path d="M303.9,75.6A458.6,458.6 0 0 0 450.8,40.0" stroke-dasharray="3.2 5.5 3.4 2.6 9.3 20.5 6.3 2.6 6.4 2.5 6.4 11.5 6.4 47.2 6.4 2.6 9.3 999"/><path d="M315.1,67.6A451.5,451.5 0 0 0 450.8,32.4" stroke-dasharray="3.1 61.2 12.2 5.4 3.4 8.3 3.4 26 18 999"/><path d="M317.2,60.3A444.5,444.5 0 0 0 445.3,27.1" stroke-dasharray="6 54.4 6.2 2.5 3.3 37.1 3.3 5.4 3.3 8.2 3.3 999"/><path d="M372.5,43.8A437.5,437.5 0 0 0 437.3,22.8" stroke-dasharray="3 11 3.2 39.4 3.3 2.4 6.1 999"/><path d="M373.6,36.3A430.5,430.5 0 0 0 434.6,16.3" stroke-dasharray="3 2.4 3.2 16.4 3.2 19.1 3.2 10.8 3.2 999"/><path d="M416.6,15.8A423.5,423.5 0 0 0 421.7,13.9" stroke-dasharray="5.7 999"/></g><g stroke="#920f05"><path d="M382.3,512.3A901.0,901.0 0 0 0 491.5,491.8" stroke-dasharray="6.1 81.5 12.1 5.4 6.3 999"/><path d="M369.9,506.7A894.0,894.0 0 0 0 489.8,485.0" stroke-dasharray="35 63.5 12 5.4 6.2 999"/><path d="M369.1,499.7A887.0,887.0 0 0 0 510.4,472.3" stroke-dasharray="11.7 34.2 6.1 86.1 6.1 999"/><path d="M34.3,465.8A879.9,879.9 0 0 0 508.5,465.5" stroke-dasharray="17.3 365.4 6.1 22.5 6.1 11 29 16.8 6.1 999"/><path d="M9.0,451.0A872.9,872.9 0 0 0 576.6,435.9" stroke-dasharray="11.5 11 45.7 5.3 6.1 260.4 23.1 16.6 6 33.6 57.1 11 23.1 5.2 62.8 999"/><path d="M5.8,442.6A865.9,865.9 0 0 0 589.9,423.2" stroke-dasharray="17.1 27.7 45.4 162.7 22.9 67.1 22.9 16.4 11.7 16.4 11.7 5.2 28.5 5.3 56.6 5.2 73.5 999"/><path d="M18.6,439.2A858.9,858.9 0 0 0 592.5,414.6" stroke-dasharray="5.8 10.7 6 5.2 50.6 5.2 6 139 39.5 49.8 45 27.5 6 16.3 11.6 5.1 11.6 5.2 22.7 16.3 6 27.5 22.7 5.2 39.4 999"/><path d="M47.2,440.2A851.8,851.8 0 0 0 589.9,408.1" stroke-dasharray="33.4 5.1 22.6 137.9 50.2 43.8 39.2 16.2 72.3 27.2 6 16.2 33.6 5.1 11.5 10.6 6 5.1 11.5 999"/><path d="M7.0,420.8A844.8,844.8 0 0 0 587.2,401.6" stroke-dasharray="5.7 32.5 71.7 5.1 11.4 153.2 16.9 32.5 44.3 16.1 38.8 5.1 27.8 10.6 27.8 10.6 38.8 5.1 16.9 5 16.9 999"/><path d="M14.4,415.8A837.8,837.8 0 0 0 584.6,395.1" stroke-dasharray="5.6 26.8 38.5 5.1 16.7 21.4 5.8 5.1 11.2 54.1 16.7 64.9 16.7 32.2 38.5 21.4 38.5 5 65.7 10.5 5.9 64.9 11.2 999"/><path d="M16.5,409.1A830.8,830.8 0 0 0 582.0,388.6" stroke-dasharray="5.6 5 5.8 15.8 65.1 26.6 11.2 53.6 16.5 59 22 32 32.7 15.8 5.8 5 108.3 26.6 5.8 48.2 11.2 999"/><path d="M18.7,402.5A823.8,823.8 0 0 0 574.4,384.0" stroke-dasharray="5.6 4.9 5.8 10.3 43.2 4.9 16.5 4.9 5.8 85.2 16.4 53.1 21.8 5 11.1 10.3 53.9 4.9 5.8 4.9 64.6 21 16.5 21 5.7 31.7 11.1 5 5.7 5 5.7 999"/><path d="M20.8,395.8A816.7,816.7 0 0 0 615.6,358.6" stroke-dasharray="10.8 10.2 58.8 4.9 26.9 73.9 16.3 42 48.2 10.2 127.7 31.4 16.3 58 11 4.9 5.7 47.3 5.7 999"/><path d="M23.0,389.1A809.7,809.7 0 0 0 612.7,352.3" stroke-dasharray="16 4.8 26.7 4.9 10.9 4.9 16.1 4.9 32 62.7 16.1 31.2 47.7 20.7 126.6 31.1 32 31.1 16.2 41.7 26.7 999"/><path d="M25.1,382.4A802.7,802.7 0 0 0 609.7,345.9" stroke-dasharray="26.3 10 10.8 4.8 10.9 10 42.1 4.8 5.6 57 16 20.5 47.3 25.7 130.7 20.4 26.5 93.4 26.5 4.8 5.6 999"/><path d="M27.3,375.7A795.7,795.7 0 0 0 616.1,335.1" stroke-dasharray="46.7 4.8 62.4 9.9 5.6 51.3 15.9 9.9 46.9 30.6 5.6 9.9 31.4 4.8 62.4 144.3 10.8 4.7 31.4 10 5.5 999"/><path d="M29.4,369.0A788.6,788.6 0 0 0 608.4,331.0" stroke-dasharray="107.8 4.7 5.5 61.1 10.6 9.9 5.5 4.7 31.1 30.4 15.7 15 92.6 127.7 5.5 9.8 5.6 4.7 10.6 4.7 31.2 999"/><path d="M26.7,360.8A781.6,781.6 0 0 0 610.0,322.5" stroke-dasharray="106.8 14.8 5.5 4.7 5.5 14.8 5.5 4.7 5.4 35.2 10.5 4.7 20.7 25 25.8 14.8 15.6 4.7 71.5 106.2 20.7 4.7 5.4 4.7 15.6 14.9 5.5 4.6 20.7 999"/><path d="M38.5,357.2A774.6,774.6 0 0 0 593.3,322.5" stroke-dasharray="35.4 39.9 15.5 29.7 10.5 14.7 20.5 19.7 35.7 24.7 10.5 4.6 20.5 9.7 15.5 4.6 75.9 95.2 20.5 4.6 15.5 4.7 40.6 999"/><path d="M132.5,373.3A767.6,767.6 0 0 0 585.8,318.2" stroke-dasharray="5.2 29.5 5.4 4.6 55.2 9.6 10.3 24.6 35.3 4.6 25.3 4.6 45.2 4.6 25.4 94.3 40.3 4.5 5.4 9.6 5.4 4.6 10.3 999"/><path d="M109.6,361.5A760.5,760.5 0 0 0 582.9,311.8" stroke-dasharray="15 19.4 5.3 54 34.9 4.6 5.3 29.3 59.6 4.6 79.4 93.5 20.1 19.4 15.2 14.4 10.3 999"/><path d="M111.0,354.6A753.5,753.5 0 0 0 580.0,305.4" stroke-dasharray="5.1 9.4 5.3 9.4 10.2 48.5 54.2 9.4 54.3 4.4 29.8 4.5 5.3 9.4 20 4.5 29.7 73 5.3 9.4 15.1 9.4 24.9 24 5.3 999"/><path d="M126.8,350.7A746.5,746.5 0 0 0 572.7,301.0" stroke-dasharray="5 4.5 5.2 4.5 5.2 4.5 5.2 48.1 141 9.3 29.5 4.5 29.5 72.3 5.2 9.3 5.3 38.4 10.1 9.3 10.1 999"/><path d="M118.7,341.9A739.5,739.5 0 0 0 561.1,298.4" stroke-dasharray="5 18.8 5.2 9.2 5.2 81.3 5.2 18.8 43.6 4.4 34 18.9 19.6 9.2 24.4 119.7 5.2 4.4 5.2 9.2 5.2 999"/><path d="M152.9,341.1A732.5,732.5 0 0 0 545.1,297.4" stroke-dasharray="5 109 38.4 4.4 5.1 4.4 28.9 9.2 28.9 4.4 33.7 4.3 5.2 18.6 5.2 28.1 5.2 4.3 5.2 4.3 10 32.9 5.1 999"/><path d="M149.4,333.4A725.4,725.4 0 0 0 502.8,305.6" stroke-dasharray="14.3 79.7 5.1 37.3 28.7 9 14.6 4.3 5.1 4.3 5.1 9 33.4 4.3 19.3 4.3 5.1 9 5.1 9.1 14.5 13.7 9.9 9 5.1 999"/><path d="M276.0,336.6A718.4,718.4 0 0 0 504.9,297.5" stroke-dasharray="32.9 13.6 14.4 4.2 9.8 4.2 14.4 23 5 4.3 23.7 4.3 5 18.3 9.7 9 5 9 5 9 9.7 999"/><path d="M234.4,328.7A711.4,711.4 0 0 0 515.7,286.2" stroke-dasharray="9.4 27.4 14.2 8.9 14.2 64.3 5 8.9 5 8.8 46.6 4.3 9.6 4.2 9.7 8.8 9.6 8.9 5 4.2 9.7 999"/><path d="M230.1,321.4A704.4,704.4 0 0 0 491.7,287.1" stroke-dasharray="4.8 36.2 9.5 118.6 32.4 22.5 23.2 8.8 9.5 999"/><path d="M262.2,315.5A697.3,697.3 0 0 0 463.5,288.4" stroke-dasharray="9.3 4.1 9.4 63.1 4.9 4.1 9.5 35.8 4.9 4.2 14 8.6 4.9 4.2 23 999"/><path d="M253.4,308.3A690.3,690.3 0 0 0 448.6,285.3" stroke-dasharray="4.7 13 4.9 4.1 4.9 31 22.8 8.6 4.8 4.1 9.4 39.9 22.9 4 4.9 4.1 9.4 999"/><path d="M253.5,301.3A683.3,683.3 0 0 0 420.9,284.9" stroke-dasharray="4.6 13 4.8 8.5 4.8 4 13.8 8.4 22.6 4.1 4.8 4 4.9 44 13.7 4 4.8 999"/><path d="M136.0,281.0A676.3,676.3 0 0 0 367.6,287.6" stroke-dasharray="9 12.8 4.8 109.4 9.1 8.4 9.2 8.4 9.2 4 13.6 4 4.7 4 9.2 8.4 4.8 999"/><path d="M107.8,267.3A669.3,669.3 0 0 0 468.2,257.7" stroke-dasharray="4.5 160.5 4.7 4 4.7 12.7 4.7 17 9.1 8.3 4.7 4 4.7 117 4.7 999"/><path d="M147.3,268.8A662.2,662.2 0 0 0 365.6,273.7" stroke-dasharray="8.8 137.2 4.7 3.9 4.7 16.8 9.1 3.9 4.7 3.9 9 8.2 4.7 999"/><path d="M288.3,273.2A655.2,655.2 0 0 0 435.4,252.4" stroke-dasharray="4.5 20.8 34.5 84.7 4.6 999"/><path d="M288.1,266.2A648.2,648.2 0 0 0 429.6,246.7" stroke-dasharray="4.4 3.8 4.6 12.3 4.6 3.8 4.6 100.6 4.6 999"/><path d="M300.4,258.7A641.2,641.2 0 0 0 444.0,235.6" stroke-dasharray="8.5 3.8 8.7 120.4 4.6 999"/><path d="M300.1,251.7A634.1,634.1 0 0 0 465.7,221.7" stroke-dasharray="8.4 7.9 4.5 7.8 8.7 3.7 4.5 119 4.6 999"/><path d="M299.7,244.7A627.1,627.1 0 0 0 467.5,213.7" stroke-dasharray="8.3 3.7 4.5 20 4.4 60.7 4.5 56.6 8.6 999"/><path d="M440.2,207.5A613.1,613.1 0 0 0 444.1,206.3" stroke-dasharray="4.2 999"/><path d="M434.5,201.8A606.0,606.0 0 0 0 438.3,200.7" stroke-dasharray="4.1 999"/></g></g></g><use href="#grayp" fill="url(#hatch)"/><use href="#seas" fill="#fff"/><use href="#borders" fill="none" stroke="#1a1a1a" stroke-width="1.05" stroke-linejoin="round"/><use href="#coast" fill="none" stroke="#000" stroke-width="1.25" stroke-linejoin="round"/><use href="#seas" fill="none" stroke="#000" stroke-width="1.25" stroke-linejoin="round"/></g><rect x="0.5" y="0.5" width="615" height="517" fill="none" stroke="#2a2a2a" stroke-width="1"/><rect x="38" y="96.4" width="81.6" height="50" fill="#fff"/><text class="lbl" x="40" y="113.4" textLength="53.4" lengthAdjust="spacingAndGlyphs">2070s</text><text class="lbl" x="40" y="140.4" textLength="77.6" lengthAdjust="spacingAndGlyphs">HadCM3</text></svg>
<svg class="map" style="left:36px;top:739px" width="616" height="518" viewBox="0 0 616 518"><g clip-path="url(#frame)"><rect width="616" height="518" fill="#fff"/><use href="#coast" fill="#fdd391"/><g clip-path="url(#landclip)"><g fill="none" stroke-width="7.52"><g stroke="#dceafa"><path d="M495.5,439.9A851.8,851.8 0 0 0 500.9,438.4" stroke-dasharray="5.7 999"/><path d="M7.0,420.8A844.8,844.8 0 0 0 504.3,430.2" stroke-dasharray="11.2 487.9 5.9 999"/><path d="M20.8,395.8A816.7,816.7 0 0 0 25.9,397.4" stroke-dasharray="5.5 999"/><path d="M605.0,348.1A802.7,802.7 0 0 0 609.7,345.9" stroke-dasharray="5.4 999"/><path d="M322.5,405.2A788.6,788.6 0 0 0 327.6,404.8" stroke-dasharray="5.3 999"/><path d="M317.0,398.5A781.6,781.6 0 0 0 322.1,398.2" stroke-dasharray="5.3 999"/><path d="M321.6,391.2A774.6,774.6 0 0 0 326.6,390.8" stroke-dasharray="5.2 999"/><path d="M196.7,382.2A767.6,767.6 0 0 0 201.6,382.7" stroke-dasharray="5.2 999"/><path d="M177.7,373.1A760.5,760.5 0 0 0 182.6,373.7" stroke-dasharray="5.1 999"/><path d="M135.0,359.4A753.5,753.5 0 0 0 193.2,367.8" stroke-dasharray="10 43.6 5.3 999"/><path d="M122.0,349.8A746.5,746.5 0 0 0 554.9,308.6" stroke-dasharray="5 14.2 10.1 4.4 5.3 397.2 5.2 999"/><path d="M147.0,347.3A739.5,739.5 0 0 0 556.7,300.3" stroke-dasharray="9.8 14 5.2 38 5.2 326.2 5.2 9.3 5.2 999"/><path d="M134.2,337.8A732.5,732.5 0 0 0 257.0,350.6" stroke-dasharray="5 9.1 9.9 37.6 14.7 23.4 5.2 13.8 5.2 999"/><path d="M154.0,334.2A725.4,725.4 0 0 0 546.9,289.1" stroke-dasharray="4.9 32.6 5.1 51.4 5.1 84.5 5.1 178.6 5.1 23.2 5.1 999"/><path d="M91.3,313.9A718.4,718.4 0 0 0 401.2,324.7" stroke-dasharray="9.5 41.6 5.1 4.3 5 13.6 5.1 27.6 9.7 4.3 5.1 22.9 5 9 5 83.6 9.8 41.6 5 999"/><path d="M257.4,329.5A711.4,711.4 0 0 0 533.0,279.6" stroke-dasharray="4.8 55.1 5 27.3 5 41.2 5 133.6 5 999"/><path d="M103.6,302.5A704.4,704.4 0 0 0 555.7,262.4" stroke-dasharray="4.8 4.1 5 31.6 5 22.5 5 13.3 5 4.1 14.2 77.3 5 49.9 5 155.2 9.5 31.6 5 4.2 5 999"/><path d="M149.6,305.0A697.3,697.3 0 0 0 557.0,254.2" stroke-dasharray="4.7 13.2 9.5 8.6 5 4.1 4.9 26.8 4.9 72.1 4.9 121.9 4.9 67.6 4.9 8.7 4.9 40.4 4.9 999"/><path d="M177.4,302.2A690.3,690.3 0 0 0 554.1,247.8" stroke-dasharray="4.7 8.6 4.8 84.8 4.9 165.5 9.4 44.4 4.9 8.6 4.8 35.5 4.9 999"/><path d="M104.3,281.0A683.3,683.3 0 0 0 551.2,241.4" stroke-dasharray="4.6 39.6 4.8 26.2 13.8 17.3 4.9 39.5 4.8 52.9 4.8 44 4.8 101.7 4.9 39.5 4.8 26.3 4.8 4 9.3 999"/><path d="M101.8,273.1A676.3,676.3 0 0 0 532.2,242.0" stroke-dasharray="17.8 91.8 4.8 8.4 4.8 83 4.8 47.9 4.8 26 4.8 8.4 4.8 34.7 4.8 25.9 4.8 43.6 4.8 3.9 4.8 999"/><path d="M103.5,266.3A669.3,669.3 0 0 0 537.5,232.1" stroke-dasharray="4.5 8.3 13.5 21.3 4.8 69.1 4.8 8.3 4.7 12.6 4.8 3.9 9.1 125.7 4.7 4 4.7 21.4 4.7 99.6 9.1 999"/><path d="M55.9,244.6A662.2,662.2 0 0 0 611.2,186.3" stroke-dasharray="4.5 51.2 4.7 8.2 4.7 16.8 4.7 68.4 9 3.9 4.7 21.2 4.7 3.9 9 132.9 13.3 3.9 4.7 34 4.7 111.4 4.7 42.7 4.7 999"/><path d="M58.2,238.0A655.2,655.2 0 0 0 603.9,182.5" stroke-dasharray="8.7 8.1 4.7 12.3 4.7 12.4 8.9 8.1 4.6 8.2 4.6 8.1 4.7 25.1 4.7 3.8 8.9 59.2 4.7 33.6 4.7 29.4 4.6 84.7 8.9 20.9 4.7 3.8 4.7 12.3 4.7 20.9 4.6 20.9 4.7 12.3 4.7 12.4 4.6 46.4 13.2 999"/><path d="M80.5,237.8A648.2,648.2 0 0 0 582.0,186.8" stroke-dasharray="4.4 8 4.6 12.3 21.4 3.8 4.6 50.2 8.8 41.7 4.6 3.8 4.6 92.2 4.6 147 4.6 29.1 4.6 58.5 4.6 999"/><path d="M66.7,226.0A641.2,641.2 0 0 0 614.5,159.5" stroke-dasharray="4.4 57.9 4.5 3.8 4.6 49.5 4.6 3.8 4.5 20.4 4.6 3.8 4.5 45.4 4.6 153.7 8.7 7.9 4.6 20.4 4.6 41.2 4.6 12.1 4.6 16.2 4.6 3.7 8.8 20.4 4.6 3.7 4.6 16.2 4.6 999"/><path d="M76.7,221.9A634.1,634.1 0 0 0 610.8,153.6" stroke-dasharray="4.3 16.1 4.5 24.3 4.5 3.8 8.6 82 4.5 7.8 4.5 3.8 4.5 20.2 4.5 131.4 4.5 3.7 4.6 7.8 4.5 3.7 4.5 61.4 4.5 20.2 4.6 32.5 4.5 7.9 4.5 49 4.5 999"/><path d="M71.1,212.7A627.1,627.1 0 0 0 607.0,147.7" stroke-dasharray="12.4 20 4.5 28.1 4.4 7.8 4.5 68.8 4.5 15.9 4.4 3.7 4.5 227.7 4.5 19.9 4.5 7.7 4.5 32.2 4.5 7.7 4.5 7.7 8.6 7.7 4.5 24 4.5 999"/><path d="M88.7,211.0A620.1,620.1 0 0 0 579.1,156.3" stroke-dasharray="12.3 124.4 4.5 217 4.5 84.2 8.4 7.7 4.4 35.8 4.5 999"/><path d="M90.8,204.3A613.1,613.1 0 0 0 606.2,131.5" stroke-dasharray="8.2 7.5 20.3 111.1 4.4 210.7 4.3 15.6 8.3 27.5 4.4 67.3 4.4 3.5 4.4 23.5 4.4 3.6 4.4 999"/><path d="M119.3,205.1A606.0,606.0 0 0 0 615.4,116.8" stroke-dasharray="4.1 3.6 4.3 90.1 8.3 11.4 4.4 3.5 4.3 212.2 4.3 7.5 12.2 15.4 4.3 11.4 4.3 46.9 8.2 46.9 4.3 3.6 4.3 999"/><path d="M117.3,197.3A599.0,599.0 0 0 0 611.4,111.1" stroke-dasharray="11.9 7.4 4.2 89.1 8.2 198 4.3 15.2 4.3 26.8 12.1 22.9 8.2 3.5 4.3 22.9 4.3 46.3 4.3 15.2 4.3 999"/><path d="M115.4,189.5A592.0,592.0 0 0 0 594.6,113.9" stroke-dasharray="4 3.5 4.2 3.5 4.2 84.2 4.3 3.4 4.3 230.3 4.2 11.1 12 7.3 4.2 26.5 4.3 72.6 4.3 3.4 4.3 999"/><path d="M117.3,182.7A585.0,585.0 0 0 0 606.5,97.3" stroke-dasharray="4 3.4 4.2 7.2 4.2 87 4.2 204.8 4.2 3.4 4.2 7.2 7.9 52.8 4.2 3.4 4.2 33.8 4.2 3.4 8 7.2 8 3.4 8 3.4 8 3.4 11.8 999"/><path d="M144.6,182.3A578.0,578.0 0 0 0 586.9,102.1" stroke-dasharray="4 288.6 4.2 74.6 4.2 78.4 7.9 999"/><path d="M219.4,186.9A570.9,570.9 0 0 0 576.9,100.2" stroke-dasharray="3.9 348.2 4.1 10.7 7.8 999"/><path d="M554.3,105.7A563.9,563.9 0 0 0 557.5,103.9" stroke-dasharray="3.9 999"/><path d="M553.9,97.8A556.9,556.9 0 0 0 560.1,94.1" stroke-dasharray="7.4 999"/><path d="M264.1,161.1A542.8,542.8 0 0 0 267.7,161.1" stroke-dasharray="3.7 999"/><path d="M264.2,154.0A535.8,535.8 0 0 0 267.7,154.1" stroke-dasharray="3.7 999"/><path d="M403.7,130.1A528.8,528.8 0 0 0 407.0,129.2" stroke-dasharray="3.6 999"/><path d="M385.5,98.4A493.7,493.7 0 0 0 404.2,93.6" stroke-dasharray="3.4 12.4 3.6 999"/><path d="M373.1,72.5A465.6,465.6 0 0 0 376.1,71.8" stroke-dasharray="3.2 999"/><path d="M431.5,47.8A458.6,458.6 0 0 0 442.6,43.5" stroke-dasharray="3.2 5.5 3.4 999"/><path d="M429.3,33.6A444.5,444.5 0 0 0 431.9,32.6" stroke-dasharray="3.1 999"/></g><g stroke="#c5cce7"><path d="M467.2,490.4A894.0,894.0 0 0 0 472.9,489.1" stroke-dasharray="6 999"/><path d="M504.7,452.0A865.9,865.9 0 0 0 510.1,450.4" stroke-dasharray="5.8 999"/><path d="M491.8,426.4A837.8,837.8 0 0 0 502.3,423.4" stroke-dasharray="11.1 999"/><path d="M536.4,405.4A830.8,830.8 0 0 0 541.5,403.7" stroke-dasharray="5.6 999"/><path d="M462.2,419.5A823.8,823.8 0 0 0 498.4,409.9" stroke-dasharray="5.6 26.3 5.8 999"/><path d="M542.0,388.7A816.7,816.7 0 0 0 610.8,360.9" stroke-dasharray="5.5 63.3 5.7 999"/><path d="M58.3,399.6A809.7,809.7 0 0 0 603.1,356.6" stroke-dasharray="5.5 546.5 5.7 999"/><path d="M60.1,392.8A802.7,802.7 0 0 0 614.4,343.7" stroke-dasharray="5.4 557.4 5.7 999"/><path d="M592.6,345.9A795.7,795.7 0 0 0 597.3,343.8" stroke-dasharray="5.4 999"/><path d="M561.4,351.4A788.6,788.6 0 0 0 566.2,349.5" stroke-dasharray="5.3 999"/><path d="M311.9,398.8A781.6,781.6 0 0 0 317.0,398.5" stroke-dasharray="5.3 999"/><path d="M111.5,376.3A774.6,774.6 0 0 0 570.2,332.6" stroke-dasharray="5.2 80.1 5.5 371.8 5.5 999"/><path d="M562.9,328.1A767.6,767.6 0 0 0 567.5,326.2" stroke-dasharray="5.2 999"/><path d="M149.5,361.9A753.5,753.5 0 0 0 557.6,315.1" stroke-dasharray="5.1 205.1 5.3 131.8 5.3 58.3 5.3 999"/><path d="M136.3,352.5A746.5,746.5 0 0 0 363.2,359.0" stroke-dasharray="5 19 5.3 193.5 5.3 999"/><path d="M137.6,345.6A739.5,739.5 0 0 0 247.3,357.4" stroke-dasharray="5 14 10 76.5 5.2 999"/><path d="M129.5,336.9A732.5,732.5 0 0 0 361.5,345.1" stroke-dasharray="5 23.3 10 94.7 5.2 75.7 5.1 9.2 5.1 999"/><path d="M135.5,330.9A725.4,725.4 0 0 0 351.2,339.2" stroke-dasharray="9.6 4.3 5.1 9.1 9.8 23.2 5.1 4.3 5.1 136.2 5.1 999"/><path d="M109.4,318.3A718.4,718.4 0 0 0 522.5,291.1" stroke-dasharray="4.9 13.6 9.7 22.9 9.8 22.9 5.1 78.9 5 74.3 5.1 64.9 5.1 92.9 5 999"/><path d="M88.5,305.9A711.4,711.4 0 0 0 471.8,300.7" stroke-dasharray="27.9 27.3 5.1 22.7 9.6 13.5 9.6 8.9 5 142.8 5 27.4 5 73.5 5 999"/><path d="M99.2,301.4A704.4,704.4 0 0 0 530.4,273.1" stroke-dasharray="4.8 4.1 5 31.6 5 4.2 5 4.1 5 22.5 5 31.6 9.5 109.4 5 17.9 5 36.2 5 109.4 4.9 4.2 5 999"/><path d="M154.1,305.8A697.3,697.3 0 0 0 459.2,289.7" stroke-dasharray="4.7 22.3 4.9 13.2 4.9 235.1 5 13.2 4.9 999"/><path d="M150.8,298.1A690.3,690.3 0 0 0 508.4,266.4" stroke-dasharray="4.7 26.5 9.4 30.9 4.9 107.2 4.9 22 4.9 102.7 4.9 35.5 4.9 999"/><path d="M91.5,277.6A683.3,683.3 0 0 0 497.7,262.8" stroke-dasharray="4.6 137.2 4.9 101.6 4.9 48.4 4.8 4.1 4.8 21.8 9.3 61.7 4.8 999"/><path d="M118.9,277.2A676.3,676.3 0 0 0 544.3,236.8" stroke-dasharray="4.6 4 4.8 4 9.2 30.3 4.8 52.3 4.8 219.2 4.8 87.5 4.7 999"/><path d="M112.0,268.4A669.3,669.3 0 0 0 541.5,230.3" stroke-dasharray="4.5 69.2 4.7 12.7 4.7 12.7 4.7 169.1 4.8 3.9 4.8 60.4 4.8 12.6 4.8 8.3 4.7 43.1 4.7 999"/><path d="M59.9,246.0A662.2,662.2 0 0 0 526.8,229.0" stroke-dasharray="8.8 3.9 4.7 25.4 9 3.9 9 16.8 4.7 163.1 4.7 51.2 4.7 34 4.7 21.1 4.7 98.5 4.7 999"/><path d="M66.2,240.7A655.2,655.2 0 0 0 566.6,202.9" stroke-dasharray="8.7 29.4 4.7 8.1 4.6 12.4 4.6 3.9 4.7 8.1 4.6 63.5 4.6 25.1 4.7 42.2 8.9 220.9 4.6 42.2 4.6 999"/><path d="M68.4,234.0A648.2,648.2 0 0 0 589.4,182.8" stroke-dasharray="4.4 3.8 4.6 3.8 8.9 37.4 4.7 3.8 4.6 3.8 8.8 54.3 4.6 29.1 4.6 67 4.6 41.7 4.6 100.6 4.7 33.2 4.6 37.5 4.6 50.2 4.6 999"/><path d="M70.6,227.3A641.2,641.2 0 0 0 578.7,180.7" stroke-dasharray="4.4 12.1 4.5 8 4.5 7.9 17.1 3.8 4.5 3.8 8.7 78.7 4.6 12.1 4.6 3.7 4.6 3.8 4.5 12.1 4.6 128.7 8.7 3.8 4.5 3.8 4.6 32.9 4.5 74.6 4.6 16.2 4.6 16.2 4.6 999"/><path d="M68.9,219.4A634.1,634.1 0 0 0 589.6,166.4" stroke-dasharray="4.3 20.2 4.5 24.3 4.6 16 12.8 296.1 4.6 11.9 4.5 3.8 4.5 16 4.6 11.9 4.5 86.1 4.6 999"/><path d="M94.4,220.0A627.1,627.1 0 0 0 561.1,174.1" stroke-dasharray="4.3 44.4 4.5 317.3 4.4 44.4 4.5 24 4.5 24.1 4.4 999"/><path d="M81.0,208.6A620.1,620.1 0 0 0 613.4,135.2" stroke-dasharray="4.2 15.7 4.5 7.6 4.4 15.8 4.4 7.6 4.5 84.1 4.5 229.1 4.5 100.3 8.4 3.6 4.5 43.9 4.4 999"/><path d="M87.0,203.1A613.1,613.1 0 0 0 561.7,157.9" stroke-dasharray="4.2 405.7 8.4 31.5 4.3 23.5 4.4 3.6 4.4 999"/><path d="M107.9,202.0A606.0,606.0 0 0 0 599.0,127.8" stroke-dasharray="4.1 3.6 4.3 11.4 8.3 78.3 4.4 216 4.4 94.1 4.3 74.4 4.3 999"/><path d="M109.8,195.2A599.0,599.0 0 0 0 598.5,119.7" stroke-dasharray="8 365.3 4.3 81.3 4.3 42.4 4.3 999"/><path d="M119.1,190.5A592.0,592.0 0 0 0 613.7,100.9" stroke-dasharray="4 11.2 4.2 391.8 4.3 18.8 4.2 7.3 4.3 57.2 4.3 3.4 4.3 999"/><path d="M120.9,183.7A585.0,585.0 0 0 0 587.6,110.0" stroke-dasharray="4 3.4 4.2 315 4.2 22.3 4.2 125 4.2 999"/><path d="M119.1,175.9A578.0,578.0 0 0 0 590.1,100.0" stroke-dasharray="15.2 427.6 4.1 14.6 4.2 22.1 4.2 999"/><path d="M131.7,172.0A570.9,570.9 0 0 0 583.1,96.2" stroke-dasharray="7.6 440.9 4.1 14.4 4.1 999"/><path d="M133.4,165.2A563.9,563.9 0 0 0 570.0,96.3" stroke-dasharray="3.9 76.5 4 354.9 4.1 6.9 4.1 999"/><path d="M326.8,151.1A535.8,535.8 0 0 0 402.1,137.7" stroke-dasharray="3.7 62.2 3.9 3.1 3.9 999"/><path d="M383.9,120.4A514.8,514.8 0 0 0 387.2,119.7" stroke-dasharray="3.5 999"/><path d="M271.2,126.0A507.7,507.7 0 0 0 274.5,126.0" stroke-dasharray="3.5 999"/><path d="M387.2,105.3A500.7,500.7 0 0 0 390.3,104.5" stroke-dasharray="3.5 999"/><path d="M280.8,111.8A493.7,493.7 0 0 0 394.9,96.1" stroke-dasharray="3.4 2.8 3.6 102.2 3.6 999"/><path d="M340.5,99.9A486.7,486.7 0 0 0 368.5,95.0" stroke-dasharray="3.4 21.7 3.5 999"/><path d="M361.3,75.0A465.6,465.6 0 0 0 364.2,74.4" stroke-dasharray="3.2 999"/><path d="M354.1,69.2A458.6,458.6 0 0 0 437.0,45.6" stroke-dasharray="3.2 11.5 3.4 65.1 3.4 999"/><path d="M429.0,41.2A451.5,451.5 0 0 0 431.8,40.2" stroke-dasharray="3.1 999"/><path d="M423.8,35.6A444.5,444.5 0 0 0 426.6,34.6" stroke-dasharray="3.1 999"/><path d="M380.8,41.7A437.5,437.5 0 0 0 383.5,41.0" stroke-dasharray="3 999"/><path d="M373.6,36.3A430.5,430.5 0 0 0 376.3,35.6" stroke-dasharray="3 999"/></g><g stroke="#5468b3"><path d="M474.5,495.9A901.0,901.0 0 0 0 480.2,494.6" stroke-dasharray="6.1 999"/><path d="M430.5,483.6A879.9,879.9 0 0 0 508.5,465.5" stroke-dasharray="5.9 68.2 6.1 999"/><path d="M501.1,460.2A872.9,872.9 0 0 0 544.5,447.1" stroke-dasharray="5.9 5.2 6.1 22.3 6.1 999"/><path d="M38.1,452.3A865.9,865.9 0 0 0 542.3,440.5" stroke-dasharray="11.4 376.5 6 61.4 11.7 33.3 11.7 999"/><path d="M29.3,442.4A858.9,858.9 0 0 0 534.8,435.5" stroke-dasharray="5.8 10.7 6 473.8 5.9 5.2 6 999"/><path d="M260.3,470.0A851.8,851.8 0 0 0 365.3,464.8" stroke-dasharray="5.7 93.7 5.9 999"/><path d="M488.4,434.6A844.8,844.8 0 0 0 577.0,405.6" stroke-dasharray="5.7 38 5.9 38 5.9 999"/><path d="M14.4,415.8A837.8,837.8 0 0 0 491.8,426.4" stroke-dasharray="5.6 64.9 5.9 402.3 5.8 999"/><path d="M16.5,409.1A830.8,830.8 0 0 0 531.3,407.1" stroke-dasharray="16.4 458.2 5.8 15.8 5.8 15.8 5.8 999"/><path d="M18.7,402.5A823.8,823.8 0 0 0 49.4,411.7" stroke-dasharray="16.3 10.3 5.7 999"/><path d="M25.9,397.4A816.7,816.7 0 0 0 615.6,358.6" stroke-dasharray="5.5 259.5 5.7 180 5.7 142.8 5.7 999"/><path d="M23.0,389.1A809.7,809.7 0 0 0 607.9,354.5" stroke-dasharray="5.5 4.8 5.7 220.5 10.9 104.8 5.6 68 5.6 146.9 5.7 10.1 5.6 999"/><path d="M55.1,391.4A802.7,802.7 0 0 0 595.4,352.4" stroke-dasharray="5.4 202.9 5.7 150.7 5.7 10 10.8 156 5.6 999"/><path d="M27.3,375.7A795.7,795.7 0 0 0 261.0,413.9" stroke-dasharray="15.7 25.4 5.6 72 5.5 108.2 5.5 999"/><path d="M29.4,369.0A788.6,788.6 0 0 0 608.4,331.0" stroke-dasharray="5.3 4.7 15.8 4.7 5.6 4.7 5.5 245.5 5.5 45.7 5.5 199.4 5.5 35.5 5.5 999"/><path d="M36.4,363.9A781.6,781.6 0 0 0 596.2,328.9" stroke-dasharray="10.4 4.6 5.5 50.4 15.6 14.8 5.5 157 5.5 65.6 5.4 228.1 5.5 999"/><path d="M48.1,360.1A774.6,774.6 0 0 0 560.9,336.5" stroke-dasharray="20.3 49.9 10.5 19.7 5.5 34.8 10.4 100.2 5.5 60 5.4 14.7 5.4 29.8 5.4 120.4 5.4 9.7 10.4 999"/><path d="M127.6,372.3A767.6,767.6 0 0 0 562.9,328.1" stroke-dasharray="5.2 14.5 5.4 34.5 5.4 84.4 5.3 14.6 5.4 9.6 5.3 184.1 15.4 34.5 5.3 9.6 5.4 999"/><path d="M109.6,361.5A760.5,760.5 0 0 0 499.9,343.5" stroke-dasharray="5.1 14.5 10.2 4.6 10.3 14.4 10.3 29.2 5.3 98.4 5.4 177.4 10.3 999"/><path d="M111.0,354.6A753.5,753.5 0 0 0 571.1,309.4" stroke-dasharray="5.1 4.5 10.2 14.3 5.3 146.4 5.3 14.3 5.2 87.7 5.3 77.9 5.3 33.9 10.2 9.4 5.3 9.4 15 999"/><path d="M112.5,347.8A746.5,746.5 0 0 0 504.9,327.1" stroke-dasharray="5 33.6 5.2 140.2 5.3 9.3 5.2 28.7 5.3 4.4 5.3 4.4 5.3 28.7 10.1 38.3 5.3 43.2 15 999"/><path d="M114.0,340.9A739.5,739.5 0 0 0 520.8,314.2" stroke-dasharray="5 14 5.2 4.4 5.2 62.1 5.2 33.2 5.2 9.2 5.2 124.5 5.2 95.6 5.2 4.4 5.2 14 5.3 999"/><path d="M110.9,333.0A732.5,732.5 0 0 0 540.7,299.2" stroke-dasharray="5 23.3 10 66.2 14.6 56.7 9.9 9.1 5.2 9.1 5.2 13.9 5.1 51.9 5.2 18.6 5.2 94.7 5.2 18.6 5.2 999"/><path d="M121.6,328.2A725.4,725.4 0 0 0 533.8,294.4" stroke-dasharray="4.9 4.3 5.1 9.1 5.1 9 5.1 46.7 5.1 79.7 9.9 4.3 5.1 37.3 5.1 37.3 5.1 23.1 9.9 60.8 5.1 13.8 5.1 18.4 5.1 999"/><path d="M100.3,316.1A718.4,718.4 0 0 0 509.3,295.9" stroke-dasharray="9.5 4.3 5.1 27.6 5 4.3 5.1 13.6 5 4.3 5.1 8.9 5.1 92.9 14.4 50.9 5.1 46.2 5.1 4.3 5 13.6 5.1 64.9 5.1 999"/><path d="M115.5,312.5A711.4,711.4 0 0 0 524.4,282.9" stroke-dasharray="14.1 4.2 9.6 4.2 23.5 8.9 14.2 59.7 5 13.5 5 22.7 5 156.7 5.1 59.6 5 999"/><path d="M94.8,300.3A704.4,704.4 0 0 0 534.6,271.4" stroke-dasharray="4.8 17.9 4.9 4.2 9.6 4.1 5 13.3 5 8.8 4.9 4.2 5 136.8 5 36.2 5 8.7 5 4.2 5 49.9 5 17.9 4.9 68.3 4.9 999"/><path d="M123.0,299.7A697.3,697.3 0 0 0 532.0,264.8" stroke-dasharray="4.7 4.2 18.5 8.6 9.5 8.7 4.9 8.6 5 81.1 4.9 85.7 4.9 31.3 4.9 4.2 4.9 72.1 4.9 13.2 9.4 8.7 4.9 4.2 4.9 999"/><path d="M120.1,291.9A690.3,690.3 0 0 0 500.0,269.4" stroke-dasharray="4.7 13 9.4 8.6 13.8 4.1 4.9 17.5 4.9 75.8 4.9 8.6 4.9 13 4.9 8.6 9.3 40 4.9 13 4.9 13.1 4.8 26.5 4.9 31 4.9 17.5 9.4 999"/><path d="M95.7,278.7A683.3,683.3 0 0 0 480.9,268.5" stroke-dasharray="9.1 4 4.9 30.6 4.9 4 9.3 4 4.8 4.1 4.8 48.4 4.9 17.3 4.9 17.3 4.9 21.7 9.3 8.5 4.8 8.5 4.9 30.6 4.9 35.1 4.8 4 4.9 26.2 4.8 4.1 4.8 17.4 9.2 999"/><path d="M123.1,278.2A676.3,676.3 0 0 0 487.0,259.0" stroke-dasharray="4.6 4 4.8 12.8 9.1 4 13.6 4 9.2 17.2 4.7 48 4.8 12.7 9.2 8.4 4.8 8.4 4.8 61.1 4.8 4 4.7 26 9.2 8.4 4.8 52.3 4.8 999"/><path d="M107.8,267.3A669.3,669.3 0 0 0 455.7,261.5" stroke-dasharray="4.5 21.4 4.7 4 9.1 17 17.7 30.1 4.7 56.1 4.8 51.7 4.8 8.3 4.7 8.3 4.8 51.7 4.8 8.3 4.7 21.3 4.8 999"/><path d="M68.1,248.7A662.2,662.2 0 0 0 614.8,184.1" stroke-dasharray="4.5 3.9 4.7 46.9 13.3 8.2 13.3 12.5 4.7 29.7 4.7 59.9 4.7 3.9 4.7 8.2 4.7 46.9 4.7 81.3 9 12.5 4.7 29.7 4.7 34 4.7 38.3 4.7 55.6 4.7 999"/><path d="M78.4,244.6A655.2,655.2 0 0 0 559.0,206.7" stroke-dasharray="4.5 37.9 4.6 20.9 4.6 8.2 4.6 118.8 13.1 42.2 4.6 25.2 4.6 3.9 4.6 20.9 4.7 8.1 4.6 12.4 8.9 127.3 4.6 999"/><path d="M64.4,232.7A648.2,648.2 0 0 0 559.6,198.5" stroke-dasharray="4.4 3.8 4.6 67 4.6 8 8.8 92.3 8.8 41.7 4.6 66.9 13.1 3.8 4.6 3.8 4.6 41.7 4.6 113.3 4.6 999"/><path d="M147.1,247.4A641.2,641.2 0 0 0 582.3,178.7" stroke-dasharray="4.4 153.6 4.6 91.2 4.6 20.4 4.6 16.2 4.6 12.1 4.6 3.7 4.6 41.2 4.6 70.4 4.5 999"/><path d="M246.5,251.9A634.1,634.1 0 0 0 582.5,170.5" stroke-dasharray="4.3 147.9 4.5 57.3 4.5 24.3 4.5 7.9 8.6 3.7 4.5 20.2 4.5 36.7 4.5 7.9 4.5 999"/><path d="M400.6,231.8A627.1,627.1 0 0 0 579.0,164.4" stroke-dasharray="4.3 40.3 4.5 36.2 4.5 81.1 4.4 11.9 4.4 999"/><path d="M453.7,210.8A620.1,620.1 0 0 0 568.5,162.2" stroke-dasharray="8.3 3.6 4.4 7.7 4.4 15.7 4.4 56 8.5 7.6 4.5 999"/><path d="M227.5,229.8A613.1,613.1 0 0 0 572.1,152.2" stroke-dasharray="4.2 298.2 4.4 31.5 4.3 11.6 4.4 999"/><path d="M228.0,222.8A606.0,606.0 0 0 0 605.6,123.5" stroke-dasharray="4.1 208.3 4.3 42.9 4.3 7.5 4.3 19.3 4.4 38.9 4.4 50.7 4.4 999"/><path d="M458.7,187.1A599.0,599.0 0 0 0 614.6,108.8" stroke-dasharray="4.1 61.8 4.3 30.8 4.2 38.6 4.2 7.4 8.2 7.4 4.3 999"/><path d="M229.0,208.8A592.0,592.0 0 0 0 610.6,103.1" stroke-dasharray="4 3.5 4.2 280.3 4.3 30.3 4.3 53.4 4.3 11.1 4.2 999"/><path d="M472.2,167.5A585.0,585.0 0 0 0 609.6,95.1" stroke-dasharray="4 37.6 4.2 41.4 4.2 45.2 4.2 11 4.2 999"/><path d="M574.3,110.1A578.0,578.0 0 0 0 577.5,108.2" stroke-dasharray="4 999"/><path d="M212.0,186.1A570.9,570.9 0 0 0 580.0,98.2" stroke-dasharray="3.9 377.8 4.2 999"/><path d="M209.1,178.8A563.9,563.9 0 0 0 573.1,94.3" stroke-dasharray="3.9 373.1 4.1 999"/><path d="M348.5,155.5A542.8,542.8 0 0 0 414.0,141.9" stroke-dasharray="3.7 17.3 3.9 31.3 3.9 3.2 3.9 999"/><path d="M350.9,148.1A535.8,535.8 0 0 0 438.8,127.1" stroke-dasharray="7.2 3 3.9 69.2 7.4 999"/><path d="M410.3,128.3A528.8,528.8 0 0 0 413.6,127.4" stroke-dasharray="3.6 999"/><path d="M247.5,139.5A521.8,521.8 0 0 0 418.3,118.8" stroke-dasharray="3.6 141.9 3.8 19.9 3.8 999"/><path d="M287.9,132.7A514.8,514.8 0 0 0 390.4,118.9" stroke-dasharray="3.5 96.6 3.7 999"/><path d="M284.4,125.8A507.7,507.7 0 0 0 404.8,108.0" stroke-dasharray="3.5 6.2 3.7 49.1 3.7 16 3.7 22.7 3.7 6.2 3.7 999"/><path d="M271.2,119.0A500.7,500.7 0 0 0 387.2,105.3" stroke-dasharray="3.5 77.6 13.4 19.1 3.7 999"/><path d="M271.2,111.9A493.7,493.7 0 0 0 369.9,101.9" stroke-dasharray="3.4 2.8 3.6 86.2 3.6 999"/><path d="M383.9,91.6A486.7,486.7 0 0 0 387.0,90.9" stroke-dasharray="3.4 999"/><path d="M342.5,92.5A479.6,479.6 0 0 0 348.7,91.5" stroke-dasharray="6.4 999"/><path d="M349.4,77.2A465.6,465.6 0 0 0 379.0,71.1" stroke-dasharray="6.2 20.8 3.4 999"/><path d="M303.9,75.6A458.6,458.6 0 0 0 450.8,40.0" stroke-dasharray="6.2 35.3 3.4 38.3 3.4 56.2 9.3 999"/><path d="M318.0,67.3A451.5,451.5 0 0 0 448.1,33.6" stroke-dasharray="3.1 119.9 6.2 2.6 3.3 999"/><path d="M376.9,49.9A444.5,444.5 0 0 0 437.3,30.4" stroke-dasharray="3.1 2.5 6.1 45.8 6.2 999"/><path d="M391.7,38.7A437.5,437.5 0 0 0 429.4,26.0" stroke-dasharray="3 33.7 3.3 999"/><path d="M384.4,33.5A430.5,430.5 0 0 0 421.6,21.5" stroke-dasharray="3 33.1 3.2 999"/><path d="M374.6,28.8A423.5,423.5 0 0 0 421.7,13.9" stroke-dasharray="3 43.6 3.1 999"/></g><g stroke="#011a82"><path d="M382.3,512.3A901.0,901.0 0 0 0 491.5,491.8" stroke-dasharray="6.1 81.5 6.2 5.5 12.1 999"/><path d="M369.9,506.7A894.0,894.0 0 0 0 495.4,483.6" stroke-dasharray="35 69.3 23.6 999"/><path d="M369.1,499.7A887.0,887.0 0 0 0 510.4,472.3" stroke-dasharray="11.7 34.2 6.1 86.1 6.1 999"/><path d="M34.3,465.8A879.9,879.9 0 0 0 491.9,470.0" stroke-dasharray="17.3 365.4 6.1 22.5 6.1 11 34.7 999"/><path d="M9.0,451.0A872.9,872.9 0 0 0 576.6,435.9" stroke-dasharray="11.5 11 57.1 260.4 23.1 16.6 6 22.3 91.1 5.3 6.1 5.2 23.1 5.3 34.4 999"/><path d="M5.8,442.6A865.9,865.9 0 0 0 595.1,421.1" stroke-dasharray="33.9 10.9 45.4 162.7 22.9 67.1 22.9 16.4 11.7 10.8 17.3 5.2 28.5 5.3 28.5 10.8 6.1 5.2 22.9 10.8 56.7 999"/><path d="M13.2,437.6A858.9,858.9 0 0 0 592.5,414.6" stroke-dasharray="16.9 5.2 11.6 5.1 45.1 5.2 5.9 139.1 39.4 49.8 45.1 21.9 56.2 5.1 22.8 16.3 11.5 5.2 6 5.2 6 5.1 61.8 999"/><path d="M10.1,429.2A851.8,851.8 0 0 0 589.9,408.1" stroke-dasharray="99.8 137.9 17 5.1 28.1 43.9 22.5 5.1 11.5 16.2 72.3 10.7 5.9 32.8 83.4 999"/><path d="M17.5,424.2A844.8,844.8 0 0 0 587.2,401.6" stroke-dasharray="99 5.1 11.3 153.3 16.8 32.6 44.2 16.1 82.7 5.1 11.4 5.1 5.9 5 16.9 5.1 5.9 5.1 38.8 5.1 11.3 999"/><path d="M19.6,417.5A837.8,837.8 0 0 0 584.6,395.1" stroke-dasharray="65.5 5 27.6 10.5 5.9 5 11.3 54 16.7 64.9 16.8 32.2 38.5 21.4 98.3 15.9 22.2 10.5 27.6 10.5 16.7 999"/><path d="M32.0,413.9A830.8,830.8 0 0 0 582.0,388.6" stroke-dasharray="81.1 26.6 11.2 53.6 16.6 58.9 22 26.6 38.1 15.8 5.8 5 97.5 10.4 11.2 26.6 5.8 5 11.2 5 5.8 10.4 11.2 999"/><path d="M34.0,407.2A823.8,823.8 0 0 0 574.4,384.0" stroke-dasharray="10.9 5 69.9 85.2 16.5 53.1 21.8 4.9 11.1 10.3 53.9 5 5.7 5 75.3 10.3 21.8 4.9 5.8 4.9 5.8 10.3 21.8 4.9 5.8 4.9 16.5 999"/><path d="M30.9,399.0A816.7,816.7 0 0 0 571.8,377.5" stroke-dasharray="101 73.9 16.3 42 26.9 4.9 16.3 10.3 127.7 4.9 11 15.5 21.6 4.9 5.7 20.8 16.4 4.9 26.9 999"/><path d="M28.0,390.7A809.7,809.7 0 0 0 612.7,352.3" stroke-dasharray="5.5 4.8 21.5 4.8 79.3 62.7 16.2 31.1 5.7 10.1 32 20.6 53 4.9 68.7 4.9 10.9 15.4 31.9 31.2 21.4 41.7 5.7 10.1 5.6 999"/><path d="M25.1,382.4A802.7,802.7 0 0 0 600.2,350.2" stroke-dasharray="31.5 10 83.8 57 16 20.5 21.2 4.8 21.3 25.7 104.6 4.8 10.9 15.2 42.1 93.4 16.1 4.8 5.6 999"/><path d="M42.1,380.3A795.7,795.7 0 0 0 616.1,335.1" stroke-dasharray="26 4.8 72.8 4.7 5.6 51.3 15.9 9.9 26.2 4.8 15.9 30.6 114.1 144.3 36.6 4.8 21 999"/><path d="M34.3,370.6A788.6,788.6 0 0 0 613.0,328.8" stroke-dasharray="5.3 15 5.5 4.7 5.6 4.7 82.3 50.9 10.6 9.8 41.4 30.4 20.8 9.9 41.4 4.7 46.5 127.6 20.9 9.9 36.2 4.8 5.5 999"/><path d="M26.7,360.8A781.6,781.6 0 0 0 610.0,322.5" stroke-dasharray="10.4 9.7 5.5 4.7 51.1 14.9 15.6 4.7 20.7 9.7 10.6 4.7 5.4 35.2 35.9 25 10.5 4.7 10.6 9.7 46.1 4.7 46.1 106.2 35.9 9.8 30.8 4.7 15.6 999"/><path d="M38.5,357.2A774.6,774.6 0 0 0 593.3,322.5" stroke-dasharray="10.3 19.7 5.4 55 20.5 4.6 35.6 34.8 35.7 24.7 15.5 4.6 20.6 4.6 35.6 4.6 15.5 4.7 30.6 100.2 25.5 4.7 10.4 9.7 5.4 4.6 25.6 999"/><path d="M112.9,369.4A767.6,767.6 0 0 0 585.8,318.2" stroke-dasharray="15.2 4.5 15.4 4.6 35.3 4.6 5.4 4.5 50.3 29.5 15.4 4.5 10.4 4.6 105.1 94.3 35.3 24.5 20.4 999"/><path d="M114.4,362.5A760.5,760.5 0 0 0 582.9,311.8" stroke-dasharray="15 9.5 5.3 9.5 15.2 14.5 5.3 14.4 5.4 4.5 35 24.3 39.9 4.5 104.2 83.5 5.4 4.5 39.9 4.6 5.3 4.6 25.1 999"/><path d="M115.8,355.7A753.5,753.5 0 0 0 580.0,305.4" stroke-dasharray="5.1 9.4 5.3 19.2 15 29 54.2 9.4 34.7 4.5 15.1 4.5 34.6 14.3 39.5 4.5 10.2 82.8 24.9 9.4 10.2 28.9 10.2 999"/><path d="M117.3,348.8A746.5,746.5 0 0 0 572.7,301.0" stroke-dasharray="5 4.5 10.1 28.7 5.2 28.7 97.4 4.4 10.1 4.5 29.5 23.8 29.5 9.3 15 67.4 5.3 14.1 44.1 9.3 5.2 4.5 10.1 999"/><path d="M118.7,341.9A739.5,739.5 0 0 0 565.5,296.5" stroke-dasharray="14.6 71.7 5.2 42.8 10 4.4 72.4 4.4 5.2 9.2 34.1 4.4 24.4 47.6 5.2 23.6 5.2 4.4 14.8 4.4 19.7 18.8 10 999"/><path d="M115.5,334.0A732.5,732.5 0 0 0 553.9,293.8" stroke-dasharray="14.5 118.5 5.2 4.3 5.2 4.3 19.5 9.1 9.9 4.3 10 4.3 14.7 23.4 33.7 4.3 19.5 4.3 95.6 4.3 19.5 13.8 5.2 999"/><path d="M107.8,325.1A725.4,725.4 0 0 0 551.2,287.3" stroke-dasharray="14.3 4.3 5.2 84.4 5.1 32.6 28.6 4.3 9.9 9 5.1 4.3 24 4.3 5.1 9 38.1 4.3 24 9 38.1 9 14.6 4.3 14.5 18.5 5.1 18.4 5.1 999"/><path d="M118.5,320.3A718.4,718.4 0 0 0 531.2,287.8" stroke-dasharray="9.5 9 5 79 9.7 32.2 9.8 13.6 9.7 13.6 28.4 27.6 33.1 4.2 9.8 4.2 5.1 8.9 9.8 4.2 23.8 4.2 37.8 4.2 5.1 8.9 9.7 999"/><path d="M129.0,315.4A711.4,711.4 0 0 0 528.7,281.3" stroke-dasharray="4.8 92 9.7 27.3 9.6 8.9 18.9 4.2 5 45.8 5 13.5 18.9 13.4 55.9 13.4 37.4 4.2 9.7 4.2 5 999"/><path d="M121.5,306.6A704.4,704.4 0 0 0 526.1,274.7" stroke-dasharray="4.8 8.7 5 45.3 5 77.4 27.8 36.2 5 45.4 4.9 27.1 18.7 13.3 18.7 8.8 37 8.7 5 4.2 4.9 999"/><path d="M118.5,298.8A697.3,697.3 0 0 0 498.1,277.5" stroke-dasharray="4.7 4.2 4.9 126.4 18.5 4.2 13.9 35.9 4.9 13.2 18.5 8.7 23 8.7 4.9 4.1 14 4.1 5 4.1 14 8.7 4.9 4.1 14 4.1 9.5 999"/><path d="M124.4,292.9A690.3,690.3 0 0 0 491.5,272.3" stroke-dasharray="4.7 4.1 4.9 116.1 18.4 13 4.9 22 9.4 8.5 4.9 4.1 4.9 4.1 13.8 13.1 13.8 13.1 4.9 4.1 22.8 8.5 9.4 26.5 18.3 999"/><path d="M160.8,292.6A683.3,683.3 0 0 0 534.9,248.4" stroke-dasharray="4.6 4.1 4.8 88.4 9.3 4 4.8 4.1 4.8 4 4.9 8.5 4.8 8.5 9.2 4.1 4.8 4.1 4.8 4 9.3 12.9 18.2 17.3 4.9 4 4.8 17.4 4.8 48.5 4.8 39.5 4.9 999"/><path d="M157.6,285.0A676.3,676.3 0 0 0 495.3,256.2" stroke-dasharray="4.6 87.4 4.8 8.4 4.8 17.2 9.2 8.3 4.8 8.4 13.6 4 31.1 4 4.8 4 4.8 4 9.2 56.7 4.8 39.1 4.8 999"/><path d="M158.8,278.1A669.3,669.3 0 0 0 561.2,221.2" stroke-dasharray="8.9 103.9 4.8 3.9 13.5 12.6 17.8 3.9 4.8 8.3 4.7 4 9.1 3.9 30.8 17 4.8 8.3 4.7 21.3 4.8 77.8 4.8 30 4.7 999"/><path d="M284.2,280.3A662.2,662.2 0 0 0 607.5,188.5" stroke-dasharray="8.8 8.2 4.7 8.2 30.5 3.9 13.3 3.9 30.5 21.1 4.7 34 4.7 158.8 4.7 999"/><path d="M275.5,273.4A655.2,655.2 0 0 0 488.3,236.3" stroke-dasharray="4.5 25.1 21.7 3.8 4.7 3.8 8.9 3.9 8.9 8.1 4.7 3.8 21.7 25.1 4.7 59.2 4.6 999"/><path d="M275.5,266.4A648.2,648.2 0 0 0 563.4,196.7" stroke-dasharray="21.2 12.3 4.6 3.8 8.8 29.1 4.6 3.8 13 12.3 4.6 3.8 4.6 12.2 13.1 142.7 4.6 999"/><path d="M300.4,258.7A641.2,641.2 0 0 0 511.0,212.8" stroke-dasharray="4.4 112 4.6 87 8.7 999"/><path d="M300.1,251.7A634.1,634.1 0 0 0 337.0,248.9" stroke-dasharray="8.4 20.2 8.7 999"/><path d="M299.7,244.7A627.1,627.1 0 0 0 505.7,199.7" stroke-dasharray="8.3 174.8 4.5 19.9 4.5 999"/><path d="M480.5,201.8A620.1,620.1 0 0 0 506.8,191.7" stroke-dasharray="4.2 15.7 8.5 999"/><path d="M455.5,202.9A613.1,613.1 0 0 0 500.4,186.7" stroke-dasharray="4.2 23.5 4.4 11.5 4.4 999"/><path d="M457.1,195.0A606.0,606.0 0 0 0 460.9,193.7" stroke-dasharray="4.1 999"/><path d="M216.8,214.8A599.0,599.0 0 0 0 220.7,215.2" stroke-dasharray="4.1 999"/><path d="M434.4,187.2A592.0,592.0 0 0 0 591.4,116.0" stroke-dasharray="4 165 4.2 999"/><path d="M444.9,169.4A578.0,578.0 0 0 0 580.6,106.2" stroke-dasharray="4 142.2 4.2 999"/><path d="M435.1,150.4A556.9,556.9 0 0 0 553.9,97.8" stroke-dasharray="3.8 122.6 4 999"/><path d="M360.1,160.8A549.9,549.9 0 0 0 436.4,142.6" stroke-dasharray="10.9 6.8 11.1 35.3 4 6.7 4 999"/><path d="M352.0,155.0A542.8,542.8 0 0 0 437.7,134.8" stroke-dasharray="3.7 10.2 3.9 66.6 3.9 999"/><path d="M357.8,147.0A535.8,535.8 0 0 0 422.2,132.2" stroke-dasharray="3.7 3.1 7.3 3.1 3.9 23.9 7.4 10 3.9 999"/><path d="M356.7,140.0A528.8,528.8 0 0 0 433.4,121.5" stroke-dasharray="3.6 6.5 3.8 27.1 7.3 9.9 7.3 9.9 3.8 999"/><path d="M250.9,139.6A521.8,521.8 0 0 0 415.0,119.7" stroke-dasharray="3.6 101.3 7.1 36.9 7.2 6.4 3.8 999"/><path d="M351.1,126.7A514.8,514.8 0 0 0 413.1,113.0" stroke-dasharray="6.9 2.9 3.8 29.7 10.4 6.3 3.7 999"/><path d="M274.5,126.0A507.7,507.7 0 0 0 401.6,108.9" stroke-dasharray="6.8 68.8 3.7 9.5 3.7 22.7 3.7 6.2 3.7 999"/><path d="M274.4,118.9A500.7,500.7 0 0 0 412.3,98.6" stroke-dasharray="6.7 90.7 3.6 19.1 6.9 6.1 6.9 999"/><path d="M274.4,111.9A493.7,493.7 0 0 0 410.3,91.8" stroke-dasharray="3.4 70.1 3.7 2.8 10 6 3.6 15.6 3.6 6.1 3.6 2.8 6.8 999"/><path d="M346.7,99.0A486.7,486.7 0 0 0 399.2,87.7" stroke-dasharray="3.4 5.9 6.7 28.1 9.8 999"/><path d="M348.7,91.5A479.6,479.6 0 0 0 394.4,81.7" stroke-dasharray="6.4 37 3.5 999"/><path d="M355.3,76.1A465.6,465.6 0 0 0 370.2,73.1" stroke-dasharray="6.2 2.7 6.4 999"/><path d="M348.2,70.2A458.6,458.6 0 0 0 414.6,53.7" stroke-dasharray="6.2 2.5 12.3 44.3 3.4 999"/><path d="M306.3,68.4A451.5,451.5 0 0 0 450.8,32.4" stroke-dasharray="3.1 75.9 3.3 58.3 3.3 2.5 3.4 999"/><path d="M302.9,61.6A444.5,444.5 0 0 0 445.3,27.1" stroke-dasharray="3.1 74.7 3.2 63.2 3.2 999"/><path d="M369.7,44.4A437.5,437.5 0 0 0 445.2,19.5" stroke-dasharray="3 59.3 8.9 5.3 3.3 999"/><path d="M381.7,34.2A430.5,430.5 0 0 0 434.6,16.3" stroke-dasharray="3 13.6 3.2 24.7 11.6 999"/><path d="M385.2,26.0A423.5,423.5 0 0 0 426.9,11.9" stroke-dasharray="3 29.8 3.2 2.3 5.9 999"/></g></g></g><use href="#grayp" fill="#b4b4b4"/><use href="#seas" fill="#fff"/><use href="#borders" fill="none" stroke="#1a1a1a" stroke-width="1.05" stroke-linejoin="round"/><use href="#coast" fill="none" stroke="#000" stroke-width="1.25" stroke-linejoin="round"/><use href="#seas" fill="none" stroke="#000" stroke-width="1.25" stroke-linejoin="round"/></g><rect x="0.5" y="0.5" width="615" height="517" fill="none" stroke="#2a2a2a" stroke-width="1"/><rect x="34.8" y="88.3" width="155.5" height="76.4" fill="#fff"/><text class="lbl" x="36.8" y="105.3" textLength="151.5" lengthAdjust="spacingAndGlyphs">2070s water use</text><text class="lbl" x="36.8" y="132" textLength="117.3" lengthAdjust="spacingAndGlyphs">and HadCM3</text><text class="lbl" x="36.8" y="158.7" textLength="67.2" lengthAdjust="spacingAndGlyphs">climate</text></svg>
<svg class="map" style="left:658px;top:739px" width="616" height="518" viewBox="0 0 616 518"><g clip-path="url(#frame)"><rect width="616" height="518" fill="#fff"/><use href="#coast" fill="#fdd391"/><g clip-path="url(#landclip)"><g fill="none" stroke-width="7.52"><g stroke="#dceafa"><path d="M382.3,512.3A901.0,901.0 0 0 0 491.5,491.8" stroke-dasharray="6.1 81.5 23.8 999"/><path d="M369.9,506.7A894.0,894.0 0 0 0 489.8,485.0" stroke-dasharray="23.4 75.1 23.6 999"/><path d="M369.1,499.7A887.0,887.0 0 0 0 374.9,499.1" stroke-dasharray="6 999"/><path d="M430.5,483.6A879.9,879.9 0 0 0 491.9,470.0" stroke-dasharray="5.9 22.5 11.8 16.8 6.1 999"/><path d="M9.0,451.0A872.9,872.9 0 0 0 533.7,450.6" stroke-dasharray="11.5 11 6 16.7 11.7 294.4 11.8 50.6 11.7 5.3 11.7 39.3 6.1 22.3 23 999"/><path d="M11.1,444.3A865.9,865.9 0 0 0 589.9,423.2" stroke-dasharray="17.1 27.7 6 5.2 11.7 185.2 11.6 72.7 11.7 5.2 6 50.2 6.1 16.4 6.1 5.2 11.6 10.9 6 39 11.6 44.6 22.9 999"/><path d="M29.3,442.4A858.9,858.9 0 0 0 592.5,414.6" stroke-dasharray="11.4 16.3 17.1 10.8 6 166.9 11.6 77.7 17.1 10.8 5.9 21.9 6 21.9 6 16.4 5.9 61 6 5.1 11.6 5.2 6 33 17.2 999"/><path d="M15.4,430.9A851.8,851.8 0 0 0 589.9,408.1" stroke-dasharray="27.9 21.7 11.5 171.1 22.5 21.7 6 43.8 6 5.1 5.9 5.2 5.9 60.5 5.9 21.7 11.5 43.8 11.5 5.1 11.5 27.3 5.9 5.1 22.6 999"/><path d="M22.7,425.8A844.8,844.8 0 0 0 587.2,401.6" stroke-dasharray="22.1 27.1 16.8 197.2 16.8 32.6 22.3 10.6 11.4 16 16.9 10.6 5.8 27.1 11.4 38 38.8 21.5 5.9 5.1 22.3 999"/><path d="M19.6,417.5A837.8,837.8 0 0 0 584.6,395.1" stroke-dasharray="16.5 5.1 11.2 21.4 5.9 5 5.8 195.5 16.8 32.2 11.3 10.5 11.3 37.6 11.3 43.2 11.2 43.2 11.3 5 5.8 10.5 5.9 26.8 16.7 999"/><path d="M26.8,412.4A830.8,830.8 0 0 0 582.0,388.6" stroke-dasharray="5.6 5 11.2 15.8 5.8 10.4 5.8 199.2 16.6 42.8 11.1 48.2 5.8 5 5.8 85.9 22 37.4 5.8 10.4 11.2 999"/><path d="M23.8,404.1A823.8,823.8 0 0 0 559.4,389.8" stroke-dasharray="5.6 10.3 5.7 21 11.1 213.6 5.8 31.7 11.1 4.9 5.8 21 5.7 26.4 21.8 26.3 5.8 63.8 11.1 31.7 5.7 999"/><path d="M51.3,404.9A816.7,816.7 0 0 0 571.8,377.5" stroke-dasharray="26.7 190.6 5.7 20.8 5.7 20.8 21.7 31.4 5.7 36.7 11 10.2 11 58 11 4.9 11 15.5 11 15.6 5.7 999"/><path d="M53.2,398.2A809.7,809.7 0 0 0 607.9,354.5" stroke-dasharray="5.5 4.8 16.2 36.4 10.9 125.8 5.7 62.7 42.5 46.9 10.9 20.7 5.6 68 16.2 15.3 5.7 46.9 11 4.8 5.7 999"/><path d="M25.1,382.4A802.7,802.7 0 0 0 614.4,343.7" stroke-dasharray="5.4 30.9 5.6 4.8 10.8 30.9 10.9 124.7 10.8 57 21.2 4.8 10.8 4.9 5.6 46.5 5.6 25.7 5.6 161.2 21.3 999"/><path d="M71.9,388.7A795.7,795.7 0 0 0 616.1,335.1" stroke-dasharray="15.7 20.3 10.7 4.8 5.5 108.2 5.5 10 5.5 51.3 5.6 4.8 10.7 4.8 26.2 30.6 5.6 15.1 10.7 180.5 5.6 9.9 10.7 999"/><path d="M34.3,370.6A788.6,788.6 0 0 0 613.0,328.8" stroke-dasharray="10.4 30.4 15.7 4.8 5.5 4.7 5.5 4.8 5.5 4.7 5.5 76.5 5.5 35.4 5.6 4.7 5.5 35.5 20.8 86.7 5.5 168.7 5.5 9.8 5.6 9.8 5.5 4.8 5.5 999"/><path d="M36.4,363.9A781.6,781.6 0 0 0 600.8,326.8" stroke-dasharray="5.3 30 5.5 4.7 10.5 4.7 5.5 4.7 5.4 20 5.4 151.9 5.5 4.7 20.7 85.9 5.5 121.4 5.5 25 5.4 9.8 10.5 4.7 5.5 4.7 10.5 999"/><path d="M38.5,357.2A774.6,774.6 0 0 0 597.8,320.4" stroke-dasharray="10.3 65 10.4 9.7 5.4 150.5 15.5 9.7 5.4 80.1 5.5 115.3 10.4 29.8 5.5 14.6 5.5 4.6 20.5 999"/><path d="M112.9,369.4A767.6,767.6 0 0 0 590.3,316.2" stroke-dasharray="25.1 29.5 15.4 99.3 20.3 4.6 10.4 74.4 15.3 99.3 5.4 9.6 15.4 34.5 10.3 4.6 5.4 4.6 5.4 999"/><path d="M109.6,361.5A760.5,760.5 0 0 0 582.9,311.8" stroke-dasharray="49.6 14.4 20.2 78.6 30.1 4.5 10.3 34.1 10.3 29.3 5.3 4.5 10.3 44.1 5.3 9.5 5.3 39.2 15.2 29.2 5.4 4.5 15.2 4.6 5.3 999"/><path d="M111.0,354.6A753.5,753.5 0 0 0 584.5,303.4" stroke-dasharray="73.6 4.5 5.3 53.4 5.3 9.4 5.3 4.5 24.9 9.4 15 29 5.3 4.5 10.2 29 10.1 97.5 15.1 33.9 5.3 4.5 5.2 4.5 5.3 4.5 10.2 999"/><path d="M122.0,349.8A746.5,746.5 0 0 0 586.0,295.0" stroke-dasharray="19.6 4.4 39.2 62.7 5.2 14.2 5.2 14.1 15 4.4 5.3 57.8 10.1 125.6 5.3 9.3 14.9 57.8 5.3 999"/><path d="M123.4,342.9A739.5,739.5 0 0 0 561.1,298.4" stroke-dasharray="14.6 4.4 19.6 4.4 14.8 4.4 5.2 9.2 5.2 42.9 5.2 14 14.8 62 5.2 4.4 5.2 18.9 5.2 14 5.2 124.4 5.2 33.3 5.2 999"/><path d="M110.9,333.0A732.5,732.5 0 0 0 549.5,295.6" stroke-dasharray="5 4.3 24.2 4.4 14.6 4.4 14.7 13.8 9.9 61.5 9.9 4.4 5.1 47.2 5.2 18.6 24.2 13.8 5.2 151.8 5.2 999"/><path d="M107.8,325.1A725.4,725.4 0 0 0 572.8,277.9" stroke-dasharray="9.6 4.3 14.6 9 5.1 4.3 5.1 4.3 19.3 9 14.5 32.6 5.1 9.1 5.1 9 5.1 4.3 9.8 27.9 5.1 46.7 5.2 4.3 5.1 13.7 5.1 178.7 5.1 999"/><path d="M118.5,320.3A718.4,718.4 0 0 0 557.1,277.2" stroke-dasharray="18.9 4.2 5.1 8.9 9.8 4.2 23.8 4.2 9.8 27.6 5 4.3 5.1 4.2 5.1 102.2 5.1 8.9 5.1 172.2 14.4 999"/><path d="M147.2,318.8A711.4,711.4 0 0 0 368.0,323.0" stroke-dasharray="4.8 8.9 46.6 36.5 5.1 31.9 5 68.9 5 4.3 5 999"/><path d="M134.9,309.4A704.4,704.4 0 0 0 559.9,260.6" stroke-dasharray="13.9 8.8 32.4 4.2 9.5 40.8 9.5 45.4 5 40.7 5 196.3 5 4.2 5 4.1 5 999"/><path d="M136.3,302.5A697.3,697.3 0 0 0 506.6,274.5" stroke-dasharray="4.7 8.7 4.9 4.1 45.7 303.1 4.9 999"/><path d="M133.2,294.7A690.3,690.3 0 0 0 533.5,256.6" stroke-dasharray="13.7 4 4.9 8.6 4.9 340.3 4.9 22 4.9 999"/><path d="M100.0,279.9A683.3,683.3 0 0 0 530.8,250.1" stroke-dasharray="13.5 30.7 9.3 4 9.3 328 4.8 8.5 4.8 17.4 9.3 999"/><path d="M97.5,271.9A676.3,676.3 0 0 0 528.2,243.7" stroke-dasharray="17.8 25.9 4.8 4 18 320.2 9.2 12.8 4.8 8.4 4.8 3.9 4.8 999"/><path d="M150.2,276.5A669.3,669.3 0 0 0 521.5,238.8" stroke-dasharray="4.5 4 9.1 243 4.8 103.9 9.1 999"/><path d="M97.0,257.3A662.2,662.2 0 0 0 622.2,179.6" stroke-dasharray="4.5 8.2 4.7 12.5 4.7 124.3 4.7 180.3 4.7 59.8 4.7 8.2 9 102.8 13.3 999"/><path d="M82.5,245.8A655.2,655.2 0 0 0 622.0,171.4" stroke-dasharray="8.7 20.9 4.6 3.9 13.2 118.7 8.9 12.4 8.9 157.1 4.6 76.2 13.2 101.7 8.9 999"/><path d="M88.5,240.3A648.2,648.2 0 0 0 621.8,163.2" stroke-dasharray="4.4 16.4 8.9 3.8 8.8 67 8.8 294.3 8.8 12.2 8.8 67 4.6 33.3 8.8 999"/><path d="M78.5,229.9A641.2,641.2 0 0 0 621.5,155.0" stroke-dasharray="12.7 228.6 4.6 95.4 4.5 70.4 4.6 3.8 8.7 3.8 4.5 3.8 4.5 3.8 4.6 57.9 4.5 37.1 8.7 999"/><path d="M80.6,223.2A634.1,634.1 0 0 0 621.1,146.9" stroke-dasharray="4.3 12 4.5 217.9 8.6 168.5 12.7 69.7 12.7 20.2 4.5 16.1 12.8 999"/><path d="M86.6,217.7A627.1,627.1 0 0 0 620.6,138.8" stroke-dasharray="4.3 7.7 4.5 215.5 4.4 174.8 4.5 11.8 4.5 3.6 4.5 52.5 4.5 28.1 4.5 15.9 12.6 999"/><path d="M115.8,218.7A620.1,620.1 0 0 0 623.4,128.4" stroke-dasharray="8.3 450.6 8.5 19.7 4.5 23.7 16.5 999"/><path d="M87.0,203.1A613.1,613.1 0 0 0 622.6,120.3" stroke-dasharray="4.2 23.5 4.4 3.5 24.3 266.4 4.4 95.2 4.3 55.4 4.4 3.6 4.3 15.6 4.3 7.6 4.4 15.5 16.3 999"/><path d="M115.5,204.1A606.0,606.0 0 0 0 621.8,112.3" stroke-dasharray="4.1 15.4 8.3 204.2 4.4 50.7 20.1 94.1 4.3 42.9 4.4 3.5 4.3 15.4 8.3 3.5 4.3 19.3 20.1 999"/><path d="M109.8,195.2A599.0,599.0 0 0 0 620.9,104.3" stroke-dasharray="8 19 4.3 205.8 8.2 11.3 19.8 7.4 31.5 3.5 8.2 81.3 4.3 23 12 11.3 4.3 15.2 4.2 30.8 23.7 999"/><path d="M115.4,189.5A592.0,592.0 0 0 0 623.0,94.1" stroke-dasharray="7.9 7.3 4.2 7.3 4.3 191.8 15.8 7.3 4.2 7.3 12 3.4 15.8 3.4 8.1 3.5 4.2 103.4 15.8 41.9 8.1 26.5 31.2 999"/><path d="M135.7,187.4A585.0,585.0 0 0 0 621.9,86.2" stroke-dasharray="7.8 208.6 4.2 7.2 30.8 3.4 8 7.2 4.2 3.4 4.2 7.2 4.2 79.3 4.2 11 8 22.4 4.2 18.6 4.2 26.2 34.6 999"/><path d="M119.1,175.9A578.0,578.0 0 0 0 620.7,78.3" stroke-dasharray="15.2 3.4 11.6 127.3 4.1 59.7 7.9 22.1 19.2 3.3 11.7 10.9 7.9 7.1 4.1 3.4 7.9 63.4 4.2 10.8 4.2 3.3 4.2 37.1 11.7 25.9 37.9 999"/><path d="M271.2,189.2A570.9,570.9 0 0 0 622.3,68.2" stroke-dasharray="3.9 92.3 11.5 3.3 4.2 7 4.1 7 4.1 14.4 11.6 62.6 15.2 3.3 11.6 32.9 11.6 18.1 4.1 7 48.6 999"/><path d="M201.8,177.9A563.9,563.9 0 0 0 618.0,62.6" stroke-dasharray="3.9 36.2 4.1 98.4 4.1 17.9 22.4 6.9 7.7 3.3 7.7 3.3 22.4 28.9 29.7 14.2 4.1 43.5 4.1 21.6 7.7 3.3 48 999"/><path d="M199.1,170.5A556.9,556.9 0 0 0 613.7,57.1" stroke-dasharray="11.1 6.8 4 14.1 4 3.2 4 46.6 4.1 46.6 4 3.2 4 10.5 14.8 25 7.6 10.5 7.6 6.8 69.1 3.3 4 32.1 4 3.3 7.6 32.2 47.4 999"/><path d="M200.0,163.5A549.9,549.9 0 0 0 609.3,51.6" stroke-dasharray="14.5 3.2 3.9 3.2 4 3.1 18.3 21 4 49.6 11.1 10.3 18.3 10.3 4 21 4 3.1 4 13.9 7.5 3.2 86.1 28.2 11.1 31.8 43.2 999"/><path d="M200.9,156.6A542.8,542.8 0 0 0 605.0,46.0" stroke-dasharray="14.3 3.1 4 10.1 11 59.5 7.5 20.8 3.9 6.6 14.5 10.2 3.9 13.7 7.5 31.3 102.7 3.1 3.9 41.9 4 3.1 49.7 999"/><path d="M201.8,149.6A535.8,535.8 0 0 0 600.7,40.5" stroke-dasharray="24.6 3 3.9 3.1 7.4 6.5 3.9 17 3.9 3.1 3.8 37.9 3.9 10 7.4 6.6 3.8 3.1 3.9 3.1 10.8 10.1 3.8 3.1 3.9 3.1 14.3 10 101.4 6.5 3.9 48.3 45.7 999"/><path d="M206.1,143.1A528.8,528.8 0 0 0 596.4,35.0" stroke-dasharray="10.5 20.2 3.8 6.5 14.2 3 17.6 33.9 7.3 9.9 3.8 27.1 7.3 6.4 3.9 6.4 17.6 16.8 65.6 6.5 3.8 6.5 3.8 6.5 3.8 3.1 3.8 6.5 3.8 30.5 55.4 999"/><path d="M206.9,136.1A521.8,521.8 0 0 0 592.0,29.4" stroke-dasharray="17.1 20 17.3 3 3.8 3 17.3 23.4 7.1 23.4 3.7 23.4 10.5 6.4 27.5 3 54.6 6.4 14 3 3.7 3 3.8 6.4 7.2 36.9 61.4 999"/><path d="M207.8,129.1A514.8,514.8 0 0 0 587.7,23.9" stroke-dasharray="20.3 9.6 3.7 3 3.7 3 27.1 6.3 7.1 29.7 3.7 3 7 6.3 10.5 16.3 37.2 2.9 3.7 6.3 7.1 3 3.7 2.9 7.1 3 3.7 16.3 3.8 6.3 3.7 6.3 3.7 3 7.1 2.9 7.1 16.3 3.8 2.9 80.6 999"/><path d="M215.2,122.9A507.7,507.7 0 0 0 583.4,18.4" stroke-dasharray="23.3 2.9 10.3 2.9 7 6.2 7 2.9 7 2.8 3.7 2.9 3.7 19.4 3.7 2.9 3.7 2.9 10.3 2.9 3.7 2.9 7 9.5 43.3 2.9 23.4 9.5 13.6 2.9 7 12.8 13.6 2.9 10.3 16.1 82.8 999"/><path d="M222.5,116.6A500.7,500.7 0 0 0 579.1,12.8" stroke-dasharray="13.2 2.9 6.9 25.6 19.9 6.1 3.7 12.6 39.4 2.8 3.7 6.1 68.7 2.8 3.7 6.1 3.6 12.7 3.6 12.6 16.7 2.8 16.7 2.8 6.9 2.9 3.6 2.9 68.7 999"/><path d="M57.2,63.3A493.7,493.7 0 0 0 574.7,7.3" stroke-dasharray="3.4 9.2 13.3 156.7 10 2.8 3.6 2.8 3.6 2.8 6.8 2.8 16.5 12.4 6.8 15.6 35.7 6 3.6 2.8 26.1 2.8 13.2 2.8 6.8 2.9 16.4 15.6 6.8 15.7 13.2 6 10 34.9 58.1 999"/><path d="M51.7,52.8A486.7,486.7 0 0 0 570.4,1.8" stroke-dasharray="3.4 2.7 3.6 9.1 9.8 6 6.7 2.8 3.5 151.3 3.6 5.9 3.6 5.9 13 9.1 6.7 2.8 19.4 12.2 19.4 5.9 9.9 2.7 3.6 2.8 35.1 2.8 6.7 9.1 13 9.1 3.6 24.9 19.3 2.8 3.6 2.7 3.6 5.9 3.6 5.9 3.6 5.9 63.6 999"/><path d="M54.9,46.5A479.6,479.6 0 0 0 566.1,-3.8" stroke-dasharray="3.3 5.8 6.7 2.7 3.5 2.7 6.7 2.7 19.1 174 3.5 2.7 6.7 5.8 12.9 24.5 22.2 8.9 3.6 2.7 12.8 2.7 12.9 5.8 3.6 2.7 3.5 12 16 2.7 6.7 5.8 3.5 18.3 3.5 12.1 6.6 5.8 6.7 5.8 3.5 15.2 53.4 999"/><path d="M52.6,37.5A472.6,472.6 0 0 0 559.4,-7.4" stroke-dasharray="12.5 2.6 3.5 2.7 40.3 150 3.5 11.9 12.6 2.7 18.8 5.8 6.5 11.9 3.4 2.7 9.6 2.7 3.5 2.6 6.6 5.7 9.6 5.8 9.6 11.8 6.6 8.8 25 8.8 6.5 5.7 15.8 2.7 12.6 2.7 3.5 2.6 3.5 18 6.6 2.6 3.5 2.7 40.3 999"/><path d="M69.4,38.0A465.6,465.6 0 0 0 547.8,-7.5" stroke-dasharray="6.2 2.7 6.4 2.6 15.6 2.6 9.5 150.8 3.4 2.6 15.5 2.7 15.5 5.6 21.6 2.6 12.5 8.7 24.6 8.6 6.5 26.8 30.7 5.6 3.4 8.7 30.6 2.7 9.4 5.7 3.4 5.7 3.4 11.7 30.6 999"/><path d="M61.7,26.4A458.6,458.6 0 0 0 534.0,-6.2" stroke-dasharray="3.2 5.5 3.4 5.6 9.3 2.6 9.3 2.6 3.4 2.6 3.3 154.5 3.4 2.6 3.3 2.6 21.3 2.6 9.3 2.6 6.3 2.6 12.3 8.5 6.4 5.6 27.2 5.5 6.4 5.5 12.4 5.5 80.8 8.6 3.3 5.6 3.4 23.4 15.3 999"/><path d="M67.6,21.5A451.5,451.5 0 0 0 522.7,-7.0" stroke-dasharray="3.1 31.9 6.3 166.7 6.3 2.5 6.3 2.5 12.2 2.5 9.2 2.5 3.4 2.5 6.3 8.4 29.7 2.5 9.2 5.5 9.2 11.3 20.9 11.4 64.9 2.5 6.3 20.1 12.1 999"/><path d="M268.2,62.8A444.5,444.5 0 0 0 509.1,-6.5" stroke-dasharray="6 2.5 6.1 2.5 6.2 5.4 3.3 14 9.1 8.2 3.3 5.4 3.3 2.5 23.5 2.4 6.2 2.5 3.3 2.5 3.3 2.4 3.3 8.3 14.8 8.3 14.8 5.4 46.6 16.9 12 999"/><path d="M265.4,55.7A437.5,437.5 0 0 0 495.7,-6.4" stroke-dasharray="5.9 2.4 17.5 2.4 3.3 2.4 6.1 2.4 14.6 25.2 17.5 5.2 6.1 13.8 3.3 2.4 6.1 2.4 6.1 16.7 14.6 5.3 60 999"/><path d="M268.3,48.7A430.5,430.5 0 0 0 482.4,-6.8" stroke-dasharray="17 2.4 33.9 16.4 6 2.4 25.6 7.9 6 2.4 3.2 2.4 8.8 19.2 17.2 10.7 42.4 999"/><path d="M271.1,41.7A423.5,423.5 0 0 0 464.4,-5.1" stroke-dasharray="14 2.3 19.7 2.3 16.9 10.6 5.9 5.1 25.2 5.1 5.9 2.3 5.9 27.1 11.4 10.6 8.7 5.1 16.9 999"/><path d="M276.5,34.6A416.4,416.4 0 0 0 441.7,-2.0" stroke-dasharray="8.3 7.7 30.2 5 3.1 2.3 32.9 2.3 3.1 2.3 5.8 59.1 8.5 999"/><path d="M292.4,27.1A409.4,409.4 0 0 0 358.2,18.2" stroke-dasharray="10.8 2.3 8.4 2.2 3.1 4.9 3.1 12.9 19 999"/><path d="M289.4,20.2A402.4,402.4 0 0 0 346.4,13.5" stroke-dasharray="57.7 999"/><path d="M299.3,12.6A395.4,395.4 0 0 0 342.6,7.1" stroke-dasharray="5.3 4.8 33.8 999"/></g><g stroke="#c5cce7"><path d="M480.8,472.8A879.9,879.9 0 0 0 486.4,471.4" stroke-dasharray="5.9 999"/><path d="M412.5,479.6A872.9,872.9 0 0 0 576.6,435.9" stroke-dasharray="5.9 50.6 17.4 56.3 6.1 10.9 11.7 5.3 6.1 999"/><path d="M405.8,473.6A865.9,865.9 0 0 0 595.1,421.1" stroke-dasharray="5.8 55.9 6 10.8 6.1 38.9 17.3 10.8 11.7 27.7 6 999"/><path d="M421.2,463.8A858.9,858.9 0 0 0 576.9,420.7" stroke-dasharray="5.8 5.2 5.9 100 6 5.2 6 10.7 6 5.2 6 999"/><path d="M403.6,459.7A851.8,851.8 0 0 0 569.2,416.1" stroke-dasharray="5.7 5.2 5.9 99.2 5.9 10.7 11.5 5.1 5.9 10.7 5.9 999"/><path d="M540.9,418.7A844.8,844.8 0 0 0 546.1,417.0" stroke-dasharray="5.7 999"/><path d="M412.2,444.0A837.8,837.8 0 0 0 564.3,403.0" stroke-dasharray="5.6 54.1 5.8 21.4 11.2 10.5 5.9 10.5 5.8 10.5 5.8 5.1 5.8 999"/><path d="M405.7,438.0A830.8,830.8 0 0 0 556.8,398.3" stroke-dasharray="5.6 5 11.2 26.6 5.8 37.3 5.8 21.2 11.2 10.4 16.6 999"/><path d="M430.9,426.3A823.8,823.8 0 0 0 574.4,384.0" stroke-dasharray="5.6 37 5.8 21 16.4 15.7 5.7 5 16.4 10.3 11.1 999"/><path d="M408.6,423.3A816.7,816.7 0 0 0 615.6,358.6" stroke-dasharray="5.5 100.4 5.7 42 5.7 47.4 11 999"/><path d="M417.8,414.5A809.7,809.7 0 0 0 612.7,352.3" stroke-dasharray="5.5 20.6 5.7 25.8 5.7 20.6 11 15.3 11 10.1 10.9 46.9 5.7 4.8 5.7 999"/><path d="M333.9,418.5A802.7,802.7 0 0 0 595.4,352.4" stroke-dasharray="5.4 10 5.7 114.2 5.7 109 5.7 4.8 10.8 999"/><path d="M328.2,411.8A795.7,795.7 0 0 0 606.7,339.5" stroke-dasharray="5.4 25.4 5.6 40.9 5.6 170.1 21.1 4.8 10.7 999"/><path d="M322.5,405.2A788.6,788.6 0 0 0 608.4,331.0" stroke-dasharray="5.3 4.7 5.6 4.7 5.5 50.8 5.6 148.1 5.5 15 5.5 4.7 5.6 9.8 10.6 4.8 5.5 999"/><path d="M337.3,397.0A781.6,781.6 0 0 0 605.4,324.6" stroke-dasharray="10.4 177.2 5.5 4.7 5.5 14.8 5.5 25 5.4 4.7 5.5 9.7 5.5 999"/><path d="M301.5,392.2A774.6,774.6 0 0 0 579.5,328.7" stroke-dasharray="10.3 4.6 30.6 4.6 5.4 29.8 5.5 135.4 5.4 34.8 10.5 4.6 5.5 999"/><path d="M321.2,384.2A767.6,767.6 0 0 0 585.8,318.2" stroke-dasharray="5.2 4.6 5.4 14.5 5.4 19.5 15.4 14.6 5.3 104.3 5.4 24.5 5.4 4.6 5.4 19.5 5.4 4.6 5.4 999"/><path d="M301.0,378.2A760.5,760.5 0 0 0 560.2,321.6" stroke-dasharray="5.1 14.5 15.2 39.1 5.3 4.6 5.3 4.6 5.3 98.4 5.3 4.6 5.3 14.4 5.4 4.5 5.3 19.4 5.3 999"/><path d="M295.8,371.4A753.5,753.5 0 0 0 566.6,311.3" stroke-dasharray="10 29 15 4.5 5.3 29 10.2 102.4 5.2 14.3 10.2 9.4 5.3 14.3 5.3 4.5 5.3 999"/><path d="M271.3,364.8A746.5,746.5 0 0 0 563.8,304.9" stroke-dasharray="5 4.5 5.2 14.2 5.2 14.2 5.2 14.2 29.5 9.3 14.9 4.5 5.2 86.9 5.2 4.5 5.2 4.5 10.1 19 5.2 4.5 10.1 9.3 5.2 999"/><path d="M161.3,349.6A739.5,739.5 0 0 0 543.3,305.7" stroke-dasharray="5 114.9 5.2 4.4 5.2 9.2 5.2 18.8 10 9.2 5.2 4.4 19.6 23.6 5.2 100.5 5.2 9.2 5.2 18.8 5.2 999"/><path d="M162.3,342.6A732.5,732.5 0 0 0 514.0,309.2" stroke-dasharray="5 109 5.1 28.2 5.1 13.9 5.2 9.1 5.1 32.9 5.2 13.9 5.1 23.4 9.9 9.1 5.2 23.4 5.1 32.9 5.2 999"/><path d="M158.7,335.0A725.4,725.4 0 0 0 542.5,290.9" stroke-dasharray="4.9 122.1 9.8 23.2 5.1 4.3 5.1 9.1 5.1 9 9.8 4.3 5.1 4.3 5.2 13.7 5.1 4.3 5.1 23.2 5.1 4.3 5.1 13.8 5.1 37.3 5.1 27.8 9.9 999"/><path d="M290.0,336.4A718.4,718.4 0 0 0 565.6,273.4" stroke-dasharray="4.9 8.9 14.4 22.9 5.1 4.3 9.7 4.3 9.7 125.6 5 9 5 51 5 999"/><path d="M299.0,329.1A711.4,711.4 0 0 0 511.4,287.7" stroke-dasharray="14.1 18 5.1 22.7 5 4.2 14.3 41.2 5 36.5 5.1 22.7 5 13.4 5.1 999"/><path d="M266.7,322.6A704.4,704.4 0 0 0 538.9,269.6" stroke-dasharray="4.8 77.3 5 8.8 4.9 59.1 5 4.2 4.9 22.5 9.6 13.3 5 4.1 5 36.2 9.6 999"/><path d="M257.7,315.5A697.3,697.3 0 0 0 536.2,263.1" stroke-dasharray="13.8 22.2 14 44.9 4.9 108.3 5 63 9.4 999"/><path d="M266.8,308.6A690.3,690.3 0 0 0 537.7,254.9" stroke-dasharray="4.7 31 4.9 120.6 4.9 48.9 9.4 13 4.9 13.1 13.8 4.1 4.9 999"/><path d="M258.0,301.4A683.3,683.3 0 0 0 543.1,245.0" stroke-dasharray="4.6 4.1 4.8 115 4.8 17.4 4.8 8.5 4.8 61.8 4.8 21.8 13.7 17.4 4.8 999"/><path d="M258.1,294.4A676.3,676.3 0 0 0 532.2,242.0" stroke-dasharray="4.6 162.1 9.2 65.5 4.8 8.4 4.8 17.1 4.8 999"/><path d="M430.5,268.2A669.3,669.3 0 0 0 533.5,233.8" stroke-dasharray="4.5 47.5 9.1 16.9 9.1 17 4.8 999"/><path d="M340.0,276.9A662.2,662.2 0 0 0 534.7,225.6" stroke-dasharray="4.5 64.1 9 16.8 4.7 94.3 9 999"/><path d="M309.5,272.3A655.2,655.2 0 0 0 611.2,178.1" stroke-dasharray="4.5 114.5 4.6 67.7 8.9 20.9 13.2 50.6 8.9 12.4 13.2 999"/><path d="M304.9,265.5A648.2,648.2 0 0 0 614.7,167.7" stroke-dasharray="8.6 104.9 8.8 8 4.6 54.3 4.7 16.4 4.6 16.4 4.7 71.1 4.6 8.1 8.8 999"/><path d="M304.6,258.5A641.2,641.2 0 0 0 600.3,168.3" stroke-dasharray="4.4 3.7 4.6 3.8 4.5 87.1 4.5 78.8 4.5 8 4.5 62.1 4.5 3.8 8.7 3.8 4.6 3.7 12.9 999"/><path d="M337.0,248.9A634.1,634.1 0 0 0 610.8,153.6" stroke-dasharray="8.4 143.8 4.5 12 8.6 7.8 8.7 32.5 4.5 3.8 4.5 11.9 8.7 3.7 8.6 3.8 4.5 7.8 4.5 999"/><path d="M279.4,245.3A627.1,627.1 0 0 0 600.1,152.0" stroke-dasharray="4.3 48.5 8.5 60.7 4.5 3.6 4.5 72.9 8.6 3.6 4.5 28.1 4.5 24 8.6 11.8 12.6 11.8 4.5 3.7 4.5 999"/><path d="M347.6,233.6A620.1,620.1 0 0 0 596.4,146.0" stroke-dasharray="4.2 140.6 4.4 11.7 4.4 11.7 4.4 19.8 4.4 7.7 8.4 15.7 16.5 7.7 4.4 999"/><path d="M370.3,223.2A613.1,613.1 0 0 0 609.5,129.3" stroke-dasharray="4.2 67.3 4.4 75.2 4.4 19.5 8.4 19.5 4.4 11.5 8.4 3.5 4.4 19.5 4.4 999"/><path d="M380.8,214.2A606.0,606.0 0 0 0 605.6,123.5" stroke-dasharray="8.1 35 4.3 7.5 4.3 54.8 4.3 11.4 4.3 3.6 4.3 11.4 8.3 23.2 4.3 3.6 8.3 15.3 4.3 3.6 4.3 7.5 8.2 999"/><path d="M341.1,213.1A599.0,599.0 0 0 0 585.3,128.1" stroke-dasharray="4.1 15.2 4.2 23 4.3 100.7 4.3 11.3 4.3 22.9 4.3 15.2 12.1 22.9 12.1 999"/><path d="M351.7,204.7A592.0,592.0 0 0 0 597.8,111.7" stroke-dasharray="4 7.3 8.1 11.2 4.2 15 4.2 26.5 4.3 22.7 4.2 34.2 4.3 3.4 8.1 26.5 4.3 7.2 4.3 3.4 12 7.3 4.2 11.1 4.3 15 4.2 999"/><path d="M339.5,199.2A585.0,585.0 0 0 0 594.0,105.9" stroke-dasharray="11.6 52.8 4.2 7.2 4.2 3.4 4.2 30 4.2 18.6 4.2 7.2 4.2 11 8 7.2 8 7.2 4.2 3.4 4.2 7.2 4.2 3.4 8 7.2 4.2 3.4 27 999"/><path d="M346.1,191.3A578.0,578.0 0 0 0 590.1,100.0" stroke-dasharray="4 10.8 4.2 37.1 4.2 3.3 4.2 29.6 4.2 33.3 4.2 25.9 11.6 3.4 4.1 3.4 4.1 3.4 4.2 3.3 22.9 33.4 4.2 999"/><path d="M330.4,186.1A570.9,570.9 0 0 0 583.1,96.2" stroke-dasharray="3.9 3.3 4.1 3.3 4.1 59 7.8 18.1 7.8 10.8 11.5 7 4.1 3.3 4.1 29.3 4.1 10.7 15.3 3.3 15.2 14.4 7.9 10.7 7.8 999"/><path d="M329.7,179.1A563.9,563.9 0 0 0 579.3,90.3" stroke-dasharray="3.9 14.2 7.7 3.3 4.1 50.8 4.1 28.9 4.1 3.2 7.8 39.8 11.4 3.3 15 3.3 4.1 3.2 18.7 3.3 7.7 10.6 4.1 6.9 4.1 999"/><path d="M336.2,171.3A556.9,556.9 0 0 0 575.4,84.5" stroke-dasharray="7.4 17.7 4 17.7 11.3 17.7 4 90 4 3.2 22.1 3.3 7.6 3.2 4 6.9 32.9 999"/><path d="M363.6,160.2A549.9,549.9 0 0 0 574.6,76.6" stroke-dasharray="10.9 13.9 7.5 128.2 7.6 3.1 14.7 13.9 7.5 3.2 18.3 999"/><path d="M369.4,152.1A542.8,542.8 0 0 0 564.8,74.6" stroke-dasharray="3.7 24.3 3.9 123 4 3.1 35.6 3.2 3.9 3.1 3.9 999"/><path d="M378.3,143.2A535.8,535.8 0 0 0 563.9,66.8" stroke-dasharray="3.7 3.1 3.8 3.1 3.9 124.9 7.3 3.1 24.8 3.1 21.2 999"/><path d="M403.7,130.1A528.8,528.8 0 0 0 551.4,66.5" stroke-dasharray="3.6 3.1 3.8 3 3.9 102.6 7.3 3 7.3 6.5 3.8 9.9 3.8 999"/><path d="M382.2,128.0A521.8,521.8 0 0 0 536.1,67.6" stroke-dasharray="3.6 26.7 3.8 111.4 10.6 6.4 3.8 999"/><path d="M403.4,115.6A514.8,514.8 0 0 0 406.6,114.8" stroke-dasharray="3.5 999"/><path d="M407.9,107.1A507.7,507.7 0 0 0 411.1,106.2" stroke-dasharray="3.5 999"/></g><g stroke="#5468b3"><path d="M489.8,485.0A894.0,894.0 0 0 0 495.4,483.6" stroke-dasharray="6 999"/><path d="M504.8,473.8A887.0,887.0 0 0 0 510.4,472.3" stroke-dasharray="6 999"/><path d="M475.3,474.1A879.9,879.9 0 0 0 480.8,472.8" stroke-dasharray="5.9 999"/><path d="M429.3,476.7A872.9,872.9 0 0 0 571.3,437.8" stroke-dasharray="5.9 10.9 17.4 45 6 33.7 11.7 10.9 6.1 999"/><path d="M422.5,470.8A865.9,865.9 0 0 0 553.0,436.9" stroke-dasharray="17.1 22.1 6 10.8 6.1 22.1 11.6 27.7 11.7 999"/><path d="M404.7,466.6A858.9,858.9 0 0 0 571.7,422.7" stroke-dasharray="16.9 21.9 6 16.4 11.5 10.8 6 5.1 17.2 38.6 11.6 5.1 6 999"/><path d="M392.7,461.3A851.8,851.8 0 0 0 558.8,419.9" stroke-dasharray="11.3 16.2 5.9 16.2 11.5 38.3 5.9 5.2 5.9 38.3 5.9 5.2 5.9 999"/><path d="M413.4,451.0A844.8,844.8 0 0 0 566.8,409.5" stroke-dasharray="5.7 16 5.9 98.4 5.9 5.1 5.9 10.5 5.9 999"/><path d="M433.6,440.1A837.8,837.8 0 0 0 569.4,401.0" stroke-dasharray="5.6 10.5 5.9 10.4 5.9 10.5 5.8 43.1 5.9 32.2 5.9 999"/><path d="M432.2,433.2A830.8,830.8 0 0 0 571.9,392.5" stroke-dasharray="5.6 5 11.2 5 5.8 10.4 22 37.3 5.8 26.6 11.2 999"/><path d="M420.3,428.3A823.8,823.8 0 0 0 564.4,387.9" stroke-dasharray="10.9 5 5.7 37.1 5.7 5 11.1 26.3 5.8 31.7 5.7 999"/><path d="M392.9,425.8A816.7,816.7 0 0 0 556.9,383.2" stroke-dasharray="5.5 4.9 5.7 20.8 5.7 10.2 5.8 4.9 5.7 4.9 5.7 26.1 5.7 52.6 5.7 999"/><path d="M402.3,417.2A809.7,809.7 0 0 0 474.3,402.0" stroke-dasharray="5.5 15.3 16.2 25.9 10.9 999"/><path d="M365.0,415.4A802.7,802.7 0 0 0 585.9,356.5" stroke-dasharray="5.4 4.8 5.6 4.9 5.6 25.6 5.6 10.1 5.6 4.8 5.6 4.8 10.9 10 5.6 109.1 5.6 999"/><path d="M364.2,408.4A795.7,795.7 0 0 0 573.6,354.1" stroke-dasharray="10.5 25.5 5.5 15.1 5.6 144.3 10.7 999"/><path d="M317.4,405.5A788.6,788.6 0 0 0 585.1,341.6" stroke-dasharray="5.3 4.7 5.6 4.7 5.5 15 5.5 30.3 5.6 148.1 5.5 4.7 15.8 15 5.5 999"/><path d="M317.0,398.5A781.6,781.6 0 0 0 610.0,322.5" stroke-dasharray="20.5 9.8 25.7 14.9 10.5 146.8 10.6 9.8 10.5 40.2 5.5 999"/><path d="M361.7,387.5A774.6,774.6 0 0 0 560.9,336.5" stroke-dasharray="5.2 24.8 5.4 4.6 5.5 125.4 20.5 9.6 5.5 999"/><path d="M301.2,385.2A767.6,767.6 0 0 0 562.9,328.1" stroke-dasharray="5.2 9.6 5.3 4.6 5.4 4.6 10.4 19.5 10.4 134.2 5.4 24.5 5.4 4.6 5.4 4.5 10.4 999"/><path d="M315.8,377.5A760.5,760.5 0 0 0 578.4,313.8" stroke-dasharray="5.1 14.5 15.2 9.5 5.3 4.5 5.4 39.1 5.3 73.7 5.4 4.5 5.4 24.2 5.4 4.5 5.4 4.5 5.3 24.3 5.4 999"/><path d="M320.2,370.2A753.5,753.5 0 0 0 548.5,318.8" stroke-dasharray="5.1 4.5 5.3 33.8 10.2 4.5 5.3 19.2 5.3 77.9 10.2 28.9 10.2 4.5 10.2 999"/><path d="M276.2,364.7A746.5,746.5 0 0 0 577.2,299.0" stroke-dasharray="5 33.6 5.2 4.5 14.9 62.7 14.9 77.2 5.2 43.3 5.2 23.9 5.2 4.5 5.2 999"/><path d="M285.7,357.6A739.5,739.5 0 0 0 574.3,292.6" stroke-dasharray="5 4.4 5.2 9.2 19.6 9.2 5.2 38.1 5.2 4.4 5.2 76.4 5.2 14 5.2 4.4 5.2 4.4 5.2 14 5.3 4.4 5.2 4.4 5.2 14 5.2 4.4 5.2 999"/><path d="M285.6,350.6A732.5,732.5 0 0 0 545.1,297.4" stroke-dasharray="5 23.3 5.2 4.4 5.1 9.1 5.2 4.3 10 32.9 5.1 13.9 5.1 4.4 5.2 13.8 9.9 4.4 5.2 4.3 14.7 13.9 5.1 9.1 5.2 9.1 5.2 13.8 14.7 999"/><path d="M299.6,343.1A725.4,725.4 0 0 0 568.5,279.8" stroke-dasharray="4.9 4.3 5.1 9.1 5.1 4.3 9.8 9 5.1 27.9 9.8 9.1 5.1 13.7 5.1 4.3 5.1 4.4 5.1 4.3 14.5 4.3 9.8 9.1 5.1 18.4 9.8 13.8 5.1 18.4 5.2 9 5.1 999"/><path d="M164.4,328.7A718.4,718.4 0 0 0 569.9,271.5" stroke-dasharray="4.9 125.6 5 22.9 14.4 9 5 41.6 14.4 9 5 18.3 9.7 18.3 14.4 13.6 5.1 4.2 9.8 8.9 5.1 8.9 5.1 32.2 5.1 999"/><path d="M326.7,327.4A711.4,711.4 0 0 0 554.3,270.7" stroke-dasharray="4.8 4.2 18.9 27.3 23.5 13.5 5 4.3 5 4.2 5 13.5 9.6 4.2 5.1 22.7 14.2 4.2 9.7 13.4 9.7 8.8 5 999"/><path d="M289.6,322.4A704.4,704.4 0 0 0 555.7,262.4" stroke-dasharray="9.3 4.2 9.6 17.9 14.1 40.8 4.9 4.2 5 4.2 4.9 4.2 5 4.2 4.9 17.9 9.6 27 5 4.2 5 8.7 14.1 4.2 14.1 13.4 4.9 4.2 5 999"/><path d="M280.4,315.5A697.3,697.3 0 0 0 544.5,259.6" stroke-dasharray="4.7 4.2 4.9 26.8 4.9 13.2 4.9 13.2 9.5 26.7 9.5 22.2 9.5 8.7 4.9 8.6 5 8.6 5 8.6 4.9 4.2 14 8.6 4.9 4.2 9.4 13.2 5 999"/><path d="M257.8,308.4A690.3,690.3 0 0 0 558.2,245.9" stroke-dasharray="9.2 4.1 4.8 13.1 9.4 30.9 4.9 17.6 13.8 22 4.9 13.1 13.8 4.1 4.9 4.1 13.8 4.1 4.9 4.1 9.3 8.6 4.9 8.5 13.9 8.6 9.3 22.1 4.8 4.1 4.9 4.1 4.9 999"/><path d="M249.1,301.2A683.3,683.3 0 0 0 563.3,235.8" stroke-dasharray="4.6 8.5 4.9 4 4.8 52.9 4.8 4.1 4.8 39.5 4.9 4 4.9 4 4.8 8.5 9.3 4 9.3 12.9 4.8 8.5 13.7 4.1 9.3 8.4 4.9 8.4 4.9 21.8 9.2 21.8 4.9 999"/><path d="M205.5,291.4A676.3,676.3 0 0 0 552.3,233.2" stroke-dasharray="4.6 43.5 4.8 113.8 4.8 4 13.6 4 4.8 4 4.7 4 4.8 12.8 4.8 8.4 9.2 4 26.7 8.4 4.8 4 4.8 8.4 4.8 3.9 4.8 26 4.8 999"/><path d="M262.6,287.5A669.3,669.3 0 0 0 537.5,232.1" stroke-dasharray="4.5 43.1 4.8 25.6 4.8 25.7 4.7 17 17.8 3.9 17.8 12.7 9.1 3.9 26.5 8.3 13.4 21.4 9 4 4.7 999"/><path d="M249.8,280.1A662.2,662.2 0 0 0 611.2,186.3" stroke-dasharray="4.5 3.9 9 38.3 4.7 77 4.7 8.2 9 8.2 9 3.9 4.8 8.2 9 3.9 4.7 12.5 21.9 3.9 4.7 3.9 9 8.2 9 8.2 4.7 3.9 4.7 12.5 4.7 46.9 9 999"/><path d="M178.0,266.8A655.2,655.2 0 0 0 600.2,184.6" stroke-dasharray="8.7 59.2 4.6 89 4.7 50.6 13.2 3.9 8.9 3.8 4.7 3.8 4.7 3.8 9 16.6 25.9 16.6 8.9 25.2 4.6 8.1 4.7 16.6 17.4 12.4 8.9 999"/><path d="M84.5,239.1A648.2,648.2 0 0 0 607.6,172.1" stroke-dasharray="4.4 96.4 4.6 54.4 4.6 29.1 4.6 75.3 4.7 12.2 8.8 29.1 8.8 8 8.8 3.8 13.1 3.8 8.8 3.8 25.7 16.4 4.6 12.3 8.8 3.8 8.8 16.4 4.7 3.8 21.4 20.7 8.8 999"/><path d="M233.8,258.3A641.2,641.2 0 0 0 614.5,159.5" stroke-dasharray="4.4 7.9 4.6 82.8 12.9 8 4.5 66.3 21.2 7.9 8.7 8 8.7 3.8 8.7 41.2 8.8 7.9 17 3.8 4.6 24.6 4.5 12.1 17.1 999"/><path d="M234.2,251.3A634.1,634.1 0 0 0 607.3,155.8" stroke-dasharray="4.3 3.7 4.6 32.5 8.6 3.8 4.5 7.8 8.7 16 4.5 12 12.8 20.2 4.5 3.7 4.5 12 45.7 3.7 4.5 3.7 8.7 16 4.6 24.3 8.6 7.8 21 3.8 4.5 36.6 4.6 16 8.7 999"/><path d="M287.5,245.1A627.1,627.1 0 0 0 610.4,145.5" stroke-dasharray="4.3 11.8 4.5 3.6 4.5 3.7 8.5 11.9 24.8 3.7 4.4 7.8 4.5 3.6 4.5 11.8 4.5 3.7 12.6 15.9 4.5 3.6 24.9 3.6 4.5 20 8.5 3.7 4.5 3.6 8.6 3.7 20.7 11.8 8.6 15.9 12.6 11.8 12.6 999"/><path d="M331.6,235.4A620.1,620.1 0 0 0 610.0,137.4" stroke-dasharray="8.3 3.6 4.4 3.6 4.5 3.6 12.5 11.7 40.6 7.7 4.4 3.6 4.5 15.7 4.4 11.7 4.4 3.6 8.5 3.6 12.5 3.6 12.5 3.6 16.6 35.8 4.4 19.8 4.4 3.6 16.5 999"/><path d="M319.0,229.4A613.1,613.1 0 0 0 606.2,131.5" stroke-dasharray="8.2 15.5 12.3 11.6 4.4 3.5 12.4 7.6 16.3 3.6 8.3 3.6 16.3 3.6 4.4 3.6 56.1 3.6 8.4 3.6 4.3 7.6 8.4 11.5 8.4 15.5 8.4 15.5 4.4 3.6 12.3 999"/><path d="M318.4,222.4A606.0,606.0 0 0 0 599.0,127.8" stroke-dasharray="4.1 11.4 12.3 3.5 8.3 7.4 16.2 11.4 8.3 27.1 8.3 3.5 20.1 7.5 12.2 11.4 4.3 3.6 12.2 11.4 12.2 7.5 12.2 3.5 4.3 19.3 8.3 19.3 8.3 999"/><path d="M317.9,215.4A599.0,599.0 0 0 0 601.7,117.6" stroke-dasharray="4.1 3.5 4.3 7.4 4.2 11.3 4.3 26.8 4.3 34.6 4.3 7.4 31.5 3.5 4.3 7.4 12.1 3.5 12 3.5 4.3 3.5 8.2 3.5 4.3 3.5 4.3 26.8 16 15.1 19.9 999"/><path d="M355.5,204.2A592.0,592.0 0 0 0 594.6,113.9" stroke-dasharray="4 53.5 4.2 3.5 11.9 3.4 8.1 7.3 4.3 7.3 4.2 7.3 4.2 3.5 15.8 3.4 4.3 7.2 12 18.8 8.1 3.4 4.3 11.1 8.1 11.1 4.3 3.4 15.8 999"/><path d="M354.5,197.2A585.0,585.0 0 0 0 564.9,123.9" stroke-dasharray="7.8 30 4.2 11 4.2 14.8 4.2 3.4 23.2 3.4 15.6 7.2 8 3.4 11.8 11 4.2 18.6 4.2 3.4 8 14.8 8 999"/><path d="M271.2,196.2A578.0,578.0 0 0 0 586.9,102.1" stroke-dasharray="4 52.1 4.2 18.3 11.7 3.3 4.2 18.4 4.1 14.6 4.2 14.6 4.2 18.3 23 3.3 7.9 3.4 22.9 29.6 4.2 3.3 4.2 33.4 22.9 999"/><path d="M341.5,184.8A570.9,570.9 0 0 0 573.7,102.2" stroke-dasharray="3.9 3.3 7.8 3.3 7.9 10.7 4.1 7 4.1 21.9 4.1 21.8 11.5 10.8 4.1 7 4.1 3.3 15.2 44.1 4.2 25.5 4.1 7 7.9 999"/><path d="M333.3,178.7A563.9,563.9 0 0 0 566.9,98.2" stroke-dasharray="11.2 10.6 4 3.3 4.1 36.2 4.1 32.5 7.7 3.3 4.1 6.9 7.7 28.9 4.1 28.9 4 3.3 4.1 28.9 11.4 999"/><path d="M274.8,175.1A556.9,556.9 0 0 0 528.6,111.9" stroke-dasharray="3.8 53.9 4 10.4 4.1 28.5 4 17.7 4 10.5 7.6 6.8 7.7 97.2 4 999"/><path d="M274.8,168.1A549.9,549.9 0 0 0 559.5,86.2" stroke-dasharray="3.8 103.1 4 10.3 4 3.2 3.9 3.2 14.7 6.7 4 85.3 4 6.7 4 24.6 4 6.7 4 999"/><path d="M372.8,151.4A542.8,542.8 0 0 0 555.8,80.3" stroke-dasharray="3.7 13.7 7.5 3.1 11 3.1 7.5 144.1 3.9 999"/><path d="M257.3,153.9A535.8,535.8 0 0 0 546.2,77.9" stroke-dasharray="3.7 114.4 3.9 34.4 7.4 135.3 3.9 999"/><path d="M383.6,134.9A528.8,528.8 0 0 0 548.5,68.3" stroke-dasharray="3.6 20.2 3.9 130.1 7.3 3 10.7 999"/><path d="M365.5,131.4A521.8,521.8 0 0 0 541.9,64.1" stroke-dasharray="3.6 9.8 3.7 155.5 7.2 3 7.2 999"/><path d="M409.8,113.9A514.8,514.8 0 0 0 416.3,112.0" stroke-dasharray="6.9 999"/><path d="M89.2,69.7A486.7,486.7 0 0 0 92.1,70.9" stroke-dasharray="3.4 999"/></g><g stroke="#011a82"><path d="M441.8,481.4A879.9,879.9 0 0 0 508.5,465.5" stroke-dasharray="5.9 22.5 6.1 28.2 6.1 999"/><path d="M462.6,469.8A872.9,872.9 0 0 0 539.1,448.9" stroke-dasharray="5.9 22.2 17.5 27.9 6.1 999"/><path d="M444.6,466.5A865.9,865.9 0 0 0 568.9,431.2" stroke-dasharray="5.8 39 17.3 61.4 6.1 999"/><path d="M437.7,460.8A858.9,858.9 0 0 0 481.2,451.0" stroke-dasharray="5.8 33 6 999"/><path d="M430.9,454.9A851.8,851.8 0 0 0 500.9,438.4" stroke-dasharray="11.3 54.9 5.9 999"/><path d="M424.2,449.0A844.8,844.8 0 0 0 556.5,413.3" stroke-dasharray="11.2 5.1 11.3 32.6 16.8 54.5 5.9 999"/><path d="M417.5,443.1A837.8,837.8 0 0 0 559.2,404.9" stroke-dasharray="16.5 5.1 11.2 26.9 5.8 5 11.3 48.6 5.8 5.1 5.8 999"/><path d="M426.9,434.2A830.8,830.8 0 0 0 541.5,403.7" stroke-dasharray="5.6 5 5.8 21.2 11.2 64.3 5.8 999"/><path d="M388.7,433.5A823.8,823.8 0 0 0 539.2,397.0" stroke-dasharray="5.6 47.7 5.8 4.9 21.8 10.3 5.8 47.7 5.8 999"/><path d="M398.2,425.0A816.7,816.7 0 0 0 566.8,379.5" stroke-dasharray="5.5 20.8 5.7 20.8 5.8 4.9 5.7 4.9 26.9 31.4 16.3 20.8 5.8 999"/><path d="M391.9,418.9A809.7,809.7 0 0 0 539.6,382.0" stroke-dasharray="10.7 46.9 16.2 15.4 21.4 36.5 5.6 999"/><path d="M359.8,416.0A802.7,802.7 0 0 0 487.6,391.1" stroke-dasharray="5.4 4.8 5.6 4.9 5.6 4.8 16 15.3 10.8 15.2 5.6 10.1 5.6 10 10.8 999"/><path d="M374.4,407.1A795.7,795.7 0 0 0 564.0,357.9" stroke-dasharray="15.7 4.8 5.5 165 5.6 999"/><path d="M348.1,403.1A788.6,788.6 0 0 0 393.8,397.2" stroke-dasharray="10.4 4.8 31.1 999"/><path d="M372.6,393.2A781.6,781.6 0 0 0 539.9,352.1" stroke-dasharray="15.4 9.8 5.5 136.6 5.5 999"/><path d="M346.7,389.1A774.6,774.6 0 0 0 551.6,340.2" stroke-dasharray="5.2 4.7 5.4 4.6 20.5 165.7 5.4 999"/><path d="M346.0,382.1A767.6,767.6 0 0 0 535.0,338.9" stroke-dasharray="5.2 4.6 10.3 169.1 5.4 999"/><path d="M364.9,373.0A760.5,760.5 0 0 0 546.5,327.1" stroke-dasharray="5.1 9.5 5.4 24.3 5.3 133 5.3 999"/><path d="M325.1,369.8A753.5,753.5 0 0 0 422.0,356.5" stroke-dasharray="5.1 48.5 5.3 29 10.2 999"/><path d="M392.0,354.9A746.5,746.5 0 0 0 572.7,301.0" stroke-dasharray="5 19 5.3 111.1 5.3 38.3 5.3 999"/><path d="M300.1,357.1A739.5,739.5 0 0 0 569.9,294.6" stroke-dasharray="5 81.3 5.2 14 14.8 47.6 5.2 23.6 5.2 33.2 5.2 33.3 5.2 999"/><path d="M290.3,350.4A732.5,732.5 0 0 0 571.4,286.2" stroke-dasharray="19.2 9.1 5.2 61.4 5.2 13.9 5.1 4.4 5.1 37.7 5.2 18.6 9.9 4.4 9.9 18.6 14.7 28.1 14.7 999"/><path d="M294.9,343.3A725.4,725.4 0 0 0 564.2,281.7" stroke-dasharray="4.9 4.3 5.1 37.3 5.1 60.9 9.8 56.2 9.8 4.3 14.5 13.8 14.5 27.9 9.8 999"/><path d="M285.3,336.5A718.4,718.4 0 0 0 561.4,275.3" stroke-dasharray="4.9 8.9 5.1 13.6 5 13.6 5.1 36.9 14.4 13.6 9.8 4.2 5.1 22.9 19.1 13.6 14.4 32.2 9.8 4.2 5.1 18.3 5 999"/><path d="M285.2,329.5A711.4,711.4 0 0 0 567.0,265.1" stroke-dasharray="14.1 13.4 14.3 78.1 14.3 22.7 14.3 18 18.9 32 14.2 13.5 5 4.2 14.3 999"/><path d="M271.3,322.6A704.4,704.4 0 0 0 517.6,278.0" stroke-dasharray="18.5 22.5 18.7 36.2 18.7 4.1 5 4.2 5 4.1 5 4.2 5 17.9 4.9 8.8 9.5 8.8 9.5 36.2 5 999"/><path d="M271.3,315.6A697.3,697.3 0 0 0 557.0,254.2" stroke-dasharray="9.3 4.1 4.9 17.7 14 8.7 9.4 8.7 4.9 13.2 27.6 8.6 23.1 8.7 9.4 4.1 9.5 17.7 9.5 4.1 4.9 26.8 4.9 26.8 14 999"/><path d="M253.4,308.3A690.3,690.3 0 0 0 554.1,247.8" stroke-dasharray="4.7 17.5 13.9 8.5 4.9 4.1 22.8 4.1 9.4 4.1 4.8 13.1 22.8 4.1 13.8 13.1 4.9 22 4.9 4.1 4.8 8.6 9.4 71.3 4.9 4.1 4.9 999"/><path d="M253.5,301.3A683.3,683.3 0 0 0 567.3,233.9" stroke-dasharray="4.6 17.4 13.7 4 35.9 4.1 4.8 4.1 4.8 4 31.5 12.9 4.9 4 4.8 26.3 13.7 4 9.3 12.9 4.8 70.6 18.2 4 4.9 999"/><path d="M249.3,294.2A676.3,676.3 0 0 0 568.2,225.6" stroke-dasharray="4.6 8.4 110.2 4 4.8 12.7 4.8 4 4.8 4 4.8 21.6 9.2 8.3 4.8 78.7 18 4 17.9 999"/><path d="M271.3,287.5A669.3,669.3 0 0 0 569.0,217.4" stroke-dasharray="39.3 4 26.4 4 26.5 3.9 17.8 43.1 9.1 8.3 4.7 47.4 4.8 34.3 35.2 999"/><path d="M271.3,280.5A662.2,662.2 0 0 0 569.7,209.2" stroke-dasharray="34.6 3.9 30.5 3.9 43.4 3.9 9 51.2 4.8 3.9 13.3 21.1 4.7 46.9 4.7 3.9 13.3 3.9 9 999"/><path d="M267.0,273.4A655.2,655.2 0 0 0 614.8,175.9" stroke-dasharray="4.5 8.1 30.2 3.8 25.9 3.9 51.5 12.3 4.7 8.1 4.7 25.1 17.4 25.1 9 46.4 8.9 3.8 17.5 25.1 4.6 20.9 4.7 999"/><path d="M250.2,266.1A648.2,648.2 0 0 0 596.7,178.6" stroke-dasharray="4.4 12.2 8.9 3.8 25.6 8 42.5 3.9 13 8 29.9 41.7 4.6 8 4.6 79.6 17.2 3.9 4.6 24.8 13.1 999"/><path d="M242.1,258.8A641.2,641.2 0 0 0 571.3,184.6" stroke-dasharray="4.4 20.4 37.9 3.7 4.6 12.1 8.7 12.1 8.7 3.8 54.5 8 4.5 20.5 8.7 7.9 8.7 8 4.5 57.9 8.8 16.2 4.6 7.9 4.6 999"/><path d="M238.3,251.6A634.1,634.1 0 0 0 560.7,182.2" stroke-dasharray="4.3 24.3 12.8 7.8 4.5 3.8 8.6 7.8 4.6 7.8 4.5 3.7 4.5 20.2 21 3.8 4.5 3.7 12.7 45 4.5 3.7 4.5 7.8 16.9 65.5 4.5 3.8 4.5 3.7 4.5 999"/><path d="M238.7,244.5A627.1,627.1 0 0 0 550.3,179.7" stroke-dasharray="4.3 3.6 4.5 20 8.5 3.7 4.5 3.7 12.6 3.6 4.5 15.9 4.5 32.2 4.4 3.7 8.6 3.6 4.5 3.7 8.5 24.1 16.7 3.6 4.5 24 4.5 3.7 4.5 68.8 4.5 999"/><path d="M283.3,238.2A620.1,620.1 0 0 0 561.5,166.0" stroke-dasharray="12.3 3.6 32.6 7.7 4.4 11.7 4.4 11.7 12.5 39.9 8.4 3.6 4.5 3.6 16.5 3.6 12.5 3.6 4.5 60 4.4 3.6 8.5 7.7 4.4 999"/><path d="M326.9,228.8A613.1,613.1 0 0 0 558.2,159.8" stroke-dasharray="16.1 11.6 12.3 19.5 8.4 27.5 4.3 23.5 4.4 75.3 8.3 15.6 4.3 7.6 4.4 999"/><path d="M322.3,222.1A606.0,606.0 0 0 0 547.9,157.3" stroke-dasharray="12 23.2 8.3 23.2 4.4 27.1 4.3 35.1 8.2 11.5 12.2 62.5 4.4 999"/><path d="M321.7,215.1A599.0,599.0 0 0 0 523.7,161.3" stroke-dasharray="4.1 3.5 8.2 19 4.3 104.7 4.2 3.5 8.2 46.3 4.3 999"/><path d="M317.3,208.4A592.0,592.0 0 0 0 478.2,172.7" stroke-dasharray="4 122.7 8.1 3.4 4.3 7.3 8 3.5 4.2 999"/><path d="M294.0,202.8A585.0,585.0 0 0 0 475.7,166.2" stroke-dasharray="4 37.6 4.2 136.4 4.2 999"/><path d="M297.5,195.6A578.0,578.0 0 0 0 469.8,160.9" stroke-dasharray="4 119.7 4.1 44.7 4.1 999"/><path d="M334.1,185.7A570.9,570.9 0 0 0 467.4,154.3" stroke-dasharray="3.9 18.1 4.2 25.5 4.1 7 7.9 14.4 4.1 44.1 4.1 999"/><path d="M387.6,170.0A563.9,563.9 0 0 0 394.7,168.4" stroke-dasharray="7.5 999"/><path d="M354.1,168.9A556.9,556.9 0 0 0 400.2,159.9" stroke-dasharray="7.4 32.2 7.6 999"/><path d="M377.7,157.6A549.9,549.9 0 0 0 388.1,155.5" stroke-dasharray="3.8 3.1 4 999"/><path d="M376.3,150.8A542.8,542.8 0 0 0 414.0,141.9" stroke-dasharray="7.3 27.8 3.9 999"/><path d="M371.5,144.5A535.8,535.8 0 0 0 412.2,135.1" stroke-dasharray="3.7 34.4 3.9 999"/><path d="M370.2,137.6A528.8,528.8 0 0 0 416.9,126.5" stroke-dasharray="7.1 3 3.8 30.5 3.9 999"/><path d="M391.8,96.9A493.7,493.7 0 0 0 394.9,96.1" stroke-dasharray="3.4 999"/></g></g></g><use href="#grayp" fill="#b4b4b4"/><use href="#seas" fill="#fff"/><use href="#borders" fill="none" stroke="#1a1a1a" stroke-width="1.05" stroke-linejoin="round"/><use href="#coast" fill="none" stroke="#000" stroke-width="1.25" stroke-linejoin="round"/><use href="#seas" fill="none" stroke="#000" stroke-width="1.25" stroke-linejoin="round"/></g><rect x="0.5" y="0.5" width="615" height="517" fill="none" stroke="#2a2a2a" stroke-width="1"/><rect x="38" y="88.3" width="155" height="76.4" fill="#fff"/><text class="lbl" x="40" y="105.3" textLength="151" lengthAdjust="spacingAndGlyphs">2070s water use</text><text class="lbl" x="40" y="132" textLength="145.5" lengthAdjust="spacingAndGlyphs">without climate</text><text class="lbl" x="40" y="158.7" textLength="65.3" lengthAdjust="spacingAndGlyphs">change</text></svg>
<div class="legend" style="top:568px;height:133px"><svg width="1239" height="135" viewBox="36 0 1239 135"><text class="t" x="66" y="45.2" textLength="252" lengthAdjust="spacingAndGlyphs">Future return period [years] of</text><text class="t" x="66" y="71.7" textLength="308" lengthAdjust="spacingAndGlyphs">droughts with an intensity of today’s</text><text class="t" x="66" y="98.2" textLength="137" lengthAdjust="spacingAndGlyphs">100-year events:</text><rect x="402.5" y="52.5" width="283.3" height="26.5" fill="#fdd9a5"/><rect x="685.8" y="52.5" width="139.4" height="26.5" fill="#ff9a00"/><rect x="825.2" y="52.5" width="140" height="26.5" fill="#c46a05"/><rect x="965.2" y="52.5" width="139.3" height="26.5" fill="#e80b00"/><rect x="1104.5" y="52.5" width="140.5" height="26.5" fill="#920f05"/><line x1="685.8" y1="52.5" x2="685.8" y2="79" stroke="#444" stroke-width="1"/><line x1="825.2" y1="52.5" x2="825.2" y2="79" stroke="#444" stroke-width="1"/><line x1="965.2" y1="52.5" x2="965.2" y2="79" stroke="#444" stroke-width="1"/><line x1="1104.5" y1="52.5" x2="1104.5" y2="79" stroke="#444" stroke-width="1"/><rect x="402.5" y="52.5" width="842.5" height="26.5" fill="none" stroke="#444" stroke-width="1"/><text class="t" x="404" y="45.3" text-anchor="start" textLength="107" lengthAdjust="spacingAndGlyphs">less frequent</text><text class="t" x="639" y="45.3" text-anchor="start" textLength="87" lengthAdjust="spacingAndGlyphs">no change</text><text class="t" x="1245" y="45.3" text-anchor="end" textLength="120" lengthAdjust="spacingAndGlyphs">more frequent</text><text class="n" x="403" y="103" text-anchor="start">&lt;</text><text class="n" x="686" y="103" text-anchor="middle">100</text><text class="n" x="825" y="103" text-anchor="middle">70</text><text class="n" x="965" y="103" text-anchor="middle">40</text><text class="n" x="1104" y="103" text-anchor="middle">10</text><text class="n" x="1246" y="103" text-anchor="end">&gt;</text></svg></div>
<div class="legend" style="top:1276px;height:133px"><svg width="1239" height="135" viewBox="36 0 1239 135"><text class="t" x="66" y="47.5" textLength="252" lengthAdjust="spacingAndGlyphs">Future change [%] in intensity</text><text class="t" x="66" y="74" textLength="230" lengthAdjust="spacingAndGlyphs">(deficit volume) of 100-year</text><text class="t" x="66" y="100.5" textLength="77" lengthAdjust="spacingAndGlyphs">droughts:</text><rect x="409" y="53.5" width="283.3" height="25.5" fill="#fdd491"/><rect x="692.3" y="53.5" width="139.1" height="25.5" fill="#ddeeff"/><rect x="831.4" y="53.5" width="139.5" height="25.5" fill="#8795c4"/><rect x="970.9" y="53.5" width="139.1" height="25.5" fill="#2a3b8f"/><rect x="1110" y="53.5" width="139.5" height="25.5" fill="#001572"/><line x1="692.3" y1="53.5" x2="692.3" y2="79" stroke="#444" stroke-width="1"/><line x1="831.4" y1="53.5" x2="831.4" y2="79" stroke="#444" stroke-width="1"/><line x1="970.9" y1="53.5" x2="970.9" y2="79" stroke="#444" stroke-width="1"/><line x1="1110" y1="53.5" x2="1110" y2="79" stroke="#444" stroke-width="1"/><rect x="409" y="53.5" width="840.5" height="25.5" fill="none" stroke="#444" stroke-width="1"/><text class="t" x="409" y="43" text-anchor="start" textLength="75.5" lengthAdjust="spacingAndGlyphs">decrease</text><text class="t" x="662.6" y="43" text-anchor="start" textLength="87" lengthAdjust="spacingAndGlyphs">no change</text><text class="t" x="1250" y="43" text-anchor="end" textLength="67" lengthAdjust="spacingAndGlyphs">increase</text><text class="n" x="410" y="100.5" text-anchor="start">&lt;</text><text class="n" x="694" y="100.5" text-anchor="middle">0</text><text class="n" x="833" y="100.5" text-anchor="middle">5</text><text class="n" x="972" y="100.5" text-anchor="middle">10</text><text class="n" x="1108" y="100.5" text-anchor="middle">25</text><text class="n" x="1246" y="100.5" text-anchor="end">&gt;</text></svg></div>
</body></html>
